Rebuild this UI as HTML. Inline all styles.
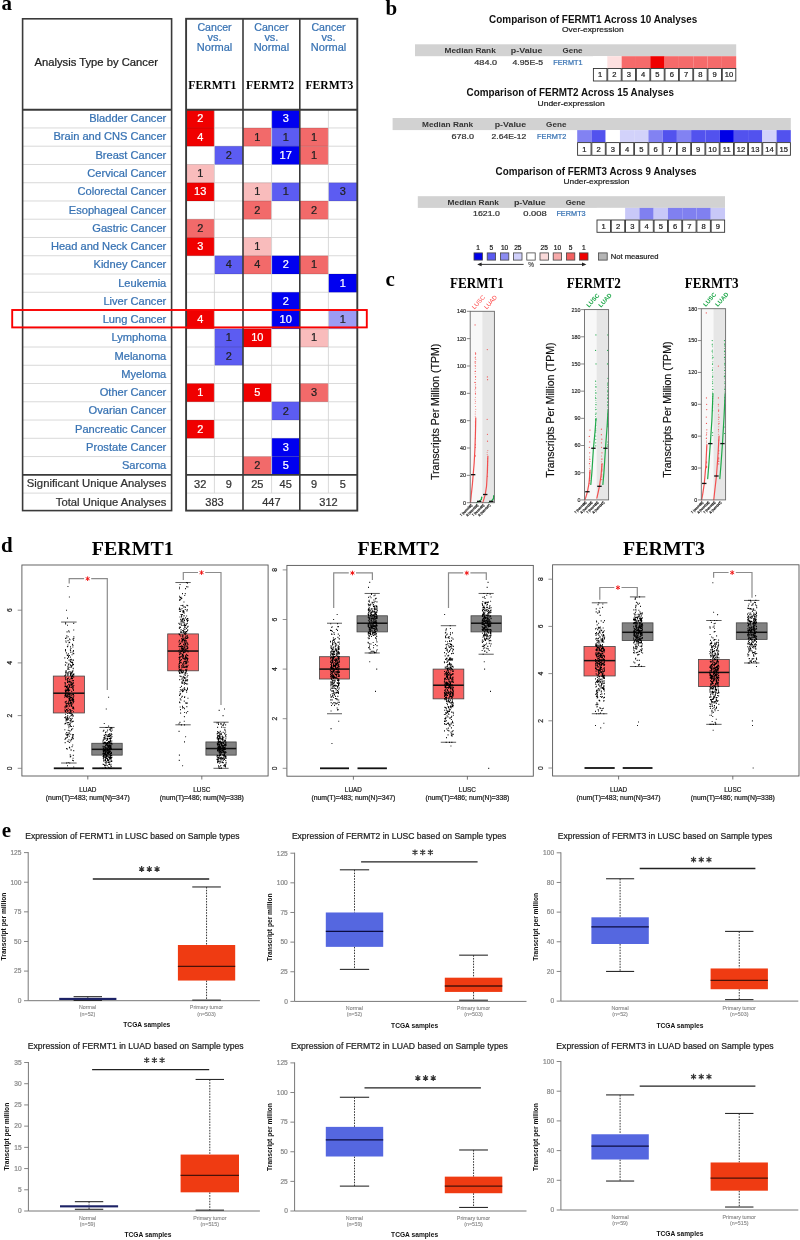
<!DOCTYPE html>
<html><head><meta charset="utf-8"><title>Figure</title>
<style>html,body{margin:0;padding:0;background:#fff;width:800px;height:1240px;overflow:hidden}svg{display:block}</style>
</head><body>
<svg width="800" height="1240" viewBox="0 0 800 1240">
<rect width="800" height="1240" fill="#fff"/>
<text x="1.50" y="9.60" font-size="21" fill="#000" font-family='"Liberation Serif", serif' font-weight="bold">a</text>
<text x="385.50" y="14.50" font-size="21" fill="#000" font-family='"Liberation Serif", serif' font-weight="bold">b</text>
<text x="385.50" y="285.70" font-size="21" fill="#000" font-family='"Liberation Serif", serif' font-weight="bold">c</text>
<text x="1.00" y="551.50" font-size="21" fill="#000" font-family='"Liberation Serif", serif' font-weight="bold">d</text>
<text x="1.80" y="836.80" font-size="21" fill="#000" font-family='"Liberation Serif", serif' font-weight="bold">e</text>
<text x="166.30" y="122.23" font-size="10.1" fill="#3772b3" font-family='"Liberation Sans", sans-serif' text-anchor="end" textLength="77.1" lengthAdjust="spacingAndGlyphs" stroke="#3772b3" stroke-width="0.22">Bladder Cancer</text>
<line x1="22.60" y1="127.96" x2="171.60" y2="127.96" stroke="#cfcfcf" stroke-width="0.8"/>
<text x="166.30" y="140.48" font-size="10.1" fill="#3772b3" font-family='"Liberation Sans", sans-serif' text-anchor="end" textLength="112.9" lengthAdjust="spacingAndGlyphs" stroke="#3772b3" stroke-width="0.22">Brain and CNS Cancer</text>
<line x1="22.60" y1="146.21" x2="171.60" y2="146.21" stroke="#cfcfcf" stroke-width="0.8"/>
<text x="166.30" y="158.74" font-size="10.1" fill="#3772b3" font-family='"Liberation Sans", sans-serif' text-anchor="end" textLength="70.9" lengthAdjust="spacingAndGlyphs" stroke="#3772b3" stroke-width="0.22">Breast Cancer</text>
<line x1="22.60" y1="164.47" x2="171.60" y2="164.47" stroke="#cfcfcf" stroke-width="0.8"/>
<text x="166.30" y="176.99" font-size="10.1" fill="#3772b3" font-family='"Liberation Sans", sans-serif' text-anchor="end" textLength="79.0" lengthAdjust="spacingAndGlyphs" stroke="#3772b3" stroke-width="0.22">Cervical Cancer</text>
<line x1="22.60" y1="182.72" x2="171.60" y2="182.72" stroke="#cfcfcf" stroke-width="0.8"/>
<text x="166.30" y="195.25" font-size="10.1" fill="#3772b3" font-family='"Liberation Sans", sans-serif' text-anchor="end" textLength="88.8" lengthAdjust="spacingAndGlyphs" stroke="#3772b3" stroke-width="0.22">Colorectal Cancer</text>
<line x1="22.60" y1="200.98" x2="171.60" y2="200.98" stroke="#cfcfcf" stroke-width="0.8"/>
<text x="166.30" y="213.50" font-size="10.1" fill="#3772b3" font-family='"Liberation Sans", sans-serif' text-anchor="end" textLength="97.5" lengthAdjust="spacingAndGlyphs" stroke="#3772b3" stroke-width="0.22">Esophageal Cancer</text>
<line x1="22.60" y1="219.23" x2="171.60" y2="219.23" stroke="#cfcfcf" stroke-width="0.8"/>
<text x="166.30" y="231.76" font-size="10.1" fill="#3772b3" font-family='"Liberation Sans", sans-serif' text-anchor="end" textLength="74.0" lengthAdjust="spacingAndGlyphs" stroke="#3772b3" stroke-width="0.22">Gastric Cancer</text>
<line x1="22.60" y1="237.49" x2="171.60" y2="237.49" stroke="#cfcfcf" stroke-width="0.8"/>
<text x="166.30" y="250.01" font-size="10.1" fill="#3772b3" font-family='"Liberation Sans", sans-serif' text-anchor="end" textLength="115.4" lengthAdjust="spacingAndGlyphs" stroke="#3772b3" stroke-width="0.22">Head and Neck Cancer</text>
<line x1="22.60" y1="255.74" x2="171.60" y2="255.74" stroke="#cfcfcf" stroke-width="0.8"/>
<text x="166.30" y="268.27" font-size="10.1" fill="#3772b3" font-family='"Liberation Sans", sans-serif' text-anchor="end" textLength="72.8" lengthAdjust="spacingAndGlyphs" stroke="#3772b3" stroke-width="0.22">Kidney Cancer</text>
<line x1="22.60" y1="274.00" x2="171.60" y2="274.00" stroke="#cfcfcf" stroke-width="0.8"/>
<text x="166.30" y="286.52" font-size="10.1" fill="#3772b3" font-family='"Liberation Sans", sans-serif' text-anchor="end" textLength="48.1" lengthAdjust="spacingAndGlyphs" stroke="#3772b3" stroke-width="0.22">Leukemia</text>
<line x1="22.60" y1="292.25" x2="171.60" y2="292.25" stroke="#cfcfcf" stroke-width="0.8"/>
<text x="166.30" y="304.78" font-size="10.1" fill="#3772b3" font-family='"Liberation Sans", sans-serif' text-anchor="end" textLength="62.9" lengthAdjust="spacingAndGlyphs" stroke="#3772b3" stroke-width="0.22">Liver Cancer</text>
<line x1="22.60" y1="310.51" x2="171.60" y2="310.51" stroke="#cfcfcf" stroke-width="0.8"/>
<text x="166.30" y="323.03" font-size="10.1" fill="#3772b3" font-family='"Liberation Sans", sans-serif' text-anchor="end" textLength="63.6" lengthAdjust="spacingAndGlyphs" stroke="#3772b3" stroke-width="0.22">Lung Cancer</text>
<line x1="22.60" y1="328.76" x2="171.60" y2="328.76" stroke="#cfcfcf" stroke-width="0.8"/>
<text x="166.30" y="341.29" font-size="10.1" fill="#3772b3" font-family='"Liberation Sans", sans-serif' text-anchor="end" textLength="54.9" lengthAdjust="spacingAndGlyphs" stroke="#3772b3" stroke-width="0.22">Lymphoma</text>
<line x1="22.60" y1="347.02" x2="171.60" y2="347.02" stroke="#cfcfcf" stroke-width="0.8"/>
<text x="166.30" y="359.54" font-size="10.1" fill="#3772b3" font-family='"Liberation Sans", sans-serif' text-anchor="end" textLength="51.8" lengthAdjust="spacingAndGlyphs" stroke="#3772b3" stroke-width="0.22">Melanoma</text>
<line x1="22.60" y1="365.27" x2="171.60" y2="365.27" stroke="#cfcfcf" stroke-width="0.8"/>
<text x="166.30" y="377.80" font-size="10.1" fill="#3772b3" font-family='"Liberation Sans", sans-serif' text-anchor="end" textLength="45.0" lengthAdjust="spacingAndGlyphs" stroke="#3772b3" stroke-width="0.22">Myeloma</text>
<line x1="22.60" y1="383.53" x2="171.60" y2="383.53" stroke="#cfcfcf" stroke-width="0.8"/>
<text x="166.30" y="396.05" font-size="10.1" fill="#3772b3" font-family='"Liberation Sans", sans-serif' text-anchor="end" textLength="66.6" lengthAdjust="spacingAndGlyphs" stroke="#3772b3" stroke-width="0.22">Other Cancer</text>
<line x1="22.60" y1="401.78" x2="171.60" y2="401.78" stroke="#cfcfcf" stroke-width="0.8"/>
<text x="166.30" y="414.31" font-size="10.1" fill="#3772b3" font-family='"Liberation Sans", sans-serif' text-anchor="end" textLength="77.7" lengthAdjust="spacingAndGlyphs" stroke="#3772b3" stroke-width="0.22">Ovarian Cancer</text>
<line x1="22.60" y1="420.04" x2="171.60" y2="420.04" stroke="#cfcfcf" stroke-width="0.8"/>
<text x="166.30" y="432.56" font-size="10.1" fill="#3772b3" font-family='"Liberation Sans", sans-serif' text-anchor="end" textLength="91.3" lengthAdjust="spacingAndGlyphs" stroke="#3772b3" stroke-width="0.22">Pancreatic Cancer</text>
<line x1="22.60" y1="438.29" x2="171.60" y2="438.29" stroke="#cfcfcf" stroke-width="0.8"/>
<text x="166.30" y="450.82" font-size="10.1" fill="#3772b3" font-family='"Liberation Sans", sans-serif' text-anchor="end" textLength="80.2" lengthAdjust="spacingAndGlyphs" stroke="#3772b3" stroke-width="0.22">Prostate Cancer</text>
<line x1="22.60" y1="456.55" x2="171.60" y2="456.55" stroke="#cfcfcf" stroke-width="0.8"/>
<text x="166.30" y="469.07" font-size="10.1" fill="#3772b3" font-family='"Liberation Sans", sans-serif' text-anchor="end" textLength="44.4" lengthAdjust="spacingAndGlyphs" stroke="#3772b3" stroke-width="0.22">Sarcoma</text>
<line x1="22.60" y1="493.10" x2="171.60" y2="493.10" stroke="#cfcfcf" stroke-width="0.8"/>
<text x="166.30" y="487.33" font-size="10.1" fill="#333" font-family='"Liberation Sans", sans-serif' text-anchor="end" textLength="139.5" lengthAdjust="spacingAndGlyphs" stroke="#333" stroke-width="0.22">Significant Unique Analyses</text>
<text x="166.30" y="505.63" font-size="10.1" fill="#333" font-family='"Liberation Sans", sans-serif' text-anchor="end" textLength="110.5" lengthAdjust="spacingAndGlyphs" stroke="#333" stroke-width="0.22">Total Unique Analyses</text>
<text x="96.20" y="66.00" font-size="10.1" fill="#222" font-family='"Liberation Sans", sans-serif' text-anchor="middle" textLength="123.5" lengthAdjust="spacingAndGlyphs" stroke="#222" stroke-width="0.22">Analysis Type by Cancer</text>
<rect x="186.10" y="109.70" width="28.30" height="18.26" fill="#f00000"/>
<text x="200.25" y="122.43" font-size="10.2" fill="#fff" font-family='"Liberation Sans", sans-serif' text-anchor="middle" textLength="6.1" lengthAdjust="spacingAndGlyphs" stroke="#fff" stroke-width="0.22">2</text>
<rect x="271.60" y="109.70" width="28.20" height="18.26" fill="#0000f0"/>
<text x="285.70" y="122.43" font-size="10.2" fill="#fff" font-family='"Liberation Sans", sans-serif' text-anchor="middle" textLength="6.1" lengthAdjust="spacingAndGlyphs" stroke="#fff" stroke-width="0.22">3</text>
<rect x="186.10" y="127.96" width="28.30" height="18.26" fill="#f00000"/>
<text x="200.25" y="140.68" font-size="10.2" fill="#fff" font-family='"Liberation Sans", sans-serif' text-anchor="middle" textLength="6.1" lengthAdjust="spacingAndGlyphs" stroke="#fff" stroke-width="0.22">4</text>
<rect x="243.00" y="127.96" width="28.60" height="18.26" fill="#f26a6a"/>
<text x="257.30" y="140.68" font-size="10.2" fill="#222" font-family='"Liberation Sans", sans-serif' text-anchor="middle" textLength="6.1" lengthAdjust="spacingAndGlyphs" stroke="#222" stroke-width="0.22">1</text>
<rect x="271.60" y="127.96" width="28.20" height="18.26" fill="#5c5cf2"/>
<text x="285.70" y="140.68" font-size="10.2" fill="#222" font-family='"Liberation Sans", sans-serif' text-anchor="middle" textLength="6.1" lengthAdjust="spacingAndGlyphs" stroke="#222" stroke-width="0.22">1</text>
<rect x="299.80" y="127.96" width="28.60" height="18.26" fill="#f26a6a"/>
<text x="314.10" y="140.68" font-size="10.2" fill="#222" font-family='"Liberation Sans", sans-serif' text-anchor="middle" textLength="6.1" lengthAdjust="spacingAndGlyphs" stroke="#222" stroke-width="0.22">1</text>
<rect x="214.40" y="146.21" width="28.60" height="18.26" fill="#5c5cf2"/>
<text x="228.70" y="158.94" font-size="10.2" fill="#222" font-family='"Liberation Sans", sans-serif' text-anchor="middle" textLength="6.1" lengthAdjust="spacingAndGlyphs" stroke="#222" stroke-width="0.22">2</text>
<rect x="271.60" y="146.21" width="28.20" height="18.26" fill="#0000f0"/>
<text x="285.70" y="158.94" font-size="10.2" fill="#fff" font-family='"Liberation Sans", sans-serif' text-anchor="middle" textLength="12.3" lengthAdjust="spacingAndGlyphs" stroke="#fff" stroke-width="0.22">17</text>
<rect x="299.80" y="146.21" width="28.60" height="18.26" fill="#f26a6a"/>
<text x="314.10" y="158.94" font-size="10.2" fill="#222" font-family='"Liberation Sans", sans-serif' text-anchor="middle" textLength="6.1" lengthAdjust="spacingAndGlyphs" stroke="#222" stroke-width="0.22">1</text>
<rect x="186.10" y="164.47" width="28.30" height="18.26" fill="#f9bcbc"/>
<text x="200.25" y="177.19" font-size="10.2" fill="#222" font-family='"Liberation Sans", sans-serif' text-anchor="middle" textLength="6.1" lengthAdjust="spacingAndGlyphs" stroke="#222" stroke-width="0.22">1</text>
<rect x="186.10" y="182.72" width="28.30" height="18.26" fill="#f00000"/>
<text x="200.25" y="195.45" font-size="10.2" fill="#fff" font-family='"Liberation Sans", sans-serif' text-anchor="middle" textLength="12.3" lengthAdjust="spacingAndGlyphs" stroke="#fff" stroke-width="0.22">13</text>
<rect x="243.00" y="182.72" width="28.60" height="18.26" fill="#f9bcbc"/>
<text x="257.30" y="195.45" font-size="10.2" fill="#222" font-family='"Liberation Sans", sans-serif' text-anchor="middle" textLength="6.1" lengthAdjust="spacingAndGlyphs" stroke="#222" stroke-width="0.22">1</text>
<rect x="271.60" y="182.72" width="28.20" height="18.26" fill="#5c5cf2"/>
<text x="285.70" y="195.45" font-size="10.2" fill="#222" font-family='"Liberation Sans", sans-serif' text-anchor="middle" textLength="6.1" lengthAdjust="spacingAndGlyphs" stroke="#222" stroke-width="0.22">1</text>
<rect x="328.40" y="182.72" width="28.90" height="18.26" fill="#5c5cf2"/>
<text x="342.85" y="195.45" font-size="10.2" fill="#222" font-family='"Liberation Sans", sans-serif' text-anchor="middle" textLength="6.1" lengthAdjust="spacingAndGlyphs" stroke="#222" stroke-width="0.22">3</text>
<rect x="243.00" y="200.98" width="28.60" height="18.26" fill="#f26a6a"/>
<text x="257.30" y="213.70" font-size="10.2" fill="#222" font-family='"Liberation Sans", sans-serif' text-anchor="middle" textLength="6.1" lengthAdjust="spacingAndGlyphs" stroke="#222" stroke-width="0.22">2</text>
<rect x="299.80" y="200.98" width="28.60" height="18.26" fill="#f26a6a"/>
<text x="314.10" y="213.70" font-size="10.2" fill="#222" font-family='"Liberation Sans", sans-serif' text-anchor="middle" textLength="6.1" lengthAdjust="spacingAndGlyphs" stroke="#222" stroke-width="0.22">2</text>
<rect x="186.10" y="219.23" width="28.30" height="18.26" fill="#f26a6a"/>
<text x="200.25" y="231.96" font-size="10.2" fill="#222" font-family='"Liberation Sans", sans-serif' text-anchor="middle" textLength="6.1" lengthAdjust="spacingAndGlyphs" stroke="#222" stroke-width="0.22">2</text>
<rect x="186.10" y="237.49" width="28.30" height="18.26" fill="#f00000"/>
<text x="200.25" y="250.21" font-size="10.2" fill="#fff" font-family='"Liberation Sans", sans-serif' text-anchor="middle" textLength="6.1" lengthAdjust="spacingAndGlyphs" stroke="#fff" stroke-width="0.22">3</text>
<rect x="243.00" y="237.49" width="28.60" height="18.26" fill="#f9bcbc"/>
<text x="257.30" y="250.21" font-size="10.2" fill="#222" font-family='"Liberation Sans", sans-serif' text-anchor="middle" textLength="6.1" lengthAdjust="spacingAndGlyphs" stroke="#222" stroke-width="0.22">1</text>
<rect x="214.40" y="255.74" width="28.60" height="18.26" fill="#5c5cf2"/>
<text x="228.70" y="268.47" font-size="10.2" fill="#222" font-family='"Liberation Sans", sans-serif' text-anchor="middle" textLength="6.1" lengthAdjust="spacingAndGlyphs" stroke="#222" stroke-width="0.22">4</text>
<rect x="243.00" y="255.74" width="28.60" height="18.26" fill="#f26a6a"/>
<text x="257.30" y="268.47" font-size="10.2" fill="#222" font-family='"Liberation Sans", sans-serif' text-anchor="middle" textLength="6.1" lengthAdjust="spacingAndGlyphs" stroke="#222" stroke-width="0.22">4</text>
<rect x="271.60" y="255.74" width="28.20" height="18.26" fill="#0000f0"/>
<text x="285.70" y="268.47" font-size="10.2" fill="#fff" font-family='"Liberation Sans", sans-serif' text-anchor="middle" textLength="6.1" lengthAdjust="spacingAndGlyphs" stroke="#fff" stroke-width="0.22">2</text>
<rect x="299.80" y="255.74" width="28.60" height="18.26" fill="#f26a6a"/>
<text x="314.10" y="268.47" font-size="10.2" fill="#222" font-family='"Liberation Sans", sans-serif' text-anchor="middle" textLength="6.1" lengthAdjust="spacingAndGlyphs" stroke="#222" stroke-width="0.22">1</text>
<rect x="328.40" y="274.00" width="28.90" height="18.26" fill="#0000f0"/>
<text x="342.85" y="286.72" font-size="10.2" fill="#fff" font-family='"Liberation Sans", sans-serif' text-anchor="middle" textLength="6.1" lengthAdjust="spacingAndGlyphs" stroke="#fff" stroke-width="0.22">1</text>
<rect x="271.60" y="292.25" width="28.20" height="18.26" fill="#0000f0"/>
<text x="285.70" y="304.98" font-size="10.2" fill="#fff" font-family='"Liberation Sans", sans-serif' text-anchor="middle" textLength="6.1" lengthAdjust="spacingAndGlyphs" stroke="#fff" stroke-width="0.22">2</text>
<rect x="186.10" y="310.51" width="28.30" height="18.26" fill="#f00000"/>
<text x="200.25" y="323.23" font-size="10.2" fill="#fff" font-family='"Liberation Sans", sans-serif' text-anchor="middle" textLength="6.1" lengthAdjust="spacingAndGlyphs" stroke="#fff" stroke-width="0.22">4</text>
<rect x="271.60" y="310.51" width="28.20" height="18.26" fill="#0000f0"/>
<text x="285.70" y="323.23" font-size="10.2" fill="#fff" font-family='"Liberation Sans", sans-serif' text-anchor="middle" textLength="12.3" lengthAdjust="spacingAndGlyphs" stroke="#fff" stroke-width="0.22">10</text>
<rect x="328.40" y="310.51" width="28.90" height="18.26" fill="#9c9cf4"/>
<text x="342.85" y="323.23" font-size="10.2" fill="#222" font-family='"Liberation Sans", sans-serif' text-anchor="middle" textLength="6.1" lengthAdjust="spacingAndGlyphs" stroke="#222" stroke-width="0.22">1</text>
<rect x="214.40" y="328.76" width="28.60" height="18.26" fill="#5c5cf2"/>
<text x="228.70" y="341.49" font-size="10.2" fill="#222" font-family='"Liberation Sans", sans-serif' text-anchor="middle" textLength="6.1" lengthAdjust="spacingAndGlyphs" stroke="#222" stroke-width="0.22">1</text>
<rect x="243.00" y="328.76" width="28.60" height="18.26" fill="#f00000"/>
<text x="257.30" y="341.49" font-size="10.2" fill="#fff" font-family='"Liberation Sans", sans-serif' text-anchor="middle" textLength="12.3" lengthAdjust="spacingAndGlyphs" stroke="#fff" stroke-width="0.22">10</text>
<rect x="299.80" y="328.76" width="28.60" height="18.26" fill="#f9bcbc"/>
<text x="314.10" y="341.49" font-size="10.2" fill="#222" font-family='"Liberation Sans", sans-serif' text-anchor="middle" textLength="6.1" lengthAdjust="spacingAndGlyphs" stroke="#222" stroke-width="0.22">1</text>
<rect x="214.40" y="347.02" width="28.60" height="18.26" fill="#5c5cf2"/>
<text x="228.70" y="359.74" font-size="10.2" fill="#222" font-family='"Liberation Sans", sans-serif' text-anchor="middle" textLength="6.1" lengthAdjust="spacingAndGlyphs" stroke="#222" stroke-width="0.22">2</text>
<rect x="186.10" y="383.53" width="28.30" height="18.26" fill="#f00000"/>
<text x="200.25" y="396.25" font-size="10.2" fill="#fff" font-family='"Liberation Sans", sans-serif' text-anchor="middle" textLength="6.1" lengthAdjust="spacingAndGlyphs" stroke="#fff" stroke-width="0.22">1</text>
<rect x="243.00" y="383.53" width="28.60" height="18.26" fill="#f00000"/>
<text x="257.30" y="396.25" font-size="10.2" fill="#fff" font-family='"Liberation Sans", sans-serif' text-anchor="middle" textLength="6.1" lengthAdjust="spacingAndGlyphs" stroke="#fff" stroke-width="0.22">5</text>
<rect x="299.80" y="383.53" width="28.60" height="18.26" fill="#f26a6a"/>
<text x="314.10" y="396.25" font-size="10.2" fill="#222" font-family='"Liberation Sans", sans-serif' text-anchor="middle" textLength="6.1" lengthAdjust="spacingAndGlyphs" stroke="#222" stroke-width="0.22">3</text>
<rect x="271.60" y="401.78" width="28.20" height="18.26" fill="#5c5cf2"/>
<text x="285.70" y="414.51" font-size="10.2" fill="#222" font-family='"Liberation Sans", sans-serif' text-anchor="middle" textLength="6.1" lengthAdjust="spacingAndGlyphs" stroke="#222" stroke-width="0.22">2</text>
<rect x="186.10" y="420.04" width="28.30" height="18.26" fill="#f00000"/>
<text x="200.25" y="432.76" font-size="10.2" fill="#fff" font-family='"Liberation Sans", sans-serif' text-anchor="middle" textLength="6.1" lengthAdjust="spacingAndGlyphs" stroke="#fff" stroke-width="0.22">2</text>
<rect x="271.60" y="438.29" width="28.20" height="18.26" fill="#0000f0"/>
<text x="285.70" y="451.02" font-size="10.2" fill="#fff" font-family='"Liberation Sans", sans-serif' text-anchor="middle" textLength="6.1" lengthAdjust="spacingAndGlyphs" stroke="#fff" stroke-width="0.22">3</text>
<rect x="243.00" y="456.55" width="28.60" height="18.26" fill="#f26a6a"/>
<text x="257.30" y="469.27" font-size="10.2" fill="#222" font-family='"Liberation Sans", sans-serif' text-anchor="middle" textLength="6.1" lengthAdjust="spacingAndGlyphs" stroke="#222" stroke-width="0.22">2</text>
<rect x="271.60" y="456.55" width="28.20" height="18.26" fill="#0000f0"/>
<text x="285.70" y="469.27" font-size="10.2" fill="#fff" font-family='"Liberation Sans", sans-serif' text-anchor="middle" textLength="6.1" lengthAdjust="spacingAndGlyphs" stroke="#fff" stroke-width="0.22">5</text>
<line x1="186.1" y1="127.96" x2="357.3" y2="127.96" stroke="#cfcfcf" stroke-width="0.8" style="mix-blend-mode:multiply"/>
<line x1="186.1" y1="146.21" x2="357.3" y2="146.21" stroke="#cfcfcf" stroke-width="0.8" style="mix-blend-mode:multiply"/>
<line x1="186.1" y1="164.47" x2="357.3" y2="164.47" stroke="#cfcfcf" stroke-width="0.8" style="mix-blend-mode:multiply"/>
<line x1="186.1" y1="182.72" x2="357.3" y2="182.72" stroke="#cfcfcf" stroke-width="0.8" style="mix-blend-mode:multiply"/>
<line x1="186.1" y1="200.98" x2="357.3" y2="200.98" stroke="#cfcfcf" stroke-width="0.8" style="mix-blend-mode:multiply"/>
<line x1="186.1" y1="219.23" x2="357.3" y2="219.23" stroke="#cfcfcf" stroke-width="0.8" style="mix-blend-mode:multiply"/>
<line x1="186.1" y1="237.49" x2="357.3" y2="237.49" stroke="#cfcfcf" stroke-width="0.8" style="mix-blend-mode:multiply"/>
<line x1="186.1" y1="255.74" x2="357.3" y2="255.74" stroke="#cfcfcf" stroke-width="0.8" style="mix-blend-mode:multiply"/>
<line x1="186.1" y1="274.00" x2="357.3" y2="274.00" stroke="#cfcfcf" stroke-width="0.8" style="mix-blend-mode:multiply"/>
<line x1="186.1" y1="292.25" x2="357.3" y2="292.25" stroke="#cfcfcf" stroke-width="0.8" style="mix-blend-mode:multiply"/>
<line x1="186.1" y1="310.51" x2="357.3" y2="310.51" stroke="#cfcfcf" stroke-width="0.8" style="mix-blend-mode:multiply"/>
<line x1="186.1" y1="328.76" x2="357.3" y2="328.76" stroke="#cfcfcf" stroke-width="0.8" style="mix-blend-mode:multiply"/>
<line x1="186.1" y1="347.02" x2="357.3" y2="347.02" stroke="#cfcfcf" stroke-width="0.8" style="mix-blend-mode:multiply"/>
<line x1="186.1" y1="365.27" x2="357.3" y2="365.27" stroke="#cfcfcf" stroke-width="0.8" style="mix-blend-mode:multiply"/>
<line x1="186.1" y1="383.53" x2="357.3" y2="383.53" stroke="#cfcfcf" stroke-width="0.8" style="mix-blend-mode:multiply"/>
<line x1="186.1" y1="401.78" x2="357.3" y2="401.78" stroke="#cfcfcf" stroke-width="0.8" style="mix-blend-mode:multiply"/>
<line x1="186.1" y1="420.04" x2="357.3" y2="420.04" stroke="#cfcfcf" stroke-width="0.8" style="mix-blend-mode:multiply"/>
<line x1="186.1" y1="438.29" x2="357.3" y2="438.29" stroke="#cfcfcf" stroke-width="0.8" style="mix-blend-mode:multiply"/>
<line x1="186.1" y1="456.55" x2="357.3" y2="456.55" stroke="#cfcfcf" stroke-width="0.8" style="mix-blend-mode:multiply"/>
<line x1="186.10" y1="493.10" x2="357.30" y2="493.10" stroke="#cfcfcf" stroke-width="0.8"/>
<line x1="214.40" y1="109.70" x2="214.40" y2="493.10" stroke="#cfcfcf" stroke-width="0.8"/>
<line x1="271.60" y1="109.70" x2="271.60" y2="493.10" stroke="#cfcfcf" stroke-width="0.8"/>
<line x1="328.40" y1="109.70" x2="328.40" y2="493.10" stroke="#cfcfcf" stroke-width="0.8"/>
<text x="200.25" y="487.53" font-size="10.2" fill="#333" font-family='"Liberation Sans", sans-serif' text-anchor="middle" textLength="12.3" lengthAdjust="spacingAndGlyphs" stroke="#333" stroke-width="0.22">32</text>
<text x="228.70" y="487.53" font-size="10.2" fill="#333" font-family='"Liberation Sans", sans-serif' text-anchor="middle" textLength="6.1" lengthAdjust="spacingAndGlyphs" stroke="#333" stroke-width="0.22">9</text>
<text x="257.30" y="487.53" font-size="10.2" fill="#333" font-family='"Liberation Sans", sans-serif' text-anchor="middle" textLength="12.3" lengthAdjust="spacingAndGlyphs" stroke="#333" stroke-width="0.22">25</text>
<text x="285.70" y="487.53" font-size="10.2" fill="#333" font-family='"Liberation Sans", sans-serif' text-anchor="middle" textLength="12.3" lengthAdjust="spacingAndGlyphs" stroke="#333" stroke-width="0.22">45</text>
<text x="314.10" y="487.53" font-size="10.2" fill="#333" font-family='"Liberation Sans", sans-serif' text-anchor="middle" textLength="6.1" lengthAdjust="spacingAndGlyphs" stroke="#333" stroke-width="0.22">9</text>
<text x="342.85" y="487.53" font-size="10.2" fill="#333" font-family='"Liberation Sans", sans-serif' text-anchor="middle" textLength="6.1" lengthAdjust="spacingAndGlyphs" stroke="#333" stroke-width="0.22">5</text>
<text x="214.55" y="505.83" font-size="10.2" fill="#333" font-family='"Liberation Sans", sans-serif' text-anchor="middle" textLength="18.4" lengthAdjust="spacingAndGlyphs" stroke="#333" stroke-width="0.22">383</text>
<text x="271.40" y="505.83" font-size="10.2" fill="#333" font-family='"Liberation Sans", sans-serif' text-anchor="middle" textLength="18.4" lengthAdjust="spacingAndGlyphs" stroke="#333" stroke-width="0.22">447</text>
<text x="328.55" y="505.83" font-size="10.2" fill="#333" font-family='"Liberation Sans", sans-serif' text-anchor="middle" textLength="18.4" lengthAdjust="spacingAndGlyphs" stroke="#333" stroke-width="0.22">312</text>
<text x="214.55" y="31.20" font-size="10.6" fill="#3772b3" font-family='"Liberation Sans", sans-serif' text-anchor="middle" textLength="34.2" lengthAdjust="spacingAndGlyphs" stroke="#3772b3" stroke-width="0.22">Cancer</text>
<text x="214.55" y="41.20" font-size="10.6" fill="#3772b3" font-family='"Liberation Sans", sans-serif' text-anchor="middle" textLength="14.0" lengthAdjust="spacingAndGlyphs" stroke="#3772b3" stroke-width="0.22">vs.</text>
<text x="214.55" y="51.30" font-size="10.6" fill="#3772b3" font-family='"Liberation Sans", sans-serif' text-anchor="middle" textLength="35.5" lengthAdjust="spacingAndGlyphs" stroke="#3772b3" stroke-width="0.22">Normal</text>
<text x="212.30" y="89.20" font-size="12.6" fill="#000" font-family='"Liberation Serif", serif' font-weight="bold" text-anchor="middle" textLength="48.0" lengthAdjust="spacingAndGlyphs">FERMT1</text>
<text x="271.40" y="31.20" font-size="10.6" fill="#3772b3" font-family='"Liberation Sans", sans-serif' text-anchor="middle" textLength="34.2" lengthAdjust="spacingAndGlyphs" stroke="#3772b3" stroke-width="0.22">Cancer</text>
<text x="271.40" y="41.20" font-size="10.6" fill="#3772b3" font-family='"Liberation Sans", sans-serif' text-anchor="middle" textLength="14.0" lengthAdjust="spacingAndGlyphs" stroke="#3772b3" stroke-width="0.22">vs.</text>
<text x="271.40" y="51.30" font-size="10.6" fill="#3772b3" font-family='"Liberation Sans", sans-serif' text-anchor="middle" textLength="35.5" lengthAdjust="spacingAndGlyphs" stroke="#3772b3" stroke-width="0.22">Normal</text>
<text x="270.10" y="89.20" font-size="12.6" fill="#000" font-family='"Liberation Serif", serif' font-weight="bold" text-anchor="middle" textLength="48.0" lengthAdjust="spacingAndGlyphs">FERMT2</text>
<text x="328.55" y="31.20" font-size="10.6" fill="#3772b3" font-family='"Liberation Sans", sans-serif' text-anchor="middle" textLength="34.2" lengthAdjust="spacingAndGlyphs" stroke="#3772b3" stroke-width="0.22">Cancer</text>
<text x="328.55" y="41.20" font-size="10.6" fill="#3772b3" font-family='"Liberation Sans", sans-serif' text-anchor="middle" textLength="14.0" lengthAdjust="spacingAndGlyphs" stroke="#3772b3" stroke-width="0.22">vs.</text>
<text x="328.55" y="51.30" font-size="10.6" fill="#3772b3" font-family='"Liberation Sans", sans-serif' text-anchor="middle" textLength="35.5" lengthAdjust="spacingAndGlyphs" stroke="#3772b3" stroke-width="0.22">Normal</text>
<text x="329.40" y="89.20" font-size="12.6" fill="#000" font-family='"Liberation Serif", serif' font-weight="bold" text-anchor="middle" textLength="48.0" lengthAdjust="spacingAndGlyphs">FERMT3</text>
<rect x="22.60" y="18.80" width="149.00" height="491.80" fill="none" stroke="#3a3a3a" stroke-width="1.6"/>
<rect x="186.10" y="18.80" width="171.20" height="491.80" fill="none" stroke="#3a3a3a" stroke-width="1.9"/>
<line x1="22.60" y1="109.70" x2="171.60" y2="109.70" stroke="#3a3a3a" stroke-width="2.0"/>
<line x1="186.10" y1="109.70" x2="357.30" y2="109.70" stroke="#3a3a3a" stroke-width="2.0"/>
<line x1="22.60" y1="474.80" x2="171.60" y2="474.80" stroke="#3a3a3a" stroke-width="1.8"/>
<line x1="186.10" y1="474.80" x2="357.30" y2="474.80" stroke="#3a3a3a" stroke-width="1.8"/>
<line x1="243.00" y1="18.80" x2="243.00" y2="510.60" stroke="#3a3a3a" stroke-width="1.6"/>
<line x1="299.80" y1="18.80" x2="299.80" y2="510.60" stroke="#3a3a3a" stroke-width="1.6"/>
<rect x="12.20" y="310.00" width="354.60" height="17.40" fill="none" stroke="#fa0000" stroke-width="1.9"/>
<text x="593.20" y="22.60" font-size="10.0" fill="#111" font-family='"Liberation Sans", sans-serif' font-weight="bold" text-anchor="middle" textLength="208.2" lengthAdjust="spacingAndGlyphs">Comparison of FERMT1 Across 10 Analyses</text>
<text x="592.80" y="32.30" font-size="7.8" fill="#222" font-family='"Liberation Sans", sans-serif' text-anchor="middle" textLength="61.6" lengthAdjust="spacingAndGlyphs" stroke="#222" stroke-width="0.22">Over-expression</text>
<rect x="415.00" y="44.30" width="321.20" height="11.90" fill="#d2d2d2"/>
<text x="470.15" y="52.85" font-size="7.4" fill="#333" font-family='"Liberation Sans", sans-serif' font-weight="bold" text-anchor="middle" textLength="51.3" lengthAdjust="spacingAndGlyphs">Median Rank</text>
<text x="526.65" y="52.85" font-size="7.4" fill="#333" font-family='"Liberation Sans", sans-serif' font-weight="bold" text-anchor="middle" textLength="31.7" lengthAdjust="spacingAndGlyphs">p-Value</text>
<text x="572.50" y="52.85" font-size="7.4" fill="#333" font-family='"Liberation Sans", sans-serif' font-weight="bold" text-anchor="middle" textLength="20.0" lengthAdjust="spacingAndGlyphs">Gene</text>
<text x="485.65" y="64.75" font-size="7.4" fill="#333" font-family='"Liberation Sans", sans-serif' text-anchor="middle" textLength="22.7" lengthAdjust="spacingAndGlyphs" stroke="#333" stroke-width="0.22">484.0</text>
<text x="527.75" y="64.75" font-size="7.4" fill="#333" font-family='"Liberation Sans", sans-serif' text-anchor="middle" textLength="30.5" lengthAdjust="spacingAndGlyphs" stroke="#333" stroke-width="0.22">4.95E-5</text>
<text x="567.90" y="64.75" font-size="7.4" fill="#3772b3" font-family='"Liberation Sans", sans-serif' text-anchor="middle" textLength="29.2" lengthAdjust="spacingAndGlyphs" stroke="#3772b3" stroke-width="0.22">FERMT1</text>
<rect x="593.00" y="56.20" width="14.32" height="11.90" fill="#ffffff"/>
<rect x="593.40" y="68.50" width="13.52" height="12.50" fill="#fff" stroke="#333" stroke-width="0.9"/>
<text x="600.16" y="77.35" font-size="7.6" fill="#222" font-family='"Liberation Sans", sans-serif' text-anchor="middle" stroke="#222" stroke-width="0.22">1</text>
<rect x="607.32" y="56.20" width="14.32" height="11.90" fill="#fde0e0"/>
<rect x="607.72" y="68.50" width="13.52" height="12.50" fill="#fff" stroke="#333" stroke-width="0.9"/>
<text x="614.48" y="77.35" font-size="7.6" fill="#222" font-family='"Liberation Sans", sans-serif' text-anchor="middle" stroke="#222" stroke-width="0.22">2</text>
<rect x="621.64" y="56.20" width="14.32" height="11.90" fill="#f56a6a"/>
<rect x="622.04" y="68.50" width="13.52" height="12.50" fill="#fff" stroke="#333" stroke-width="0.9"/>
<text x="628.80" y="77.35" font-size="7.6" fill="#222" font-family='"Liberation Sans", sans-serif' text-anchor="middle" stroke="#222" stroke-width="0.22">3</text>
<rect x="635.96" y="56.20" width="14.32" height="11.90" fill="#f56a6a"/>
<rect x="636.36" y="68.50" width="13.52" height="12.50" fill="#fff" stroke="#333" stroke-width="0.9"/>
<text x="643.12" y="77.35" font-size="7.6" fill="#222" font-family='"Liberation Sans", sans-serif' text-anchor="middle" stroke="#222" stroke-width="0.22">4</text>
<rect x="650.28" y="56.20" width="14.32" height="11.90" fill="#f00000"/>
<rect x="650.68" y="68.50" width="13.52" height="12.50" fill="#fff" stroke="#333" stroke-width="0.9"/>
<text x="657.44" y="77.35" font-size="7.6" fill="#222" font-family='"Liberation Sans", sans-serif' text-anchor="middle" stroke="#222" stroke-width="0.22">5</text>
<rect x="664.60" y="56.20" width="14.32" height="11.90" fill="#f56a6a"/>
<rect x="665.00" y="68.50" width="13.52" height="12.50" fill="#fff" stroke="#333" stroke-width="0.9"/>
<text x="671.76" y="77.35" font-size="7.6" fill="#222" font-family='"Liberation Sans", sans-serif' text-anchor="middle" stroke="#222" stroke-width="0.22">6</text>
<rect x="678.92" y="56.20" width="14.32" height="11.90" fill="#f56a6a"/>
<rect x="679.32" y="68.50" width="13.52" height="12.50" fill="#fff" stroke="#333" stroke-width="0.9"/>
<text x="686.08" y="77.35" font-size="7.6" fill="#222" font-family='"Liberation Sans", sans-serif' text-anchor="middle" stroke="#222" stroke-width="0.22">7</text>
<rect x="693.24" y="56.20" width="14.32" height="11.90" fill="#f56a6a"/>
<rect x="693.64" y="68.50" width="13.52" height="12.50" fill="#fff" stroke="#333" stroke-width="0.9"/>
<text x="700.40" y="77.35" font-size="7.6" fill="#222" font-family='"Liberation Sans", sans-serif' text-anchor="middle" stroke="#222" stroke-width="0.22">8</text>
<rect x="707.56" y="56.20" width="14.32" height="11.90" fill="#f56a6a"/>
<rect x="707.96" y="68.50" width="13.52" height="12.50" fill="#fff" stroke="#333" stroke-width="0.9"/>
<text x="714.72" y="77.35" font-size="7.6" fill="#222" font-family='"Liberation Sans", sans-serif' text-anchor="middle" stroke="#222" stroke-width="0.22">9</text>
<rect x="721.88" y="56.20" width="14.32" height="11.90" fill="#f56a6a"/>
<rect x="722.28" y="68.50" width="13.52" height="12.50" fill="#fff" stroke="#333" stroke-width="0.9"/>
<text x="729.04" y="77.35" font-size="7.6" fill="#222" font-family='"Liberation Sans", sans-serif' text-anchor="middle" stroke="#222" stroke-width="0.22">10</text>
<text x="570.30" y="96.20" font-size="10.0" fill="#111" font-family='"Liberation Sans", sans-serif' font-weight="bold" text-anchor="middle" textLength="207.4" lengthAdjust="spacingAndGlyphs">Comparison of FERMT2 Across 15 Analyses</text>
<text x="571.10" y="106.40" font-size="7.8" fill="#222" font-family='"Liberation Sans", sans-serif' text-anchor="middle" textLength="67.2" lengthAdjust="spacingAndGlyphs" stroke="#222" stroke-width="0.22">Under-expression</text>
<rect x="392.60" y="118.00" width="398.20" height="12.10" fill="#d2d2d2"/>
<text x="447.60" y="126.65" font-size="7.4" fill="#333" font-family='"Liberation Sans", sans-serif' font-weight="bold" text-anchor="middle" textLength="51.2" lengthAdjust="spacingAndGlyphs">Median Rank</text>
<text x="510.45" y="126.65" font-size="7.4" fill="#333" font-family='"Liberation Sans", sans-serif' font-weight="bold" text-anchor="middle" textLength="31.5" lengthAdjust="spacingAndGlyphs">p-Value</text>
<text x="556.25" y="126.65" font-size="7.4" fill="#333" font-family='"Liberation Sans", sans-serif' font-weight="bold" text-anchor="middle" textLength="20.3" lengthAdjust="spacingAndGlyphs">Gene</text>
<text x="462.70" y="138.75" font-size="7.4" fill="#333" font-family='"Liberation Sans", sans-serif' text-anchor="middle" textLength="22.6" lengthAdjust="spacingAndGlyphs" stroke="#333" stroke-width="0.22">678.0</text>
<text x="508.85" y="138.75" font-size="7.4" fill="#333" font-family='"Liberation Sans", sans-serif' text-anchor="middle" textLength="34.7" lengthAdjust="spacingAndGlyphs" stroke="#333" stroke-width="0.22">2.64E-12</text>
<text x="551.70" y="138.75" font-size="7.4" fill="#3772b3" font-family='"Liberation Sans", sans-serif' text-anchor="middle" textLength="29.4" lengthAdjust="spacingAndGlyphs" stroke="#3772b3" stroke-width="0.22">FERMT2</text>
<rect x="577.20" y="130.10" width="14.24" height="12.10" fill="#8282f2"/>
<rect x="577.60" y="142.60" width="13.44" height="12.70" fill="#fff" stroke="#333" stroke-width="0.9"/>
<text x="584.32" y="151.55" font-size="7.6" fill="#222" font-family='"Liberation Sans", sans-serif' text-anchor="middle" stroke="#222" stroke-width="0.22">1</text>
<rect x="591.44" y="130.10" width="14.24" height="12.10" fill="#5252ee"/>
<rect x="591.84" y="142.60" width="13.44" height="12.70" fill="#fff" stroke="#333" stroke-width="0.9"/>
<text x="598.56" y="151.55" font-size="7.6" fill="#222" font-family='"Liberation Sans", sans-serif' text-anchor="middle" stroke="#222" stroke-width="0.22">2</text>
<rect x="605.68" y="130.10" width="14.24" height="12.10" fill="#ffffff"/>
<rect x="606.08" y="142.60" width="13.44" height="12.70" fill="#fff" stroke="#333" stroke-width="0.9"/>
<text x="612.80" y="151.55" font-size="7.6" fill="#222" font-family='"Liberation Sans", sans-serif' text-anchor="middle" stroke="#222" stroke-width="0.22">3</text>
<rect x="619.92" y="130.10" width="14.24" height="12.10" fill="#d2d2fa"/>
<rect x="620.32" y="142.60" width="13.44" height="12.70" fill="#fff" stroke="#333" stroke-width="0.9"/>
<text x="627.04" y="151.55" font-size="7.6" fill="#222" font-family='"Liberation Sans", sans-serif' text-anchor="middle" stroke="#222" stroke-width="0.22">4</text>
<rect x="634.16" y="130.10" width="14.24" height="12.10" fill="#d2d2fa"/>
<rect x="634.56" y="142.60" width="13.44" height="12.70" fill="#fff" stroke="#333" stroke-width="0.9"/>
<text x="641.28" y="151.55" font-size="7.6" fill="#222" font-family='"Liberation Sans", sans-serif' text-anchor="middle" stroke="#222" stroke-width="0.22">5</text>
<rect x="648.40" y="130.10" width="14.24" height="12.10" fill="#8282f2"/>
<rect x="648.80" y="142.60" width="13.44" height="12.70" fill="#fff" stroke="#333" stroke-width="0.9"/>
<text x="655.52" y="151.55" font-size="7.6" fill="#222" font-family='"Liberation Sans", sans-serif' text-anchor="middle" stroke="#222" stroke-width="0.22">6</text>
<rect x="662.64" y="130.10" width="14.24" height="12.10" fill="#5252ee"/>
<rect x="663.04" y="142.60" width="13.44" height="12.70" fill="#fff" stroke="#333" stroke-width="0.9"/>
<text x="669.76" y="151.55" font-size="7.6" fill="#222" font-family='"Liberation Sans", sans-serif' text-anchor="middle" stroke="#222" stroke-width="0.22">7</text>
<rect x="676.88" y="130.10" width="14.24" height="12.10" fill="#8282f2"/>
<rect x="677.28" y="142.60" width="13.44" height="12.70" fill="#fff" stroke="#333" stroke-width="0.9"/>
<text x="684.00" y="151.55" font-size="7.6" fill="#222" font-family='"Liberation Sans", sans-serif' text-anchor="middle" stroke="#222" stroke-width="0.22">8</text>
<rect x="691.12" y="130.10" width="14.24" height="12.10" fill="#5252ee"/>
<rect x="691.52" y="142.60" width="13.44" height="12.70" fill="#fff" stroke="#333" stroke-width="0.9"/>
<text x="698.24" y="151.55" font-size="7.6" fill="#222" font-family='"Liberation Sans", sans-serif' text-anchor="middle" stroke="#222" stroke-width="0.22">9</text>
<rect x="705.36" y="130.10" width="14.24" height="12.10" fill="#5252ee"/>
<rect x="705.76" y="142.60" width="13.44" height="12.70" fill="#fff" stroke="#333" stroke-width="0.9"/>
<text x="712.48" y="151.55" font-size="7.6" fill="#222" font-family='"Liberation Sans", sans-serif' text-anchor="middle" stroke="#222" stroke-width="0.22">10</text>
<rect x="719.60" y="130.10" width="14.24" height="12.10" fill="#0000e6"/>
<rect x="720.00" y="142.60" width="13.44" height="12.70" fill="#fff" stroke="#333" stroke-width="0.9"/>
<text x="726.72" y="151.55" font-size="7.6" fill="#222" font-family='"Liberation Sans", sans-serif' text-anchor="middle" stroke="#222" stroke-width="0.22">11</text>
<rect x="733.84" y="130.10" width="14.24" height="12.10" fill="#5252ee"/>
<rect x="734.24" y="142.60" width="13.44" height="12.70" fill="#fff" stroke="#333" stroke-width="0.9"/>
<text x="740.96" y="151.55" font-size="7.6" fill="#222" font-family='"Liberation Sans", sans-serif' text-anchor="middle" stroke="#222" stroke-width="0.22">12</text>
<rect x="748.08" y="130.10" width="14.24" height="12.10" fill="#5252ee"/>
<rect x="748.48" y="142.60" width="13.44" height="12.70" fill="#fff" stroke="#333" stroke-width="0.9"/>
<text x="755.20" y="151.55" font-size="7.6" fill="#222" font-family='"Liberation Sans", sans-serif' text-anchor="middle" stroke="#222" stroke-width="0.22">13</text>
<rect x="762.32" y="130.10" width="14.24" height="12.10" fill="#d2d2fa"/>
<rect x="762.72" y="142.60" width="13.44" height="12.70" fill="#fff" stroke="#333" stroke-width="0.9"/>
<text x="769.44" y="151.55" font-size="7.6" fill="#222" font-family='"Liberation Sans", sans-serif' text-anchor="middle" stroke="#222" stroke-width="0.22">14</text>
<rect x="776.56" y="130.10" width="14.24" height="12.10" fill="#5252ee"/>
<rect x="776.96" y="142.60" width="13.44" height="12.70" fill="#fff" stroke="#333" stroke-width="0.9"/>
<text x="783.68" y="151.55" font-size="7.6" fill="#222" font-family='"Liberation Sans", sans-serif' text-anchor="middle" stroke="#222" stroke-width="0.22">15</text>
<text x="596.10" y="174.50" font-size="10.0" fill="#111" font-family='"Liberation Sans", sans-serif' font-weight="bold" text-anchor="middle" textLength="201.0" lengthAdjust="spacingAndGlyphs">Comparison of FERMT3 Across 9 Analyses</text>
<text x="596.50" y="184.20" font-size="7.8" fill="#222" font-family='"Liberation Sans", sans-serif' text-anchor="middle" textLength="65.9" lengthAdjust="spacingAndGlyphs" stroke="#222" stroke-width="0.22">Under-expression</text>
<rect x="417.80" y="196.20" width="307.20" height="11.70" fill="#d2d2d2"/>
<text x="473.30" y="204.65" font-size="7.4" fill="#333" font-family='"Liberation Sans", sans-serif' font-weight="bold" text-anchor="middle" textLength="51.4" lengthAdjust="spacingAndGlyphs">Median Rank</text>
<text x="529.85" y="204.65" font-size="7.4" fill="#333" font-family='"Liberation Sans", sans-serif' font-weight="bold" text-anchor="middle" textLength="31.9" lengthAdjust="spacingAndGlyphs">p-Value</text>
<text x="575.50" y="204.65" font-size="7.4" fill="#333" font-family='"Liberation Sans", sans-serif' font-weight="bold" text-anchor="middle" textLength="19.6" lengthAdjust="spacingAndGlyphs">Gene</text>
<text x="486.50" y="216.35" font-size="7.4" fill="#333" font-family='"Liberation Sans", sans-serif' text-anchor="middle" textLength="26.8" lengthAdjust="spacingAndGlyphs" stroke="#333" stroke-width="0.22">1621.0</text>
<text x="534.90" y="216.35" font-size="7.4" fill="#333" font-family='"Liberation Sans", sans-serif' text-anchor="middle" textLength="23.4" lengthAdjust="spacingAndGlyphs" stroke="#333" stroke-width="0.22">0.008</text>
<text x="571.05" y="216.35" font-size="7.4" fill="#3772b3" font-family='"Liberation Sans", sans-serif' text-anchor="middle" textLength="29.3" lengthAdjust="spacingAndGlyphs" stroke="#3772b3" stroke-width="0.22">FERMT3</text>
<rect x="596.60" y="207.90" width="14.27" height="11.70" fill="#ffffff"/>
<rect x="597.00" y="220.00" width="13.47" height="12.30" fill="#fff" stroke="#333" stroke-width="0.9"/>
<text x="603.74" y="228.75" font-size="7.6" fill="#222" font-family='"Liberation Sans", sans-serif' text-anchor="middle" stroke="#222" stroke-width="0.22">1</text>
<rect x="610.87" y="207.90" width="14.27" height="11.70" fill="#ffffff"/>
<rect x="611.27" y="220.00" width="13.47" height="12.30" fill="#fff" stroke="#333" stroke-width="0.9"/>
<text x="618.00" y="228.75" font-size="7.6" fill="#222" font-family='"Liberation Sans", sans-serif' text-anchor="middle" stroke="#222" stroke-width="0.22">2</text>
<rect x="625.14" y="207.90" width="14.27" height="11.70" fill="#c8c8f8"/>
<rect x="625.54" y="220.00" width="13.47" height="12.30" fill="#fff" stroke="#333" stroke-width="0.9"/>
<text x="632.27" y="228.75" font-size="7.6" fill="#222" font-family='"Liberation Sans", sans-serif' text-anchor="middle" stroke="#222" stroke-width="0.22">3</text>
<rect x="639.41" y="207.90" width="14.27" height="11.70" fill="#8080f0"/>
<rect x="639.81" y="220.00" width="13.47" height="12.30" fill="#fff" stroke="#333" stroke-width="0.9"/>
<text x="646.55" y="228.75" font-size="7.6" fill="#222" font-family='"Liberation Sans", sans-serif' text-anchor="middle" stroke="#222" stroke-width="0.22">4</text>
<rect x="653.68" y="207.90" width="14.27" height="11.70" fill="#c8c8f8"/>
<rect x="654.08" y="220.00" width="13.47" height="12.30" fill="#fff" stroke="#333" stroke-width="0.9"/>
<text x="660.82" y="228.75" font-size="7.6" fill="#222" font-family='"Liberation Sans", sans-serif' text-anchor="middle" stroke="#222" stroke-width="0.22">5</text>
<rect x="667.95" y="207.90" width="14.27" height="11.70" fill="#8080f0"/>
<rect x="668.35" y="220.00" width="13.47" height="12.30" fill="#fff" stroke="#333" stroke-width="0.9"/>
<text x="675.09" y="228.75" font-size="7.6" fill="#222" font-family='"Liberation Sans", sans-serif' text-anchor="middle" stroke="#222" stroke-width="0.22">6</text>
<rect x="682.22" y="207.90" width="14.27" height="11.70" fill="#8080f0"/>
<rect x="682.62" y="220.00" width="13.47" height="12.30" fill="#fff" stroke="#333" stroke-width="0.9"/>
<text x="689.36" y="228.75" font-size="7.6" fill="#222" font-family='"Liberation Sans", sans-serif' text-anchor="middle" stroke="#222" stroke-width="0.22">7</text>
<rect x="696.49" y="207.90" width="14.27" height="11.70" fill="#8080f0"/>
<rect x="696.89" y="220.00" width="13.47" height="12.30" fill="#fff" stroke="#333" stroke-width="0.9"/>
<text x="703.62" y="228.75" font-size="7.6" fill="#222" font-family='"Liberation Sans", sans-serif' text-anchor="middle" stroke="#222" stroke-width="0.22">8</text>
<rect x="710.76" y="207.90" width="14.27" height="11.70" fill="#c8c8f8"/>
<rect x="711.16" y="220.00" width="13.47" height="12.30" fill="#fff" stroke="#333" stroke-width="0.9"/>
<text x="717.89" y="228.75" font-size="7.6" fill="#222" font-family='"Liberation Sans", sans-serif' text-anchor="middle" stroke="#222" stroke-width="0.22">9</text>
<rect x="474.00" y="252.90" width="8.40" height="7.20" fill="#0000e8" stroke="#444" stroke-width="0.8"/>
<text x="478.20" y="249.50" font-size="6.6" fill="#222" font-family='"Liberation Sans", sans-serif' text-anchor="middle" stroke="#222" stroke-width="0.22">1</text>
<rect x="487.20" y="252.90" width="8.40" height="7.20" fill="#5a5af0" stroke="#444" stroke-width="0.8"/>
<text x="491.40" y="249.50" font-size="6.6" fill="#222" font-family='"Liberation Sans", sans-serif' text-anchor="middle" stroke="#222" stroke-width="0.22">5</text>
<rect x="500.40" y="252.90" width="8.40" height="7.20" fill="#8c8cf0" stroke="#444" stroke-width="0.8"/>
<text x="504.60" y="249.50" font-size="6.6" fill="#222" font-family='"Liberation Sans", sans-serif' text-anchor="middle" stroke="#222" stroke-width="0.22">10</text>
<rect x="513.60" y="252.90" width="8.40" height="7.20" fill="#d0d0fa" stroke="#444" stroke-width="0.8"/>
<text x="517.80" y="249.50" font-size="6.6" fill="#222" font-family='"Liberation Sans", sans-serif' text-anchor="middle" stroke="#222" stroke-width="0.22">25</text>
<rect x="526.80" y="252.90" width="8.40" height="7.20" fill="#ffffff" stroke="#444" stroke-width="0.8"/>
<rect x="540.00" y="252.90" width="8.40" height="7.20" fill="#fadada" stroke="#444" stroke-width="0.8"/>
<text x="544.20" y="249.50" font-size="6.6" fill="#222" font-family='"Liberation Sans", sans-serif' text-anchor="middle" stroke="#222" stroke-width="0.22">25</text>
<rect x="553.20" y="252.90" width="8.40" height="7.20" fill="#f7aaaa" stroke="#444" stroke-width="0.8"/>
<text x="557.40" y="249.50" font-size="6.6" fill="#222" font-family='"Liberation Sans", sans-serif' text-anchor="middle" stroke="#222" stroke-width="0.22">10</text>
<rect x="566.40" y="252.90" width="8.40" height="7.20" fill="#f26060" stroke="#444" stroke-width="0.8"/>
<text x="570.60" y="249.50" font-size="6.6" fill="#222" font-family='"Liberation Sans", sans-serif' text-anchor="middle" stroke="#222" stroke-width="0.22">5</text>
<rect x="579.60" y="252.90" width="8.40" height="7.20" fill="#f00000" stroke="#444" stroke-width="0.8"/>
<text x="583.80" y="249.50" font-size="6.6" fill="#222" font-family='"Liberation Sans", sans-serif' text-anchor="middle" stroke="#222" stroke-width="0.22">1</text>
<rect x="598.60" y="252.90" width="8.60" height="7.20" fill="#b4b4b4" stroke="#444" stroke-width="0.8"/>
<text x="610.70" y="259.20" font-size="7.2" fill="#222" font-family='"Liberation Sans", sans-serif' textLength="47.9" lengthAdjust="spacingAndGlyphs" stroke="#222" stroke-width="0.22">Not measured</text>
<line x1="478.50" y1="264.40" x2="523.60" y2="264.40" stroke="#222" stroke-width="0.9"/>
<path d="M477.2 264.4 L481.6 262.6 L481.6 266.2 Z" fill="#222"/>
<line x1="539.90" y1="264.40" x2="585.00" y2="264.40" stroke="#222" stroke-width="0.9"/>
<path d="M586.4 264.4 L582 262.6 L582 266.2 Z" fill="#222"/>
<text x="531.20" y="267.20" font-size="6.4" fill="#555" font-family='"Liberation Sans", sans-serif' text-anchor="middle" stroke="#555" stroke-width="0.22">%</text>
<text x="476.90" y="287.60" font-size="13.6" fill="#000" font-family='"Liberation Serif", serif' font-weight="bold" text-anchor="middle" textLength="54.0" lengthAdjust="spacingAndGlyphs">FERMT1</text>
<text transform="translate(439.40,411.90) rotate(-90)" x="0" y="0" font-size="11.6" font-family='"Liberation Sans", sans-serif' text-anchor="middle" fill="#111" stroke="#111" stroke-width="0.2" textLength="136.3" lengthAdjust="spacingAndGlyphs">Transcripts Per Million (TPM)</text>
<rect x="470.20" y="311.30" width="12.10" height="191.40" fill="#f8f8f8"/>
<rect x="482.30" y="311.30" width="12.10" height="191.40" fill="#e6e6e6"/>
<line x1="466.80" y1="502.70" x2="470.20" y2="502.70" stroke="#555" stroke-width="0.7"/>
<text x="466.10" y="504.60" font-size="5.4" fill="#222" font-family='"Liberation Sans", sans-serif' text-anchor="end" stroke="#222" stroke-width="0.15">0</text>
<line x1="466.80" y1="475.36" x2="470.20" y2="475.36" stroke="#555" stroke-width="0.7"/>
<text x="466.10" y="477.26" font-size="5.4" fill="#222" font-family='"Liberation Sans", sans-serif' text-anchor="end" stroke="#222" stroke-width="0.15">20</text>
<line x1="466.80" y1="448.01" x2="470.20" y2="448.01" stroke="#555" stroke-width="0.7"/>
<text x="466.10" y="449.91" font-size="5.4" fill="#222" font-family='"Liberation Sans", sans-serif' text-anchor="end" stroke="#222" stroke-width="0.15">40</text>
<line x1="466.80" y1="420.67" x2="470.20" y2="420.67" stroke="#555" stroke-width="0.7"/>
<text x="466.10" y="422.57" font-size="5.4" fill="#222" font-family='"Liberation Sans", sans-serif' text-anchor="end" stroke="#222" stroke-width="0.15">60</text>
<line x1="466.80" y1="393.33" x2="470.20" y2="393.33" stroke="#555" stroke-width="0.7"/>
<text x="466.10" y="395.23" font-size="5.4" fill="#222" font-family='"Liberation Sans", sans-serif' text-anchor="end" stroke="#222" stroke-width="0.15">80</text>
<line x1="466.80" y1="365.99" x2="470.20" y2="365.99" stroke="#555" stroke-width="0.7"/>
<text x="466.10" y="367.89" font-size="5.4" fill="#222" font-family='"Liberation Sans", sans-serif' text-anchor="end" stroke="#222" stroke-width="0.15">100</text>
<line x1="466.80" y1="338.64" x2="470.20" y2="338.64" stroke="#555" stroke-width="0.7"/>
<text x="466.10" y="340.54" font-size="5.4" fill="#222" font-family='"Liberation Sans", sans-serif' text-anchor="end" stroke="#222" stroke-width="0.15">120</text>
<line x1="466.80" y1="311.30" x2="470.20" y2="311.30" stroke="#555" stroke-width="0.7"/>
<text x="466.10" y="313.20" font-size="5.4" fill="#222" font-family='"Liberation Sans", sans-serif' text-anchor="end" stroke="#222" stroke-width="0.15">140</text>
<polyline points="470.50,502.70 470.63,501.30 470.77,499.90 470.90,498.49 471.04,497.09 471.17,495.69 471.31,494.31 471.44,493.09 471.58,491.86 471.71,490.63 471.85,489.41 471.98,488.18 472.12,486.95 472.25,485.72 472.38,484.35 472.52,482.72 472.65,481.08 472.79,479.45 472.92,477.81 473.06,476.18 473.19,474.57 473.33,472.99 473.46,471.41 473.60,469.84 473.73,468.26 473.87,466.68 474.00,465.10 474.13,463.53 474.27,461.25 474.40,458.68 474.54,456.11 474.67,453.54 474.81,450.97 474.94,448.40 475.08,444.44 475.21,440.23 475.35,436.03 475.48,431.82 475.62,424.95 475.75,417.94" fill="none" stroke="#f24f4f" stroke-width="1.2" stroke-linecap="round"/>
<circle cx="475.45" cy="455.88" r="0.55" fill="#f24f4f"/>
<circle cx="475.45" cy="447.49" r="0.55" fill="#f24f4f"/>
<circle cx="475.45" cy="444.63" r="0.55" fill="#f24f4f"/>
<circle cx="475.45" cy="438.23" r="0.55" fill="#f24f4f"/>
<circle cx="475.45" cy="432.24" r="0.55" fill="#f24f4f"/>
<circle cx="475.45" cy="426.49" r="0.55" fill="#f24f4f"/>
<circle cx="475.45" cy="425.68" r="0.55" fill="#f24f4f"/>
<circle cx="475.45" cy="424.76" r="0.55" fill="#f24f4f"/>
<circle cx="475.45" cy="422.76" r="0.55" fill="#f24f4f"/>
<circle cx="475.45" cy="421.86" r="0.55" fill="#f24f4f"/>
<circle cx="475.26" cy="416.14" r="0.5" fill="#f24f4f" fill-opacity="0.8"/>
<circle cx="475.23" cy="414.09" r="0.5" fill="#f24f4f" fill-opacity="0.8"/>
<circle cx="475.40" cy="411.78" r="0.5" fill="#f24f4f" fill-opacity="0.8"/>
<circle cx="475.75" cy="409.29" r="0.5" fill="#f24f4f" fill-opacity="0.8"/>
<circle cx="475.49" cy="406.43" r="0.5" fill="#f24f4f" fill-opacity="0.8"/>
<circle cx="475.20" cy="403.24" r="0.5" fill="#f24f4f" fill-opacity="0.8"/>
<circle cx="475.48" cy="401.39" r="0.5" fill="#f24f4f" fill-opacity="0.8"/>
<circle cx="475.07" cy="399.72" r="0.5" fill="#f24f4f" fill-opacity="0.8"/>
<circle cx="475.38" cy="397.29" r="0.5" fill="#f24f4f" fill-opacity="0.8"/>
<circle cx="475.49" cy="394.23" r="0.5" fill="#f24f4f" fill-opacity="0.8"/>
<circle cx="475.40" cy="391.80" r="0.5" fill="#f24f4f" fill-opacity="0.8"/>
<circle cx="475.06" cy="389.81" r="0.5" fill="#f24f4f" fill-opacity="0.8"/>
<circle cx="475.53" cy="387.90" r="0.5" fill="#f24f4f" fill-opacity="0.8"/>
<circle cx="475.31" cy="385.98" r="0.5" fill="#f24f4f" fill-opacity="0.8"/>
<circle cx="475.63" cy="384.37" r="0.5" fill="#f24f4f" fill-opacity="0.8"/>
<circle cx="475.24" cy="382.52" r="0.5" fill="#f24f4f" fill-opacity="0.8"/>
<circle cx="475.41" cy="379.52" r="0.5" fill="#f24f4f" fill-opacity="0.8"/>
<circle cx="475.50" cy="376.56" r="0.5" fill="#f24f4f" fill-opacity="0.8"/>
<circle cx="475.11" cy="373.77" r="0.5" fill="#f24f4f" fill-opacity="0.8"/>
<circle cx="475.41" cy="371.31" r="0.5" fill="#f24f4f" fill-opacity="0.8"/>
<circle cx="475.30" cy="368.31" r="0.5" fill="#f24f4f" fill-opacity="0.8"/>
<circle cx="475.09" cy="365.76" r="0.5" fill="#f24f4f" fill-opacity="0.8"/>
<circle cx="475.28" cy="363.54" r="0.5" fill="#f24f4f" fill-opacity="0.8"/>
<circle cx="475.62" cy="361.70" r="0.5" fill="#f24f4f" fill-opacity="0.8"/>
<circle cx="475.74" cy="359.49" r="0.5" fill="#f24f4f" fill-opacity="0.8"/>
<circle cx="475.47" cy="356.95" r="0.5" fill="#f24f4f" fill-opacity="0.8"/>
<circle cx="475.52" cy="354.32" r="0.5" fill="#f24f4f" fill-opacity="0.8"/>
<circle cx="475.36" cy="352.48" r="0.5" fill="#f24f4f" fill-opacity="0.8"/>
<circle cx="475.43" cy="393.33" r="0.6" fill="#f24f4f"/>
<circle cx="475.67" cy="387.86" r="0.6" fill="#f24f4f"/>
<circle cx="474.98" cy="382.39" r="0.6" fill="#f24f4f"/>
<circle cx="475.58" cy="376.92" r="0.6" fill="#f24f4f"/>
<circle cx="475.21" cy="371.45" r="0.6" fill="#f24f4f"/>
<circle cx="475.51" cy="365.99" r="0.6" fill="#f24f4f"/>
<circle cx="475.05" cy="361.88" r="0.6" fill="#f24f4f"/>
<circle cx="475.22" cy="357.78" r="0.6" fill="#f24f4f"/>
<circle cx="475.64" cy="353.68" r="0.6" fill="#f24f4f"/>
<circle cx="475.07" cy="324.97" r="0.6" fill="#f24f4f"/>
<line x1="470.93" y1="474.67" x2="475.32" y2="474.67" stroke="#111" stroke-width="1.3"/>
<polyline points="476.55,502.70 476.68,502.63 476.82,502.56 476.95,502.49 477.09,502.42 477.22,502.35 477.36,502.28 477.49,502.21 477.63,502.14 477.76,502.07 477.90,502.00 478.03,501.93 478.17,501.86 478.30,501.79 478.43,501.72 478.57,501.65 478.70,501.58 478.84,501.51 478.97,501.44 479.11,501.37 479.24,501.27 479.38,501.14 479.51,501.00 479.65,500.87 479.78,500.74 479.92,500.61 480.05,500.48 480.18,500.35 480.32,500.22 480.45,500.08 480.59,499.95 480.72,499.82 480.86,499.69 480.99,499.56 481.13,499.43 481.26,499.30 481.40,498.81 481.53,498.28 481.67,497.76 481.80,497.23" fill="none" stroke="#1fa84a" stroke-width="1.2" stroke-linecap="round"/>
<circle cx="481.50" cy="499.33" r="0.55" fill="#1fa84a"/>
<circle cx="481.50" cy="499.25" r="0.55" fill="#1fa84a"/>
<circle cx="481.50" cy="499.22" r="0.55" fill="#1fa84a"/>
<circle cx="481.50" cy="498.33" r="0.55" fill="#1fa84a"/>
<circle cx="481.50" cy="498.29" r="0.55" fill="#1fa84a"/>
<circle cx="481.50" cy="498.11" r="0.55" fill="#1fa84a"/>
<circle cx="481.50" cy="497.52" r="0.55" fill="#1fa84a"/>
<circle cx="481.50" cy="497.47" r="0.55" fill="#1fa84a"/>
<circle cx="481.50" cy="497.41" r="0.55" fill="#1fa84a"/>
<circle cx="481.50" cy="497.37" r="0.55" fill="#1fa84a"/>
<line x1="476.98" y1="501.33" x2="481.38" y2="501.33" stroke="#111" stroke-width="1.3"/>
<polyline points="482.60,502.70 482.73,502.35 482.87,502.00 483.00,501.65 483.14,501.30 483.27,500.95 483.41,500.60 483.54,500.25 483.68,499.87 483.81,499.40 483.95,498.94 484.08,498.47 484.22,498.00 484.35,497.54 484.48,497.07 484.62,496.60 484.75,496.13 484.89,495.67 485.02,495.20 485.16,494.73 485.29,494.08 485.43,493.24 485.56,492.39 485.70,491.55 485.83,490.71 485.97,489.87 486.10,489.03 486.23,488.19 486.37,487.35 486.50,486.50 486.64,484.54 486.77,482.20 486.91,479.87 487.04,477.53 487.18,475.19 487.31,472.86 487.45,468.84 487.58,464.63 487.72,460.42 487.85,456.22" fill="none" stroke="#f24f4f" stroke-width="1.2" stroke-linecap="round"/>
<circle cx="487.55" cy="476.34" r="0.55" fill="#f24f4f"/>
<circle cx="487.55" cy="472.12" r="0.55" fill="#f24f4f"/>
<circle cx="487.55" cy="470.40" r="0.55" fill="#f24f4f"/>
<circle cx="487.55" cy="469.26" r="0.55" fill="#f24f4f"/>
<circle cx="487.55" cy="468.54" r="0.55" fill="#f24f4f"/>
<circle cx="487.55" cy="467.35" r="0.55" fill="#f24f4f"/>
<circle cx="487.55" cy="465.68" r="0.55" fill="#f24f4f"/>
<circle cx="487.55" cy="465.22" r="0.55" fill="#f24f4f"/>
<circle cx="487.55" cy="461.42" r="0.55" fill="#f24f4f"/>
<circle cx="487.55" cy="458.81" r="0.55" fill="#f24f4f"/>
<circle cx="487.17" cy="454.42" r="0.5" fill="#f24f4f" fill-opacity="0.8"/>
<circle cx="487.17" cy="452.22" r="0.5" fill="#f24f4f" fill-opacity="0.8"/>
<circle cx="487.83" cy="450.43" r="0.5" fill="#f24f4f" fill-opacity="0.8"/>
<circle cx="487.51" cy="441.18" r="0.6" fill="#f24f4f"/>
<circle cx="487.43" cy="434.34" r="0.6" fill="#f24f4f"/>
<circle cx="487.15" cy="419.30" r="0.6" fill="#f24f4f"/>
<circle cx="487.57" cy="379.66" r="0.6" fill="#f24f4f"/>
<circle cx="487.38" cy="376.92" r="0.6" fill="#f24f4f"/>
<circle cx="487.30" cy="349.58" r="0.6" fill="#f24f4f"/>
<line x1="483.02" y1="494.50" x2="487.42" y2="494.50" stroke="#111" stroke-width="1.3"/>
<polyline points="488.65,502.70 488.78,502.63 488.92,502.56 489.05,502.49 489.19,502.42 489.32,502.35 489.46,502.28 489.59,502.21 489.73,502.14 489.86,502.07 490.00,502.00 490.13,501.93 490.27,501.86 490.40,501.79 490.53,501.72 490.67,501.65 490.80,501.58 490.94,501.51 491.07,501.44 491.21,501.37 491.34,501.25 491.48,501.07 491.61,500.89 491.75,500.72 491.88,500.54 492.02,500.37 492.15,500.19 492.28,500.02 492.42,499.84 492.55,499.67 492.69,499.49 492.82,499.32 492.96,499.14 493.09,498.97 493.23,498.79 493.36,498.62 493.50,497.97 493.63,497.27 493.77,496.57 493.90,495.86" fill="none" stroke="#1fa84a" stroke-width="1.2" stroke-linecap="round"/>
<circle cx="493.60" cy="498.92" r="0.55" fill="#1fa84a"/>
<circle cx="493.60" cy="498.52" r="0.55" fill="#1fa84a"/>
<circle cx="493.60" cy="498.48" r="0.55" fill="#1fa84a"/>
<circle cx="493.60" cy="497.85" r="0.55" fill="#1fa84a"/>
<circle cx="493.60" cy="497.34" r="0.55" fill="#1fa84a"/>
<circle cx="493.60" cy="496.62" r="0.55" fill="#1fa84a"/>
<circle cx="493.60" cy="496.59" r="0.55" fill="#1fa84a"/>
<circle cx="493.60" cy="496.45" r="0.55" fill="#1fa84a"/>
<circle cx="493.60" cy="496.14" r="0.55" fill="#1fa84a"/>
<circle cx="493.60" cy="496.07" r="0.55" fill="#1fa84a"/>
<line x1="489.07" y1="501.33" x2="493.47" y2="501.33" stroke="#111" stroke-width="1.3"/>
<rect x="470.20" y="311.30" width="24.20" height="191.40" fill="none" stroke="#6a6a6a" stroke-width="0.9"/>
<text transform="translate(474.60,309.50) rotate(-48)" font-size="6.0" font-family='"Liberation Sans", sans-serif' fill="#ff3b3b">LUSC</text>
<text transform="translate(486.70,309.50) rotate(-48)" font-size="6.0" font-family='"Liberation Sans", sans-serif' fill="#ff3b3b">LUAD</text>
<text transform="translate(472.62,505.70) rotate(-44)" font-size="3.6" font-weight="bold" font-family='"Liberation Sans", sans-serif' fill="#111" stroke="#111" stroke-width="0.15" text-anchor="end" textLength="15.5" lengthAdjust="spacingAndGlyphs">T (num=486)</text>
<text transform="translate(478.67,505.70) rotate(-44)" font-size="3.6" font-weight="bold" font-family='"Liberation Sans", sans-serif' fill="#111" stroke="#111" stroke-width="0.15" text-anchor="end" textLength="15.5" lengthAdjust="spacingAndGlyphs">N (num=338)</text>
<text transform="translate(484.72,505.70) rotate(-44)" font-size="3.6" font-weight="bold" font-family='"Liberation Sans", sans-serif' fill="#111" stroke="#111" stroke-width="0.15" text-anchor="end" textLength="15.5" lengthAdjust="spacingAndGlyphs">T (num=483)</text>
<text transform="translate(490.77,505.70) rotate(-44)" font-size="3.6" font-weight="bold" font-family='"Liberation Sans", sans-serif' fill="#111" stroke="#111" stroke-width="0.15" text-anchor="end" textLength="15.5" lengthAdjust="spacingAndGlyphs">N (num=347)</text>
<text x="593.80" y="287.60" font-size="13.6" fill="#000" font-family='"Liberation Serif", serif' font-weight="bold" text-anchor="middle" textLength="54.0" lengthAdjust="spacingAndGlyphs">FERMT2</text>
<text transform="translate(553.80,410.20) rotate(-90)" x="0" y="0" font-size="11.6" font-family='"Liberation Sans", sans-serif' text-anchor="middle" fill="#111" stroke="#111" stroke-width="0.2" textLength="135.2" lengthAdjust="spacingAndGlyphs">Transcripts Per Million (TPM)</text>
<rect x="584.50" y="309.60" width="12.05" height="190.30" fill="#f8f8f8"/>
<rect x="596.55" y="309.60" width="12.05" height="190.30" fill="#e6e6e6"/>
<line x1="581.10" y1="499.90" x2="584.50" y2="499.90" stroke="#555" stroke-width="0.7"/>
<text x="580.40" y="501.80" font-size="5.4" fill="#222" font-family='"Liberation Sans", sans-serif' text-anchor="end" stroke="#222" stroke-width="0.15">0</text>
<line x1="581.10" y1="472.71" x2="584.50" y2="472.71" stroke="#555" stroke-width="0.7"/>
<text x="580.40" y="474.61" font-size="5.4" fill="#222" font-family='"Liberation Sans", sans-serif' text-anchor="end" stroke="#222" stroke-width="0.15">30</text>
<line x1="581.10" y1="445.53" x2="584.50" y2="445.53" stroke="#555" stroke-width="0.7"/>
<text x="580.40" y="447.43" font-size="5.4" fill="#222" font-family='"Liberation Sans", sans-serif' text-anchor="end" stroke="#222" stroke-width="0.15">60</text>
<line x1="581.10" y1="418.34" x2="584.50" y2="418.34" stroke="#555" stroke-width="0.7"/>
<text x="580.40" y="420.24" font-size="5.4" fill="#222" font-family='"Liberation Sans", sans-serif' text-anchor="end" stroke="#222" stroke-width="0.15">90</text>
<line x1="581.10" y1="391.16" x2="584.50" y2="391.16" stroke="#555" stroke-width="0.7"/>
<text x="580.40" y="393.06" font-size="5.4" fill="#222" font-family='"Liberation Sans", sans-serif' text-anchor="end" stroke="#222" stroke-width="0.15">120</text>
<line x1="581.10" y1="363.97" x2="584.50" y2="363.97" stroke="#555" stroke-width="0.7"/>
<text x="580.40" y="365.87" font-size="5.4" fill="#222" font-family='"Liberation Sans", sans-serif' text-anchor="end" stroke="#222" stroke-width="0.15">150</text>
<line x1="581.10" y1="336.79" x2="584.50" y2="336.79" stroke="#555" stroke-width="0.7"/>
<text x="580.40" y="338.69" font-size="5.4" fill="#222" font-family='"Liberation Sans", sans-serif' text-anchor="end" stroke="#222" stroke-width="0.15">180</text>
<line x1="581.10" y1="309.60" x2="584.50" y2="309.60" stroke="#555" stroke-width="0.7"/>
<text x="580.40" y="311.50" font-size="5.4" fill="#222" font-family='"Liberation Sans", sans-serif' text-anchor="end" stroke="#222" stroke-width="0.15">210</text>
<polyline points="584.80,499.90 584.93,499.55 585.07,499.20 585.20,498.85 585.34,498.51 585.47,498.16 585.60,497.81 585.74,497.46 585.87,497.09 586.01,496.62 586.14,496.16 586.27,495.69 586.41,495.23 586.54,494.76 586.68,494.30 586.81,493.84 586.94,493.37 587.08,492.91 587.21,492.44 587.35,491.98 587.48,491.40 587.61,490.70 587.75,490.00 587.88,489.30 588.02,488.61 588.15,487.91 588.28,487.21 588.42,486.52 588.55,485.82 588.69,485.12 588.82,484.43 588.95,483.73 589.09,482.35 589.22,480.80 589.36,479.25 589.49,477.70 589.62,476.15 589.76,474.60 589.89,472.32 590.02,470.00" fill="none" stroke="#f24f4f" stroke-width="1.2" stroke-linecap="round"/>
<circle cx="589.73" cy="483.26" r="0.55" fill="#f24f4f"/>
<circle cx="589.73" cy="480.78" r="0.55" fill="#f24f4f"/>
<circle cx="589.73" cy="480.41" r="0.55" fill="#f24f4f"/>
<circle cx="589.73" cy="478.57" r="0.55" fill="#f24f4f"/>
<circle cx="589.73" cy="477.82" r="0.55" fill="#f24f4f"/>
<circle cx="589.73" cy="476.55" r="0.55" fill="#f24f4f"/>
<circle cx="589.73" cy="475.00" r="0.55" fill="#f24f4f"/>
<circle cx="589.73" cy="473.68" r="0.55" fill="#f24f4f"/>
<circle cx="589.73" cy="472.78" r="0.55" fill="#f24f4f"/>
<circle cx="589.73" cy="472.48" r="0.55" fill="#f24f4f"/>
<circle cx="589.45" cy="468.20" r="0.5" fill="#f24f4f" fill-opacity="0.8"/>
<circle cx="589.99" cy="466.04" r="0.5" fill="#f24f4f" fill-opacity="0.8"/>
<circle cx="589.56" cy="463.52" r="0.5" fill="#f24f4f" fill-opacity="0.8"/>
<circle cx="589.99" cy="461.49" r="0.5" fill="#f24f4f" fill-opacity="0.8"/>
<circle cx="590.01" cy="459.18" r="0.5" fill="#f24f4f" fill-opacity="0.8"/>
<circle cx="589.69" cy="456.75" r="0.5" fill="#f24f4f" fill-opacity="0.8"/>
<circle cx="589.43" cy="463.65" r="0.6" fill="#f24f4f"/>
<circle cx="589.56" cy="459.12" r="0.6" fill="#f24f4f"/>
<circle cx="589.68" cy="452.78" r="0.6" fill="#f24f4f"/>
<circle cx="589.32" cy="447.34" r="0.6" fill="#f24f4f"/>
<circle cx="589.70" cy="441.90" r="0.6" fill="#f24f4f"/>
<circle cx="589.29" cy="436.47" r="0.6" fill="#f24f4f"/>
<circle cx="589.97" cy="430.12" r="0.6" fill="#f24f4f"/>
<line x1="585.21" y1="491.74" x2="589.61" y2="491.74" stroke="#111" stroke-width="1.3"/>
<polyline points="590.82,484.49 590.96,482.98 591.09,481.47 591.23,479.96 591.36,478.45 591.49,476.94 591.63,475.43 591.76,473.92 591.90,472.30 592.03,470.20 592.16,468.11 592.30,466.02 592.43,463.93 592.57,461.84 592.70,459.75 592.83,457.66 592.97,455.57 593.10,453.48 593.24,451.38 593.37,449.29 593.50,447.55 593.64,446.16 593.77,444.76 593.91,443.37 594.04,441.97 594.17,440.58 594.31,439.19 594.44,437.79 594.58,436.40 594.71,435.00 594.84,433.61 594.98,432.21 595.11,430.54 595.25,428.80 595.38,427.06 595.51,425.31 595.65,423.57 595.78,421.83 595.92,420.09 596.05,418.34" fill="none" stroke="#1fa84a" stroke-width="1.2" stroke-linecap="round"/>
<circle cx="595.75" cy="445.83" r="0.55" fill="#1fa84a"/>
<circle cx="595.75" cy="442.83" r="0.55" fill="#1fa84a"/>
<circle cx="595.75" cy="439.26" r="0.55" fill="#1fa84a"/>
<circle cx="595.75" cy="435.98" r="0.55" fill="#1fa84a"/>
<circle cx="595.75" cy="431.94" r="0.55" fill="#1fa84a"/>
<circle cx="595.75" cy="430.22" r="0.55" fill="#1fa84a"/>
<circle cx="595.75" cy="428.73" r="0.55" fill="#1fa84a"/>
<circle cx="595.75" cy="425.46" r="0.55" fill="#1fa84a"/>
<circle cx="595.75" cy="420.14" r="0.55" fill="#1fa84a"/>
<circle cx="595.75" cy="419.39" r="0.55" fill="#1fa84a"/>
<circle cx="595.63" cy="416.54" r="0.5" fill="#1fa84a" fill-opacity="0.8"/>
<circle cx="595.39" cy="414.62" r="0.5" fill="#1fa84a" fill-opacity="0.8"/>
<circle cx="595.99" cy="412.68" r="0.5" fill="#1fa84a" fill-opacity="0.8"/>
<circle cx="595.43" cy="409.73" r="0.5" fill="#1fa84a" fill-opacity="0.8"/>
<circle cx="595.69" cy="407.17" r="0.5" fill="#1fa84a" fill-opacity="0.8"/>
<circle cx="595.81" cy="404.62" r="0.5" fill="#1fa84a" fill-opacity="0.8"/>
<circle cx="596.02" cy="402.53" r="0.5" fill="#1fa84a" fill-opacity="0.8"/>
<circle cx="595.79" cy="400.18" r="0.5" fill="#1fa84a" fill-opacity="0.8"/>
<circle cx="595.48" cy="397.56" r="0.5" fill="#1fa84a" fill-opacity="0.8"/>
<circle cx="595.64" cy="395.86" r="0.5" fill="#1fa84a" fill-opacity="0.8"/>
<circle cx="595.92" cy="393.04" r="0.5" fill="#1fa84a" fill-opacity="0.8"/>
<circle cx="595.43" cy="390.27" r="0.5" fill="#1fa84a" fill-opacity="0.8"/>
<circle cx="595.91" cy="387.21" r="0.5" fill="#1fa84a" fill-opacity="0.8"/>
<circle cx="595.72" cy="384.21" r="0.5" fill="#1fa84a" fill-opacity="0.8"/>
<circle cx="596.01" cy="413.81" r="0.6" fill="#1fa84a"/>
<circle cx="596.03" cy="409.28" r="0.6" fill="#1fa84a"/>
<circle cx="596.03" cy="404.75" r="0.6" fill="#1fa84a"/>
<circle cx="595.85" cy="398.41" r="0.6" fill="#1fa84a"/>
<circle cx="595.85" cy="392.97" r="0.6" fill="#1fa84a"/>
<circle cx="595.90" cy="386.63" r="0.6" fill="#1fa84a"/>
<circle cx="595.60" cy="381.19" r="0.6" fill="#1fa84a"/>
<circle cx="596.02" cy="363.97" r="0.6" fill="#1fa84a"/>
<circle cx="595.58" cy="350.38" r="0.6" fill="#1fa84a"/>
<circle cx="595.92" cy="334.97" r="0.6" fill="#1fa84a"/>
<line x1="591.24" y1="448.25" x2="595.64" y2="448.25" stroke="#111" stroke-width="1.3"/>
<polyline points="596.85,498.09 596.98,497.51 597.12,496.93 597.25,496.34 597.39,495.76 597.52,495.18 597.65,494.60 597.79,494.02 597.92,493.43 598.06,492.81 598.19,492.19 598.32,491.57 598.46,490.95 598.59,490.33 598.73,489.72 598.86,489.10 598.99,488.48 599.13,487.86 599.26,487.24 599.40,486.62 599.53,485.84 599.66,484.91 599.80,483.98 599.93,483.05 600.07,482.12 600.20,481.20 600.33,480.27 600.47,479.34 600.60,478.41 600.74,477.48 600.87,476.55 601.00,475.62 601.14,474.22 601.27,472.71 601.41,471.20 601.54,469.69 601.67,468.18 601.81,466.67 601.94,465.16 602.07,463.65" fill="none" stroke="#f24f4f" stroke-width="1.2" stroke-linecap="round"/>
<circle cx="601.77" cy="479.62" r="0.55" fill="#f24f4f"/>
<circle cx="601.77" cy="476.84" r="0.55" fill="#f24f4f"/>
<circle cx="601.77" cy="474.90" r="0.55" fill="#f24f4f"/>
<circle cx="601.77" cy="471.18" r="0.55" fill="#f24f4f"/>
<circle cx="601.77" cy="470.59" r="0.55" fill="#f24f4f"/>
<circle cx="601.77" cy="470.00" r="0.55" fill="#f24f4f"/>
<circle cx="601.77" cy="469.23" r="0.55" fill="#f24f4f"/>
<circle cx="601.77" cy="468.91" r="0.55" fill="#f24f4f"/>
<circle cx="601.77" cy="466.73" r="0.55" fill="#f24f4f"/>
<circle cx="601.77" cy="464.66" r="0.55" fill="#f24f4f"/>
<circle cx="601.40" cy="461.85" r="0.5" fill="#f24f4f" fill-opacity="0.8"/>
<circle cx="602.05" cy="458.97" r="0.5" fill="#f24f4f" fill-opacity="0.8"/>
<circle cx="601.41" cy="456.00" r="0.5" fill="#f24f4f" fill-opacity="0.8"/>
<circle cx="601.82" cy="459.12" r="0.6" fill="#f24f4f"/>
<circle cx="601.98" cy="452.78" r="0.6" fill="#f24f4f"/>
<circle cx="601.57" cy="447.34" r="0.6" fill="#f24f4f"/>
<circle cx="601.44" cy="442.81" r="0.6" fill="#f24f4f"/>
<circle cx="601.82" cy="439.19" r="0.6" fill="#f24f4f"/>
<circle cx="601.38" cy="434.65" r="0.6" fill="#f24f4f"/>
<circle cx="601.44" cy="429.22" r="0.6" fill="#f24f4f"/>
<line x1="597.26" y1="486.31" x2="601.66" y2="486.31" stroke="#111" stroke-width="1.3"/>
<polyline points="602.88,484.49 603.01,482.98 603.14,481.47 603.28,479.96 603.41,478.45 603.54,476.94 603.68,475.43 603.81,473.92 603.95,472.30 604.08,470.20 604.21,468.11 604.35,466.02 604.48,463.93 604.62,461.84 604.75,459.75 604.88,457.66 605.02,455.57 605.15,453.48 605.29,451.38 605.42,449.29 605.55,447.36 605.69,445.58 605.82,443.79 605.96,442.01 606.09,440.23 606.22,438.45 606.36,436.67 606.49,434.89 606.63,433.11 606.76,431.32 606.89,429.54 607.03,427.76 607.16,425.55 607.30,423.22 607.43,420.90 607.56,418.58 607.70,416.25 607.83,413.93 607.97,411.60 608.10,409.28" fill="none" stroke="#1fa84a" stroke-width="1.2" stroke-linecap="round"/>
<circle cx="607.80" cy="446.13" r="0.55" fill="#1fa84a"/>
<circle cx="607.80" cy="444.79" r="0.55" fill="#1fa84a"/>
<circle cx="607.80" cy="442.01" r="0.55" fill="#1fa84a"/>
<circle cx="607.80" cy="426.67" r="0.55" fill="#1fa84a"/>
<circle cx="607.80" cy="425.21" r="0.55" fill="#1fa84a"/>
<circle cx="607.80" cy="424.29" r="0.55" fill="#1fa84a"/>
<circle cx="607.80" cy="424.01" r="0.55" fill="#1fa84a"/>
<circle cx="607.80" cy="423.10" r="0.55" fill="#1fa84a"/>
<circle cx="607.80" cy="418.79" r="0.55" fill="#1fa84a"/>
<circle cx="607.80" cy="414.07" r="0.55" fill="#1fa84a"/>
<circle cx="607.98" cy="407.48" r="0.5" fill="#1fa84a" fill-opacity="0.8"/>
<circle cx="607.63" cy="404.60" r="0.5" fill="#1fa84a" fill-opacity="0.8"/>
<circle cx="608.01" cy="401.84" r="0.5" fill="#1fa84a" fill-opacity="0.8"/>
<circle cx="607.51" cy="398.81" r="0.5" fill="#1fa84a" fill-opacity="0.8"/>
<circle cx="607.86" cy="397.17" r="0.5" fill="#1fa84a" fill-opacity="0.8"/>
<circle cx="607.79" cy="395.23" r="0.5" fill="#1fa84a" fill-opacity="0.8"/>
<circle cx="607.67" cy="392.11" r="0.5" fill="#1fa84a" fill-opacity="0.8"/>
<circle cx="607.72" cy="390.11" r="0.5" fill="#1fa84a" fill-opacity="0.8"/>
<circle cx="607.47" cy="387.46" r="0.5" fill="#1fa84a" fill-opacity="0.8"/>
<circle cx="607.49" cy="385.25" r="0.5" fill="#1fa84a" fill-opacity="0.8"/>
<circle cx="607.98" cy="382.59" r="0.5" fill="#1fa84a" fill-opacity="0.8"/>
<circle cx="607.80" cy="405.66" r="0.6" fill="#1fa84a"/>
<circle cx="607.67" cy="402.03" r="0.6" fill="#1fa84a"/>
<circle cx="607.93" cy="398.41" r="0.6" fill="#1fa84a"/>
<circle cx="607.90" cy="394.78" r="0.6" fill="#1fa84a"/>
<circle cx="607.84" cy="391.16" r="0.6" fill="#1fa84a"/>
<circle cx="607.73" cy="383.91" r="0.6" fill="#1fa84a"/>
<circle cx="608.03" cy="378.47" r="0.6" fill="#1fa84a"/>
<circle cx="607.50" cy="363.97" r="0.6" fill="#1fa84a"/>
<circle cx="607.64" cy="350.38" r="0.6" fill="#1fa84a"/>
<circle cx="607.86" cy="334.97" r="0.6" fill="#1fa84a"/>
<line x1="603.29" y1="448.25" x2="607.69" y2="448.25" stroke="#111" stroke-width="1.3"/>
<rect x="584.50" y="309.60" width="24.10" height="190.30" fill="none" stroke="#6a6a6a" stroke-width="0.9"/>
<text transform="translate(588.90,307.80) rotate(-48)" font-size="6.0" font-family='"Liberation Sans", sans-serif' fill="#1fa84a" font-weight="bold">LUSC</text>
<text transform="translate(600.95,307.80) rotate(-48)" font-size="6.0" font-family='"Liberation Sans", sans-serif' fill="#1fa84a" font-weight="bold">LUAD</text>
<text transform="translate(586.91,502.90) rotate(-44)" font-size="3.6" font-weight="bold" font-family='"Liberation Sans", sans-serif' fill="#111" stroke="#111" stroke-width="0.15" text-anchor="end" textLength="15.5" lengthAdjust="spacingAndGlyphs">T (num=486)</text>
<text transform="translate(592.94,502.90) rotate(-44)" font-size="3.6" font-weight="bold" font-family='"Liberation Sans", sans-serif' fill="#111" stroke="#111" stroke-width="0.15" text-anchor="end" textLength="15.5" lengthAdjust="spacingAndGlyphs">N (num=338)</text>
<text transform="translate(598.96,502.90) rotate(-44)" font-size="3.6" font-weight="bold" font-family='"Liberation Sans", sans-serif' fill="#111" stroke="#111" stroke-width="0.15" text-anchor="end" textLength="15.5" lengthAdjust="spacingAndGlyphs">T (num=483)</text>
<text transform="translate(604.99,502.90) rotate(-44)" font-size="3.6" font-weight="bold" font-family='"Liberation Sans", sans-serif' fill="#111" stroke="#111" stroke-width="0.15" text-anchor="end" textLength="15.5" lengthAdjust="spacingAndGlyphs">N (num=347)</text>
<text x="711.70" y="287.60" font-size="13.6" fill="#000" font-family='"Liberation Serif", serif' font-weight="bold" text-anchor="middle" textLength="54.0" lengthAdjust="spacingAndGlyphs">FERMT3</text>
<text transform="translate(671.20,409.70) rotate(-90)" x="0" y="0" font-size="11.6" font-family='"Liberation Sans", sans-serif' text-anchor="middle" fill="#111" stroke="#111" stroke-width="0.2" textLength="136.3" lengthAdjust="spacingAndGlyphs">Transcripts Per Million (TPM)</text>
<rect x="701.30" y="308.70" width="12.15" height="191.20" fill="#f8f8f8"/>
<rect x="713.45" y="308.70" width="12.15" height="191.20" fill="#e6e6e6"/>
<line x1="697.90" y1="499.90" x2="701.30" y2="499.90" stroke="#555" stroke-width="0.7"/>
<text x="697.20" y="501.80" font-size="5.4" fill="#222" font-family='"Liberation Sans", sans-serif' text-anchor="end" stroke="#222" stroke-width="0.15">0</text>
<line x1="697.90" y1="468.03" x2="701.30" y2="468.03" stroke="#555" stroke-width="0.7"/>
<text x="697.20" y="469.93" font-size="5.4" fill="#222" font-family='"Liberation Sans", sans-serif' text-anchor="end" stroke="#222" stroke-width="0.15">30</text>
<line x1="697.90" y1="436.17" x2="701.30" y2="436.17" stroke="#555" stroke-width="0.7"/>
<text x="697.20" y="438.07" font-size="5.4" fill="#222" font-family='"Liberation Sans", sans-serif' text-anchor="end" stroke="#222" stroke-width="0.15">60</text>
<line x1="697.90" y1="404.30" x2="701.30" y2="404.30" stroke="#555" stroke-width="0.7"/>
<text x="697.20" y="406.20" font-size="5.4" fill="#222" font-family='"Liberation Sans", sans-serif' text-anchor="end" stroke="#222" stroke-width="0.15">90</text>
<line x1="697.90" y1="372.43" x2="701.30" y2="372.43" stroke="#555" stroke-width="0.7"/>
<text x="697.20" y="374.33" font-size="5.4" fill="#222" font-family='"Liberation Sans", sans-serif' text-anchor="end" stroke="#222" stroke-width="0.15">120</text>
<line x1="697.90" y1="340.57" x2="701.30" y2="340.57" stroke="#555" stroke-width="0.7"/>
<text x="697.20" y="342.47" font-size="5.4" fill="#222" font-family='"Liberation Sans", sans-serif' text-anchor="end" stroke="#222" stroke-width="0.15">150</text>
<line x1="697.90" y1="308.70" x2="701.30" y2="308.70" stroke="#555" stroke-width="0.7"/>
<text x="697.20" y="310.60" font-size="5.4" fill="#222" font-family='"Liberation Sans", sans-serif' text-anchor="end" stroke="#222" stroke-width="0.15">180</text>
<polyline points="701.60,499.90 701.74,499.22 701.87,498.54 702.01,497.86 702.14,497.18 702.28,496.50 702.41,495.81 702.55,495.13 702.68,494.41 702.82,493.50 702.95,492.59 703.09,491.68 703.22,490.78 703.36,489.87 703.49,488.96 703.63,488.05 703.76,487.14 703.90,486.24 704.03,485.33 704.17,484.42 704.31,483.19 704.44,481.65 704.58,480.11 704.71,478.56 704.85,477.02 704.98,475.48 705.12,473.93 705.25,472.39 705.39,470.85 705.52,469.30 705.66,467.76 705.79,466.22 705.93,463.73 706.06,461.01 706.20,458.28 706.33,455.56 706.47,452.84 706.60,450.11 706.74,447.39 706.88,444.66" fill="none" stroke="#f24f4f" stroke-width="1.2" stroke-linecap="round"/>
<circle cx="706.58" cy="467.59" r="0.55" fill="#f24f4f"/>
<circle cx="706.58" cy="467.50" r="0.55" fill="#f24f4f"/>
<circle cx="706.58" cy="466.27" r="0.55" fill="#f24f4f"/>
<circle cx="706.58" cy="466.26" r="0.55" fill="#f24f4f"/>
<circle cx="706.58" cy="466.21" r="0.55" fill="#f24f4f"/>
<circle cx="706.58" cy="462.83" r="0.55" fill="#f24f4f"/>
<circle cx="706.58" cy="461.90" r="0.55" fill="#f24f4f"/>
<circle cx="706.58" cy="450.55" r="0.55" fill="#f24f4f"/>
<circle cx="706.58" cy="448.82" r="0.55" fill="#f24f4f"/>
<circle cx="706.58" cy="446.99" r="0.55" fill="#f24f4f"/>
<circle cx="706.61" cy="442.86" r="0.5" fill="#f24f4f" fill-opacity="0.8"/>
<circle cx="706.48" cy="440.97" r="0.5" fill="#f24f4f" fill-opacity="0.8"/>
<circle cx="706.44" cy="437.95" r="0.5" fill="#f24f4f" fill-opacity="0.8"/>
<circle cx="706.24" cy="435.21" r="0.5" fill="#f24f4f" fill-opacity="0.8"/>
<circle cx="706.72" cy="432.45" r="0.5" fill="#f24f4f" fill-opacity="0.8"/>
<circle cx="706.34" cy="438.29" r="0.6" fill="#f24f4f"/>
<circle cx="706.58" cy="434.04" r="0.6" fill="#f24f4f"/>
<circle cx="706.82" cy="429.79" r="0.6" fill="#f24f4f"/>
<circle cx="706.46" cy="423.42" r="0.6" fill="#f24f4f"/>
<circle cx="706.27" cy="417.05" r="0.6" fill="#f24f4f"/>
<circle cx="706.72" cy="409.61" r="0.6" fill="#f24f4f"/>
<circle cx="706.66" cy="404.30" r="0.6" fill="#f24f4f"/>
<circle cx="706.45" cy="397.93" r="0.6" fill="#f24f4f"/>
<circle cx="706.28" cy="312.95" r="0.6" fill="#f24f4f"/>
<line x1="702.04" y1="483.44" x2="706.44" y2="483.44" stroke="#111" stroke-width="1.3"/>
<polyline points="707.67,478.66 707.81,477.02 707.95,475.39 708.08,473.75 708.22,472.12 708.35,470.48 708.49,468.85 708.62,467.22 708.76,465.53 708.89,463.62 709.03,461.71 709.16,459.81 709.30,457.90 709.43,455.99 709.57,454.09 709.70,452.18 709.84,450.28 709.97,448.37 710.11,446.46 710.24,444.56 710.38,442.60 710.52,440.61 710.65,438.61 710.79,436.61 710.92,434.61 711.06,432.62 711.19,430.62 711.33,428.62 711.46,426.62 711.60,424.63 711.73,422.63 711.87,420.63 712.00,417.51 712.14,414.11 712.27,410.70 712.41,407.30 712.54,403.89 712.68,400.49 712.81,397.08 712.95,393.68" fill="none" stroke="#1fa84a" stroke-width="1.2" stroke-linecap="round"/>
<circle cx="712.65" cy="435.47" r="0.55" fill="#1fa84a"/>
<circle cx="712.65" cy="432.67" r="0.55" fill="#1fa84a"/>
<circle cx="712.65" cy="410.67" r="0.55" fill="#1fa84a"/>
<circle cx="712.65" cy="407.02" r="0.55" fill="#1fa84a"/>
<circle cx="712.65" cy="404.33" r="0.55" fill="#1fa84a"/>
<circle cx="712.65" cy="403.26" r="0.55" fill="#1fa84a"/>
<circle cx="712.65" cy="401.18" r="0.55" fill="#1fa84a"/>
<circle cx="712.65" cy="398.62" r="0.55" fill="#1fa84a"/>
<circle cx="712.65" cy="396.58" r="0.55" fill="#1fa84a"/>
<circle cx="712.65" cy="393.83" r="0.55" fill="#1fa84a"/>
<circle cx="712.53" cy="391.88" r="0.5" fill="#1fa84a" fill-opacity="0.8"/>
<circle cx="712.38" cy="389.25" r="0.5" fill="#1fa84a" fill-opacity="0.8"/>
<circle cx="712.78" cy="386.44" r="0.5" fill="#1fa84a" fill-opacity="0.8"/>
<circle cx="712.56" cy="383.68" r="0.5" fill="#1fa84a" fill-opacity="0.8"/>
<circle cx="712.54" cy="381.48" r="0.5" fill="#1fa84a" fill-opacity="0.8"/>
<circle cx="712.84" cy="379.82" r="0.5" fill="#1fa84a" fill-opacity="0.8"/>
<circle cx="712.52" cy="377.36" r="0.5" fill="#1fa84a" fill-opacity="0.8"/>
<circle cx="712.76" cy="374.88" r="0.5" fill="#1fa84a" fill-opacity="0.8"/>
<circle cx="712.83" cy="372.67" r="0.5" fill="#1fa84a" fill-opacity="0.8"/>
<circle cx="712.52" cy="369.60" r="0.5" fill="#1fa84a" fill-opacity="0.8"/>
<circle cx="712.78" cy="367.78" r="0.5" fill="#1fa84a" fill-opacity="0.8"/>
<circle cx="712.35" cy="364.59" r="0.5" fill="#1fa84a" fill-opacity="0.8"/>
<circle cx="712.83" cy="361.85" r="0.5" fill="#1fa84a" fill-opacity="0.8"/>
<circle cx="712.34" cy="358.78" r="0.5" fill="#1fa84a" fill-opacity="0.8"/>
<circle cx="712.94" cy="357.03" r="0.5" fill="#1fa84a" fill-opacity="0.8"/>
<circle cx="712.37" cy="355.24" r="0.5" fill="#1fa84a" fill-opacity="0.8"/>
<circle cx="712.56" cy="352.72" r="0.5" fill="#1fa84a" fill-opacity="0.8"/>
<circle cx="712.38" cy="349.92" r="0.5" fill="#1fa84a" fill-opacity="0.8"/>
<circle cx="712.40" cy="346.86" r="0.5" fill="#1fa84a" fill-opacity="0.8"/>
<circle cx="712.30" cy="344.03" r="0.5" fill="#1fa84a" fill-opacity="0.8"/>
<circle cx="712.92" cy="389.43" r="0.6" fill="#1fa84a"/>
<circle cx="712.70" cy="383.06" r="0.6" fill="#1fa84a"/>
<circle cx="712.70" cy="376.68" r="0.6" fill="#1fa84a"/>
<circle cx="712.37" cy="370.31" r="0.6" fill="#1fa84a"/>
<circle cx="712.59" cy="363.94" r="0.6" fill="#1fa84a"/>
<circle cx="712.90" cy="357.56" r="0.6" fill="#1fa84a"/>
<circle cx="712.15" cy="351.19" r="0.6" fill="#1fa84a"/>
<circle cx="712.24" cy="344.82" r="0.6" fill="#1fa84a"/>
<circle cx="712.22" cy="340.57" r="0.6" fill="#1fa84a"/>
<line x1="708.11" y1="443.60" x2="712.51" y2="443.60" stroke="#111" stroke-width="1.3"/>
<polyline points="713.75,499.90 713.89,498.67 714.02,497.45 714.16,496.22 714.29,495.00 714.43,493.77 714.56,492.55 714.70,491.32 714.83,490.10 714.97,488.92 715.10,487.74 715.24,486.56 715.37,485.38 715.51,484.20 715.64,483.02 715.78,481.84 715.91,480.66 716.05,479.48 716.18,478.30 716.32,477.12 716.46,475.62 716.59,473.81 716.73,471.99 716.86,470.18 717.00,468.36 717.13,466.54 717.27,464.73 717.40,462.91 717.54,461.10 717.67,459.28 717.81,457.47 717.94,455.65 718.08,453.33 718.21,450.87 718.35,448.42 718.48,445.97 718.62,443.52 718.75,441.07 718.89,438.62 719.03,436.17" fill="none" stroke="#f24f4f" stroke-width="1.2" stroke-linecap="round"/>
<circle cx="718.73" cy="463.90" r="0.55" fill="#f24f4f"/>
<circle cx="718.73" cy="461.32" r="0.55" fill="#f24f4f"/>
<circle cx="718.73" cy="461.26" r="0.55" fill="#f24f4f"/>
<circle cx="718.73" cy="459.79" r="0.55" fill="#f24f4f"/>
<circle cx="718.73" cy="458.33" r="0.55" fill="#f24f4f"/>
<circle cx="718.73" cy="457.77" r="0.55" fill="#f24f4f"/>
<circle cx="718.73" cy="453.54" r="0.55" fill="#f24f4f"/>
<circle cx="718.73" cy="450.96" r="0.55" fill="#f24f4f"/>
<circle cx="718.73" cy="450.41" r="0.55" fill="#f24f4f"/>
<circle cx="718.73" cy="440.17" r="0.55" fill="#f24f4f"/>
<circle cx="718.45" cy="434.37" r="0.5" fill="#f24f4f" fill-opacity="0.8"/>
<circle cx="718.51" cy="431.69" r="0.5" fill="#f24f4f" fill-opacity="0.8"/>
<circle cx="718.52" cy="429.25" r="0.5" fill="#f24f4f" fill-opacity="0.8"/>
<circle cx="718.76" cy="426.83" r="0.5" fill="#f24f4f" fill-opacity="0.8"/>
<circle cx="718.60" cy="424.37" r="0.5" fill="#f24f4f" fill-opacity="0.8"/>
<circle cx="718.94" cy="421.50" r="0.5" fill="#f24f4f" fill-opacity="0.8"/>
<circle cx="718.42" cy="419.62" r="0.5" fill="#f24f4f" fill-opacity="0.8"/>
<circle cx="719.01" cy="417.83" r="0.5" fill="#f24f4f" fill-opacity="0.8"/>
<circle cx="718.49" cy="414.73" r="0.5" fill="#f24f4f" fill-opacity="0.8"/>
<circle cx="718.47" cy="411.58" r="0.5" fill="#f24f4f" fill-opacity="0.8"/>
<circle cx="718.67" cy="409.17" r="0.5" fill="#f24f4f" fill-opacity="0.8"/>
<circle cx="718.35" cy="406.10" r="0.5" fill="#f24f4f" fill-opacity="0.8"/>
<circle cx="718.55" cy="429.79" r="0.6" fill="#f24f4f"/>
<circle cx="718.97" cy="423.42" r="0.6" fill="#f24f4f"/>
<circle cx="718.84" cy="417.05" r="0.6" fill="#f24f4f"/>
<circle cx="718.65" cy="410.67" r="0.6" fill="#f24f4f"/>
<circle cx="718.32" cy="404.30" r="0.6" fill="#f24f4f"/>
<circle cx="718.42" cy="397.93" r="0.6" fill="#f24f4f"/>
<circle cx="718.36" cy="366.06" r="0.6" fill="#f24f4f"/>
<line x1="714.19" y1="476.00" x2="718.59" y2="476.00" stroke="#111" stroke-width="1.3"/>
<polyline points="719.82,478.66 719.96,477.02 720.10,475.39 720.23,473.75 720.37,472.12 720.50,470.48 720.64,468.85 720.77,467.22 720.91,465.53 721.04,463.62 721.18,461.71 721.31,459.81 721.45,457.90 721.58,455.99 721.72,454.09 721.85,452.18 721.99,450.28 722.12,448.37 722.26,446.46 722.39,444.56 722.53,442.47 722.67,440.20 722.80,437.93 722.94,435.66 723.07,433.39 723.21,431.12 723.34,428.85 723.48,426.58 723.61,424.31 723.75,422.04 723.88,419.77 724.02,417.50 724.15,414.65 724.29,411.65 724.42,408.66 724.56,405.66 724.69,402.67 724.83,399.67 724.96,396.67 725.10,393.68" fill="none" stroke="#1fa84a" stroke-width="1.2" stroke-linecap="round"/>
<circle cx="724.80" cy="433.55" r="0.55" fill="#1fa84a"/>
<circle cx="724.80" cy="433.46" r="0.55" fill="#1fa84a"/>
<circle cx="724.80" cy="427.06" r="0.55" fill="#1fa84a"/>
<circle cx="724.80" cy="408.90" r="0.55" fill="#1fa84a"/>
<circle cx="724.80" cy="407.65" r="0.55" fill="#1fa84a"/>
<circle cx="724.80" cy="406.31" r="0.55" fill="#1fa84a"/>
<circle cx="724.80" cy="405.32" r="0.55" fill="#1fa84a"/>
<circle cx="724.80" cy="405.10" r="0.55" fill="#1fa84a"/>
<circle cx="724.80" cy="400.86" r="0.55" fill="#1fa84a"/>
<circle cx="724.80" cy="397.53" r="0.55" fill="#1fa84a"/>
<circle cx="724.82" cy="391.88" r="0.5" fill="#1fa84a" fill-opacity="0.8"/>
<circle cx="725.06" cy="389.75" r="0.5" fill="#1fa84a" fill-opacity="0.8"/>
<circle cx="724.76" cy="387.90" r="0.5" fill="#1fa84a" fill-opacity="0.8"/>
<circle cx="725.08" cy="386.16" r="0.5" fill="#1fa84a" fill-opacity="0.8"/>
<circle cx="724.96" cy="383.64" r="0.5" fill="#1fa84a" fill-opacity="0.8"/>
<circle cx="724.96" cy="381.58" r="0.5" fill="#1fa84a" fill-opacity="0.8"/>
<circle cx="724.85" cy="378.86" r="0.5" fill="#1fa84a" fill-opacity="0.8"/>
<circle cx="724.70" cy="375.74" r="0.5" fill="#1fa84a" fill-opacity="0.8"/>
<circle cx="724.88" cy="373.47" r="0.5" fill="#1fa84a" fill-opacity="0.8"/>
<circle cx="724.63" cy="370.54" r="0.5" fill="#1fa84a" fill-opacity="0.8"/>
<circle cx="724.55" cy="367.87" r="0.5" fill="#1fa84a" fill-opacity="0.8"/>
<circle cx="724.94" cy="365.38" r="0.5" fill="#1fa84a" fill-opacity="0.8"/>
<circle cx="724.91" cy="363.68" r="0.5" fill="#1fa84a" fill-opacity="0.8"/>
<circle cx="725.07" cy="362.06" r="0.5" fill="#1fa84a" fill-opacity="0.8"/>
<circle cx="724.69" cy="359.71" r="0.5" fill="#1fa84a" fill-opacity="0.8"/>
<circle cx="724.77" cy="356.95" r="0.5" fill="#1fa84a" fill-opacity="0.8"/>
<circle cx="724.46" cy="354.18" r="0.5" fill="#1fa84a" fill-opacity="0.8"/>
<circle cx="724.79" cy="351.68" r="0.5" fill="#1fa84a" fill-opacity="0.8"/>
<circle cx="724.43" cy="348.59" r="0.5" fill="#1fa84a" fill-opacity="0.8"/>
<circle cx="724.84" cy="346.27" r="0.5" fill="#1fa84a" fill-opacity="0.8"/>
<circle cx="724.45" cy="343.79" r="0.5" fill="#1fa84a" fill-opacity="0.8"/>
<circle cx="724.92" cy="389.43" r="0.6" fill="#1fa84a"/>
<circle cx="724.94" cy="383.06" r="0.6" fill="#1fa84a"/>
<circle cx="724.40" cy="376.68" r="0.6" fill="#1fa84a"/>
<circle cx="724.94" cy="370.31" r="0.6" fill="#1fa84a"/>
<circle cx="724.74" cy="363.94" r="0.6" fill="#1fa84a"/>
<circle cx="724.50" cy="357.56" r="0.6" fill="#1fa84a"/>
<circle cx="724.53" cy="351.19" r="0.6" fill="#1fa84a"/>
<circle cx="724.66" cy="344.82" r="0.6" fill="#1fa84a"/>
<circle cx="724.45" cy="340.57" r="0.6" fill="#1fa84a"/>
<line x1="720.26" y1="443.60" x2="724.66" y2="443.60" stroke="#111" stroke-width="1.3"/>
<rect x="701.30" y="308.70" width="24.30" height="191.20" fill="none" stroke="#6a6a6a" stroke-width="0.9"/>
<text transform="translate(705.70,306.90) rotate(-48)" font-size="6.0" font-family='"Liberation Sans", sans-serif' fill="#1fa84a" font-weight="bold">LUSC</text>
<text transform="translate(717.85,306.90) rotate(-48)" font-size="6.0" font-family='"Liberation Sans", sans-serif' fill="#1fa84a" font-weight="bold">LUAD</text>
<text transform="translate(703.74,502.90) rotate(-44)" font-size="3.6" font-weight="bold" font-family='"Liberation Sans", sans-serif' fill="#111" stroke="#111" stroke-width="0.15" text-anchor="end" textLength="15.5" lengthAdjust="spacingAndGlyphs">T (num=486)</text>
<text transform="translate(709.81,502.90) rotate(-44)" font-size="3.6" font-weight="bold" font-family='"Liberation Sans", sans-serif' fill="#111" stroke="#111" stroke-width="0.15" text-anchor="end" textLength="15.5" lengthAdjust="spacingAndGlyphs">N (num=338)</text>
<text transform="translate(715.89,502.90) rotate(-44)" font-size="3.6" font-weight="bold" font-family='"Liberation Sans", sans-serif' fill="#111" stroke="#111" stroke-width="0.15" text-anchor="end" textLength="15.5" lengthAdjust="spacingAndGlyphs">T (num=483)</text>
<text transform="translate(721.96,502.90) rotate(-44)" font-size="3.6" font-weight="bold" font-family='"Liberation Sans", sans-serif' fill="#111" stroke="#111" stroke-width="0.15" text-anchor="end" textLength="15.5" lengthAdjust="spacingAndGlyphs">N (num=347)</text>
<text x="132.80" y="554.60" font-size="19.8" fill="#000" font-family='"Liberation Serif", serif' font-weight="bold" text-anchor="middle" textLength="82.0" lengthAdjust="spacingAndGlyphs">FERMT1</text>
<rect x="21.90" y="565.00" width="246.20" height="211.00" fill="none" stroke="#555" stroke-width="0.9"/>
<line x1="17.70" y1="768.30" x2="21.90" y2="768.30" stroke="#777" stroke-width="0.8"/>
<text transform="translate(11.90,768.30) rotate(-90)" font-size="6.8" font-family='"Liberation Sans", sans-serif' fill="#222" stroke="#222" stroke-width="0.2" text-anchor="middle">0</text>
<line x1="17.70" y1="715.60" x2="21.90" y2="715.60" stroke="#777" stroke-width="0.8"/>
<text transform="translate(11.90,715.60) rotate(-90)" font-size="6.8" font-family='"Liberation Sans", sans-serif' fill="#222" stroke="#222" stroke-width="0.2" text-anchor="middle">2</text>
<line x1="17.70" y1="662.90" x2="21.90" y2="662.90" stroke="#777" stroke-width="0.8"/>
<text transform="translate(11.90,662.90) rotate(-90)" font-size="6.8" font-family='"Liberation Sans", sans-serif' fill="#222" stroke="#222" stroke-width="0.2" text-anchor="middle">4</text>
<line x1="17.70" y1="610.20" x2="21.90" y2="610.20" stroke="#777" stroke-width="0.8"/>
<text transform="translate(11.90,610.20) rotate(-90)" font-size="6.8" font-family='"Liberation Sans", sans-serif' fill="#222" stroke="#222" stroke-width="0.2" text-anchor="middle">6</text>
<rect x="53.30" y="676.07" width="31.10" height="36.89" fill="#f86161" stroke="#444" stroke-width="0.8"/>
<line x1="53.30" y1="693.20" x2="84.40" y2="693.20" stroke="#111" stroke-width="1.5"/>
<line x1="61.07" y1="622.06" x2="76.62" y2="622.06" stroke="#333" stroke-width="0.8"/>
<line x1="61.07" y1="763.03" x2="76.62" y2="763.03" stroke="#333" stroke-width="0.8"/>
<line x1="53.80" y1="768.30" x2="83.90" y2="768.30" stroke="#111" stroke-width="1.8"/>
<path d="M68.9 747.2h.9M67.0 749.0h.9M70.3 716.0h.9M65.8 737.8h.9M72.6 758.2h.9M73.1 760.7h.9M68.8 713.4h.9M68.5 734.0h.9M72.2 760.3h.9M66.9 737.4h.9M71.6 737.8h.9M66.9 741.2h.9M70.9 715.4h.9M67.3 715.5h.9M69.8 756.8h.9M72.8 755.4h.9M64.7 742.6h.9M71.7 721.3h.9M69.2 642.4h.9M67.7 636.7h.9M67.5 645.0h.9M64.9 664.7h.9M66.6 631.9h.9M70.0 675.3h.9M65.1 638.3h.9M70.4 665.6h.9M73.1 650.6h.9M73.3 623.4h.9M72.4 647.0h.9M71.7 673.0h.9M65.9 652.9h.9M73.2 640.4h.9M66.1 673.0h.9M72.2 662.4h.9M72.3 675.1h.9M70.0 646.9h.9M69.0 655.5h.9M66.1 686.5h.9M69.0 694.1h.9M66.9 688.8h.9M65.4 691.8h.9M65.4 641.0h.9M71.6 721.6h.9M72.7 735.8h.9M65.6 720.9h.9M64.4 729.7h.9M66.7 672.8h.9M65.5 670.8h.9M66.0 719.5h.9M69.6 731.2h.9M68.1 702.9h.9M68.2 655.2h.9M66.1 763.0h.9M70.4 678.8h.9M66.9 722.6h.9M67.9 664.8h.9M68.5 722.7h.9M72.6 701.0h.9M66.5 734.4h.9M70.9 719.9h.9M67.1 655.3h.9M72.5 670.8h.9M67.9 704.2h.9M68.9 717.0h.9M72.3 745.0h.9M70.4 704.0h.9M65.1 694.0h.9M65.5 695.5h.9M73.4 695.8h.9M64.5 723.9h.9M67.0 695.0h.9M73.1 694.3h.9M64.4 657.9h.9M65.7 642.2h.9M66.2 696.9h.9M65.0 714.2h.9M68.6 695.0h.9M69.7 709.8h.9M67.2 713.5h.9M65.2 694.8h.9M71.7 721.7h.9M71.7 676.6h.9M69.4 696.0h.9M65.5 686.4h.9M69.2 698.2h.9M70.0 713.1h.9M68.2 719.1h.9M72.2 699.7h.9M67.8 708.2h.9M69.0 686.8h.9M65.3 693.3h.9M69.4 730.5h.9M71.3 691.4h.9M71.0 729.9h.9M66.6 710.1h.9M73.4 701.3h.9M70.9 750.0h.9M68.1 690.7h.9M68.1 689.1h.9M71.4 697.5h.9M65.9 704.8h.9M70.1 703.4h.9M70.9 719.9h.9M69.0 700.6h.9M72.3 708.3h.9M68.6 690.7h.9M68.5 726.1h.9M66.9 686.8h.9M72.7 689.3h.9M67.2 697.1h.9M70.6 705.2h.9M68.0 678.1h.9M72.9 738.7h.9M73.0 680.6h.9M64.5 686.6h.9M73.4 685.5h.9M69.8 682.7h.9M64.9 711.1h.9M68.8 700.3h.9M64.7 675.8h.9M69.3 681.4h.9M66.0 687.5h.9M67.6 734.6h.9M67.1 678.5h.9M69.8 661.2h.9M71.8 665.6h.9M72.9 686.8h.9M67.3 735.8h.9M69.5 667.4h.9M64.3 697.2h.9M67.7 762.5h.9M73.1 682.9h.9M65.3 734.0h.9M72.3 728.7h.9M70.3 710.6h.9M67.0 658.4h.9M71.4 703.3h.9M66.9 685.8h.9M72.5 645.4h.9M65.0 649.6h.9M65.3 696.0h.9M71.2 699.8h.9M68.4 727.7h.9M65.6 712.2h.9M69.0 681.6h.9M67.0 682.4h.9M69.3 690.2h.9M71.1 666.0h.9M72.1 714.3h.9M64.8 694.7h.9M69.7 673.2h.9M73.3 677.2h.9M68.5 663.9h.9M71.3 682.3h.9M65.1 701.7h.9M72.3 683.3h.9M69.6 720.6h.9M72.4 738.0h.9M71.5 677.3h.9M72.2 694.7h.9M64.8 684.8h.9M70.8 739.6h.9M66.1 703.2h.9M66.7 709.6h.9M67.2 716.8h.9M69.7 754.9h.9M70.0 702.4h.9M72.8 668.7h.9M64.4 682.8h.9M66.0 709.6h.9M67.6 693.6h.9M71.8 672.5h.9M69.3 763.0h.9M69.0 696.6h.9M71.2 678.3h.9M70.3 674.5h.9M66.9 646.7h.9M65.1 662.2h.9M68.5 684.7h.9M72.3 684.9h.9M69.8 671.7h.9M64.7 708.0h.9M68.3 694.3h.9M67.8 668.4h.9M69.6 639.7h.9M69.7 697.6h.9M73.0 694.5h.9M67.4 687.8h.9M68.0 656.5h.9M69.9 694.0h.9M72.4 653.0h.9M70.7 719.6h.9M68.6 698.3h.9M71.7 698.6h.9M68.7 671.7h.9M73.1 664.6h.9M66.8 734.5h.9M65.4 718.2h.9M71.9 684.0h.9M67.0 711.2h.9M72.0 734.8h.9M69.9 664.8h.9M68.9 679.7h.9M65.1 679.7h.9M71.5 706.2h.9M64.9 665.1h.9M73.1 699.8h.9M72.3 663.2h.9M67.0 718.1h.9M65.4 716.6h.9M72.4 687.6h.9M68.7 712.4h.9M65.4 674.7h.9M68.8 686.1h.9M66.5 718.4h.9M68.0 691.2h.9M70.1 702.8h.9M72.7 668.2h.9M71.6 710.5h.9M65.7 705.2h.9M68.6 660.1h.9M68.8 632.0h.9M73.4 638.5h.9M65.0 691.5h.9M68.9 687.2h.9M72.7 651.3h.9M67.9 696.6h.9M66.7 719.9h.9M69.4 690.0h.9M67.2 680.9h.9M72.8 715.9h.9M65.0 738.2h.9M66.2 732.5h.9M65.0 675.0h.9M70.8 713.9h.9M66.9 697.1h.9M72.5 687.4h.9M72.5 676.3h.9M72.9 702.4h.9M66.6 679.6h.9M64.3 717.5h.9M67.8 703.1h.9M73.1 721.2h.9M71.3 662.3h.9M64.8 693.9h.9M70.7 713.4h.9M72.7 702.8h.9M73.2 699.3h.9M70.8 674.0h.9M72.2 736.8h.9M72.0 721.6h.9M67.5 703.5h.9M65.2 624.0h.9M70.9 667.1h.9M65.5 696.3h.9M67.8 673.7h.9M73.4 636.9h.9M69.4 699.6h.9M69.1 703.2h.9M73.0 660.1h.9M66.9 679.7h.9M73.4 674.8h.9M72.6 707.1h.9M67.6 640.6h.9M67.3 646.5h.9M65.4 677.7h.9M72.7 674.5h.9M66.0 748.6h.9M64.3 675.8h.9M72.4 698.5h.9M69.8 681.3h.9M70.4 674.5h.9M71.0 702.5h.9M64.6 739.4h.9M65.1 683.1h.9M68.8 713.5h.9M64.7 702.2h.9M68.9 709.7h.9M71.0 702.5h.9M70.3 756.4h.9M69.9 659.9h.9M64.7 686.3h.9M66.4 662.8h.9M72.5 639.1h.9M65.4 692.6h.9M69.2 742.5h.9M64.7 717.6h.9M72.9 726.2h.9M65.8 706.9h.9M68.0 691.0h.9M69.3 748.0h.9M70.9 683.8h.9M72.9 734.5h.9M71.0 685.1h.9M67.4 696.2h.9M64.9 701.8h.9M70.8 695.2h.9M73.2 708.0h.9M64.4 710.0h.9M71.4 739.2h.9M65.9 694.0h.9M68.5 642.7h.9M69.1 639.0h.9M69.9 657.1h.9M73.4 673.9h.9M70.6 711.7h.9M67.9 653.7h.9M70.8 694.7h.9M68.5 695.1h.9M68.1 701.2h.9M67.6 690.7h.9M68.8 705.1h.9M66.8 695.5h.9M66.5 722.9h.9M65.6 703.4h.9M68.3 630.8h.9M66.9 695.1h.9M71.9 699.7h.9M72.1 678.6h.9M67.4 673.8h.9M69.9 723.7h.9M72.6 698.9h.9M67.6 668.1h.9M69.4 685.8h.9M68.3 689.9h.9M70.2 650.7h.9M73.1 711.7h.9M65.5 690.9h.9M73.1 707.4h.9M70.4 652.4h.9M71.6 746.6h.9M70.1 711.5h.9M72.3 707.7h.9M67.3 675.1h.9M70.8 676.6h.9M66.7 655.0h.9M68.9 736.2h.9M70.5 672.7h.9M66.1 701.2h.9M64.8 711.4h.9M71.5 678.4h.9M71.7 718.4h.9M70.4 750.0h.9M67.2 703.3h.9M70.3 734.2h.9M65.0 710.9h.9M70.3 683.0h.9M69.6 684.7h.9M69.9 649.8h.9M68.4 698.7h.9M66.3 735.1h.9M70.9 713.9h.9M68.5 718.3h.9M71.1 726.5h.9M67.6 681.3h.9M65.1 710.8h.9M69.2 747.3h.9M70.0 674.1h.9M72.7 696.2h.9M72.4 683.4h.9M64.8 690.3h.9M71.4 675.9h.9M66.7 692.2h.9M70.7 659.4h.9M67.7 681.6h.9M67.2 682.5h.9M68.7 682.0h.9M69.1 733.0h.9M70.6 697.7h.9M70.1 700.3h.9M70.5 687.5h.9M67.8 730.4h.9M70.5 648.5h.9M67.4 690.3h.9M69.8 726.3h.9M68.5 739.9h.9M69.4 700.9h.9M64.4 695.7h.9M68.8 712.8h.9M66.3 690.7h.9M67.8 710.7h.9M64.9 678.1h.9M70.3 713.0h.9M72.5 694.3h.9M67.5 666.4h.9M65.2 622.9h.9M70.0 720.8h.9M65.4 705.9h.9M72.5 716.2h.9M65.4 671.8h.9M67.6 724.6h.9M68.8 706.4h.9M65.3 694.0h.9M67.2 720.0h.9M66.8 719.4h.9M70.8 706.2h.9M73.3 750.6h.9M67.6 732.7h.9M71.5 704.5h.9M65.5 689.1h.9M69.6 698.3h.9M68.2 741.7h.9M66.9 705.9h.9M71.8 671.4h.9M71.1 678.0h.9M65.5 695.4h.9M66.9 717.5h.9M71.8 675.9h.9M73.4 709.0h.9M69.9 725.2h.9M72.3 715.1h.9M73.3 653.6h.9M71.1 687.2h.9M70.2 661.5h.9M66.3 706.3h.9M67.7 667.5h.9M70.0 709.7h.9M72.8 697.5h.9M67.0 625.2h.9M67.9 672.2h.9M64.5 706.9h.9M70.7 695.5h.9M68.3 684.3h.9M71.6 660.1h.9M66.4 706.6h.9M70.3 740.8h.9M70.4 700.8h.9M68.5 692.8h.9M66.0 690.2h.9M68.0 657.2h.9M71.1 684.5h.9M66.0 671.0h.9M65.1 723.3h.9M68.5 669.5h.9M66.4 635.9h.9M71.6 672.1h.9M71.8 686.3h.9M72.9 689.0h.9M72.0 644.3h.9M70.2 718.6h.9M66.0 696.2h.9M71.8 680.6h.9M70.9 672.9h.9M71.1 705.2h.9M70.7 684.8h.9M71.9 700.8h.9M67.0 689.9h.9M70.4 696.8h.9M69.0 724.4h.9M67.4 693.8h.9M67.3 669.2h.9M65.7 719.6h.9M68.8 699.8h.9M67.6 675.0h.9M68.1 722.5h.9M72.1 688.2h.9M70.5 722.2h.9M70.5 662.2h.9M73.3 630.0h.9M66.3 637.9h.9M68.9 699.2h.9M65.1 673.0h.9M67.9 689.9h.9M73.0 690.4h.9M65.0 650.9h.9M71.2 729.3h.9M72.2 664.3h.9M68.9 694.5h.9M71.6 654.7h.9M68.3 688.1h.9M67.5 586.5h.9M68.9 597.0h.9M66.0 610.2h.9M67.1 618.1h.9M67.1 765.7h.9M73.3 767.0h.9" stroke="#000" stroke-width="1.15" fill="none"/>
<rect x="91.80" y="743.27" width="30.40" height="11.86" fill="#828282" stroke="#444" stroke-width="0.8"/>
<line x1="91.80" y1="749.33" x2="122.20" y2="749.33" stroke="#111" stroke-width="1.5"/>
<line x1="99.40" y1="727.46" x2="114.60" y2="727.46" stroke="#333" stroke-width="0.8"/>
<line x1="99.40" y1="768.30" x2="114.60" y2="768.30" stroke="#333" stroke-width="0.8"/>
<line x1="92.30" y1="768.30" x2="121.70" y2="768.30" stroke="#111" stroke-width="1.8"/>
<path d="M104.6 756.9h.9M105.1 759.5h.9M104.0 765.2h.9M110.7 760.8h.9M110.6 764.2h.9M105.7 756.2h.9M108.8 763.8h.9M106.9 765.7h.9M105.0 767.7h.9M105.6 763.8h.9M111.3 755.3h.9M105.5 765.4h.9M107.7 762.3h.9M111.1 727.9h.9M105.1 743.2h.9M109.8 738.6h.9M103.4 730.3h.9M109.1 741.8h.9M109.8 728.6h.9M110.1 730.1h.9M111.4 741.0h.9M108.9 733.9h.9M111.4 734.5h.9M105.0 732.3h.9M107.2 738.4h.9M104.4 737.2h.9M103.2 757.7h.9M106.4 748.4h.9M109.0 745.3h.9M109.6 761.8h.9M102.6 756.5h.9M111.1 757.6h.9M104.7 742.8h.9M105.1 734.3h.9M110.1 741.8h.9M110.6 752.4h.9M109.2 736.5h.9M105.5 762.6h.9M106.7 736.1h.9M110.1 755.1h.9M105.7 768.3h.9M109.8 727.5h.9M109.6 735.5h.9M106.7 758.4h.9M110.6 747.8h.9M105.9 751.2h.9M109.3 748.4h.9M108.3 762.4h.9M105.4 755.3h.9M107.3 745.2h.9M108.0 747.4h.9M107.3 738.8h.9M103.4 748.6h.9M111.5 728.7h.9M111.3 755.6h.9M102.7 747.0h.9M111.1 766.2h.9M107.3 760.3h.9M103.6 737.7h.9M109.9 757.6h.9M106.4 744.7h.9M109.0 749.9h.9M110.0 758.5h.9M107.3 752.4h.9M102.9 753.8h.9M110.0 753.6h.9M108.8 742.7h.9M110.8 743.6h.9M104.9 754.4h.9M109.6 757.3h.9M110.4 746.8h.9M105.7 750.2h.9M106.2 740.3h.9M105.5 727.5h.9M102.5 741.9h.9M104.5 749.6h.9M105.5 750.8h.9M103.4 756.9h.9M109.4 757.3h.9M106.3 758.1h.9M107.6 752.8h.9M105.0 753.1h.9M105.7 742.8h.9M109.3 752.8h.9M106.7 751.1h.9M107.9 760.0h.9M106.3 734.9h.9M107.5 744.9h.9M110.7 733.6h.9M104.9 742.3h.9M107.2 736.2h.9M108.7 751.5h.9M103.2 743.0h.9M111.3 727.5h.9M107.0 760.1h.9M104.7 739.0h.9M109.4 734.4h.9M109.9 745.6h.9M108.2 742.6h.9M110.8 738.1h.9M103.2 755.2h.9M107.3 745.7h.9M109.2 757.1h.9M110.8 755.4h.9M108.3 754.9h.9M107.9 750.6h.9M106.0 748.0h.9M107.7 745.3h.9M107.5 762.1h.9M110.7 731.5h.9M110.0 738.9h.9M109.2 742.8h.9M110.9 752.5h.9M103.0 750.1h.9M109.5 744.4h.9M106.7 745.6h.9M109.3 764.5h.9M105.1 742.7h.9M106.7 727.5h.9M110.0 766.0h.9M102.7 740.4h.9M105.1 746.0h.9M106.9 750.3h.9M110.2 737.0h.9M104.9 760.0h.9M110.0 747.9h.9M104.6 736.1h.9M105.2 751.1h.9M107.5 753.1h.9M108.4 748.3h.9M110.5 753.3h.9M110.5 735.4h.9M104.7 757.5h.9M109.3 741.4h.9M108.2 760.6h.9M106.0 743.3h.9M109.5 750.3h.9M110.7 768.3h.9M106.8 749.4h.9M110.8 759.0h.9M103.6 753.3h.9M103.9 735.4h.9M109.4 759.4h.9M105.2 758.9h.9M107.8 736.3h.9M107.0 748.3h.9M103.7 735.4h.9M109.3 746.4h.9M109.2 757.3h.9M103.7 749.9h.9M104.8 738.2h.9M109.8 740.8h.9M110.8 749.3h.9M110.4 748.9h.9M107.0 750.3h.9M105.8 754.6h.9M106.5 731.9h.9M104.0 749.3h.9M107.0 759.5h.9M104.5 753.6h.9M103.9 742.8h.9M105.9 743.5h.9M103.0 750.6h.9M106.7 755.4h.9M108.8 749.1h.9M108.4 764.5h.9M111.4 761.1h.9M110.5 742.1h.9M108.2 753.7h.9M110.7 745.9h.9M106.5 738.3h.9M109.7 743.5h.9M105.0 749.1h.9M107.2 730.1h.9M111.4 743.3h.9M107.9 752.5h.9M107.1 742.7h.9M109.6 745.6h.9M105.3 757.1h.9M110.0 748.7h.9M102.6 750.8h.9M104.6 767.1h.9M104.0 750.9h.9M104.8 751.9h.9M111.1 753.3h.9M102.6 764.2h.9M105.1 752.5h.9M107.7 749.7h.9M108.9 748.4h.9M109.5 759.6h.9M105.9 743.6h.9M104.4 760.3h.9M110.2 751.4h.9M103.5 737.5h.9M103.0 755.6h.9M104.5 753.9h.9M106.9 739.6h.9M111.1 752.8h.9M109.1 752.0h.9M107.6 747.3h.9M107.2 739.8h.9M108.8 768.3h.9M108.2 756.8h.9M105.5 758.4h.9M103.3 759.1h.9M104.2 757.0h.9M109.6 756.9h.9M108.2 746.6h.9M109.7 757.3h.9M102.8 748.2h.9M110.7 745.7h.9M105.9 755.9h.9M110.9 748.2h.9M107.9 734.6h.9M107.4 746.4h.9M109.9 755.1h.9M108.2 749.9h.9M108.6 757.6h.9M103.8 746.9h.9M108.0 741.6h.9M105.7 756.7h.9M103.1 751.2h.9M103.6 739.3h.9M106.8 753.8h.9M104.8 747.6h.9M109.4 758.5h.9M103.5 756.7h.9M102.5 753.9h.9M111.6 730.2h.9M105.3 752.9h.9M107.1 754.0h.9M104.3 754.3h.9M104.3 750.8h.9M106.1 743.6h.9M109.7 747.7h.9M102.8 731.2h.9M110.1 747.4h.9M111.5 736.6h.9M107.5 746.9h.9M105.7 744.0h.9M104.6 762.0h.9M104.1 750.4h.9M105.4 749.9h.9M110.2 751.5h.9M102.4 768.3h.9M109.6 741.6h.9M108.5 752.7h.9M102.6 753.2h.9M103.0 751.6h.9M109.2 751.3h.9M108.6 745.7h.9M105.3 760.5h.9M110.3 757.5h.9M104.3 746.8h.9M106.3 748.0h.9M103.5 752.6h.9M108.3 754.4h.9M103.2 756.7h.9M104.1 749.8h.9M109.5 738.9h.9M107.0 758.6h.9M108.5 735.9h.9M109.2 741.9h.9M108.0 753.3h.9M104.2 742.4h.9M108.8 762.2h.9M103.5 764.5h.9M104.9 760.7h.9M106.5 752.9h.9M103.5 752.2h.9M103.4 753.9h.9M108.4 748.5h.9M109.2 768.1h.9M105.8 745.0h.9M106.0 761.8h.9M104.3 755.1h.9M107.2 753.0h.9M107.7 759.5h.9M111.0 761.4h.9M102.8 758.2h.9M110.8 749.4h.9M111.5 744.1h.9M105.6 744.4h.9M109.1 758.1h.9M110.0 756.3h.9M108.4 757.4h.9M105.1 745.4h.9M108.1 767.2h.9M110.5 738.4h.9M103.4 753.6h.9M106.8 756.2h.9M102.6 746.3h.9M110.2 740.3h.9M109.6 746.3h.9M102.8 740.1h.9M109.3 748.1h.9M108.8 738.5h.9M103.6 738.4h.9M107.2 750.2h.9M108.7 736.7h.9M105.5 747.9h.9M107.0 748.6h.9M111.4 757.4h.9M108.2 751.9h.9M107.0 742.5h.9M103.0 760.9h.9M103.5 743.6h.9M110.2 746.3h.9M109.2 746.9h.9M110.1 768.3h.9M107.7 750.2h.9M107.7 743.6h.9M107.3 756.0h.9M109.2 748.5h.9M105.4 768.3h.9M107.0 743.4h.9M106.7 755.2h.9M108.5 741.7h.9M104.4 765.5h.9M102.6 743.2h.9M103.2 751.4h.9M104.0 742.2h.9M110.3 757.5h.9M109.0 754.8h.9M109.3 729.6h.9M106.5 756.6h.9M103.3 755.5h.9M106.7 751.8h.9M110.3 758.3h.9M107.1 738.9h.9M108.2 697.2h.9M105.8 709.0h.9M103.8 723.5h.9M108.2 726.1h.9" stroke="#000" stroke-width="1.15" fill="none"/>
<rect x="167.70" y="633.91" width="30.70" height="36.89" fill="#f86161" stroke="#444" stroke-width="0.8"/>
<line x1="167.70" y1="651.04" x2="198.40" y2="651.04" stroke="#111" stroke-width="1.5"/>
<line x1="175.38" y1="582.53" x2="190.73" y2="582.53" stroke="#333" stroke-width="0.8"/>
<line x1="175.38" y1="724.82" x2="190.73" y2="724.82" stroke="#333" stroke-width="0.8"/>
<path d="M179.5 722.4h.9M183.9 716.6h.9M186.2 692.1h.9M184.0 682.6h.9M179.8 698.9h.9M182.2 691.7h.9M180.9 690.1h.9M178.6 723.8h.9M187.3 711.5h.9M182.7 670.9h.9M179.7 707.0h.9M186.6 673.7h.9M187.5 698.2h.9M186.0 712.8h.9M180.8 724.7h.9M180.2 713.1h.9M183.3 707.5h.9M183.8 701.1h.9M186.5 610.9h.9M187.3 605.7h.9M186.8 609.6h.9M181.6 632.2h.9M183.8 620.2h.9M179.6 584.5h.9M183.2 632.5h.9M179.1 596.2h.9M179.5 609.4h.9M179.6 597.6h.9M181.2 616.8h.9M181.3 614.9h.9M184.9 607.4h.9M179.1 587.2h.9M179.5 617.0h.9M184.5 629.5h.9M184.6 631.9h.9M185.0 588.6h.9M185.1 617.8h.9M184.5 633.4h.9M183.5 615.8h.9M185.3 678.0h.9M179.2 608.1h.9M180.4 676.5h.9M185.3 643.5h.9M180.2 619.4h.9M183.3 631.5h.9M180.8 676.7h.9M182.4 670.2h.9M186.1 663.7h.9M184.5 652.4h.9M182.5 619.7h.9M181.0 686.4h.9M185.9 638.3h.9M184.5 634.4h.9M182.5 635.8h.9M186.4 638.3h.9M184.8 609.5h.9M187.5 637.7h.9M184.6 627.6h.9M186.7 635.6h.9M183.5 602.0h.9M185.0 703.0h.9M186.2 616.0h.9M179.3 658.2h.9M182.8 658.7h.9M184.0 677.6h.9M179.0 702.1h.9M185.7 661.5h.9M185.0 669.8h.9M187.1 637.5h.9M181.9 691.3h.9M182.8 611.9h.9M186.8 643.6h.9M182.2 657.8h.9M186.1 670.4h.9M182.3 672.6h.9M181.6 681.9h.9M181.0 665.9h.9M180.4 650.9h.9M182.4 655.9h.9M179.9 689.7h.9M186.1 658.3h.9M187.4 675.5h.9M179.3 646.7h.9M179.0 600.1h.9M178.5 634.0h.9M187.0 659.6h.9M179.1 695.5h.9M184.7 689.7h.9M181.2 697.2h.9M180.3 631.2h.9M180.7 672.0h.9M184.8 649.3h.9M178.6 668.1h.9M186.4 648.5h.9M183.7 612.7h.9M180.6 669.8h.9M180.4 660.4h.9M184.5 673.1h.9M184.2 627.1h.9M181.4 679.1h.9M181.5 682.0h.9M182.7 689.0h.9M186.8 689.6h.9M183.4 638.2h.9M186.2 582.5h.9M184.3 678.3h.9M183.6 625.0h.9M183.0 644.2h.9M184.7 681.2h.9M183.0 658.6h.9M185.1 657.4h.9M180.1 669.9h.9M181.4 598.2h.9M186.5 703.2h.9M182.1 640.6h.9M186.2 642.0h.9M187.1 666.9h.9M183.8 647.0h.9M179.4 627.0h.9M185.4 646.9h.9M184.6 639.6h.9M181.1 632.1h.9M186.4 706.6h.9M182.9 610.6h.9M179.0 588.7h.9M179.1 624.2h.9M180.6 623.3h.9M184.1 689.6h.9M185.9 654.3h.9M179.4 673.2h.9M178.7 667.1h.9M184.2 624.6h.9M182.2 673.0h.9M182.5 654.6h.9M186.0 703.2h.9M186.9 655.4h.9M187.3 648.6h.9M185.6 670.3h.9M178.5 670.7h.9M179.8 599.5h.9M183.9 684.1h.9M187.2 679.8h.9M179.2 673.2h.9M183.2 618.3h.9M182.1 593.6h.9M182.2 642.0h.9M180.9 670.7h.9M180.9 662.7h.9M180.6 621.9h.9M179.4 676.0h.9M183.5 611.3h.9M182.6 612.3h.9M185.0 649.1h.9M184.3 633.4h.9M187.2 630.5h.9M181.6 608.5h.9M186.6 679.8h.9M182.0 618.7h.9M184.5 661.3h.9M185.9 672.0h.9M182.1 648.2h.9M182.6 656.9h.9M184.3 678.0h.9M179.5 694.7h.9M183.3 676.8h.9M179.3 611.3h.9M180.5 597.4h.9M184.2 633.3h.9M187.4 618.6h.9M187.6 665.2h.9M180.8 653.2h.9M179.8 643.3h.9M183.2 680.6h.9M182.5 678.1h.9M181.9 648.4h.9M185.5 659.8h.9M185.0 680.1h.9M183.6 640.5h.9M184.2 658.2h.9M183.8 623.1h.9M184.7 651.2h.9M187.0 659.3h.9M187.2 647.6h.9M187.5 655.7h.9M186.4 669.3h.9M179.4 662.0h.9M182.6 630.5h.9M185.6 633.4h.9M181.2 615.9h.9M184.0 697.3h.9M179.0 661.8h.9M180.3 662.4h.9M182.1 646.3h.9M179.1 663.4h.9M182.4 665.1h.9M180.6 629.6h.9M186.4 646.2h.9M181.4 682.9h.9M182.0 614.5h.9M185.8 623.8h.9M183.6 666.7h.9M178.9 628.3h.9M180.5 671.1h.9M184.1 620.3h.9M180.3 657.0h.9M180.7 673.0h.9M184.2 661.2h.9M183.0 672.0h.9M180.9 645.8h.9M183.6 646.3h.9M184.3 650.1h.9M178.8 666.3h.9M181.0 724.8h.9M181.3 648.5h.9M186.5 702.9h.9M178.9 644.4h.9M181.6 620.1h.9M180.2 643.6h.9M184.8 661.7h.9M185.9 656.0h.9M179.0 654.7h.9M186.4 666.1h.9M184.9 667.0h.9M180.4 676.3h.9M186.9 618.6h.9M181.1 651.5h.9M185.7 624.9h.9M179.1 657.9h.9M182.6 649.1h.9M183.1 655.7h.9M186.7 638.4h.9M186.1 628.4h.9M183.5 644.5h.9M178.9 669.5h.9M182.4 672.4h.9M181.9 605.7h.9M187.6 658.7h.9M184.7 659.0h.9M182.2 611.0h.9M181.8 621.3h.9M185.5 636.4h.9M179.3 662.0h.9M186.0 586.7h.9M184.6 640.3h.9M182.5 636.1h.9M185.0 655.7h.9M182.1 689.7h.9M179.8 687.5h.9M182.3 639.9h.9M178.9 640.3h.9M179.3 657.6h.9M182.5 683.1h.9M186.0 690.5h.9M180.3 660.0h.9M183.1 690.9h.9M187.5 626.5h.9M186.1 619.5h.9M186.7 582.5h.9M184.7 627.0h.9M183.9 667.3h.9M183.8 674.9h.9M184.0 724.8h.9M182.7 667.3h.9M181.8 655.9h.9M180.6 624.6h.9M179.1 634.3h.9M181.8 635.0h.9M185.5 645.2h.9M183.5 633.0h.9M180.0 611.5h.9M185.9 680.2h.9M178.8 663.5h.9M187.0 689.0h.9M184.4 606.8h.9M183.6 615.6h.9M182.2 630.5h.9M186.0 683.8h.9M178.5 646.3h.9M178.6 657.5h.9M183.2 648.8h.9M181.2 656.2h.9M182.1 636.8h.9M183.4 661.8h.9M178.9 627.7h.9M187.5 644.4h.9M184.7 659.1h.9M179.4 654.1h.9M185.2 663.1h.9M183.4 628.8h.9M184.8 658.5h.9M185.2 643.0h.9M187.6 661.8h.9M179.5 691.7h.9M187.6 626.3h.9M182.8 680.0h.9M180.3 632.5h.9M181.9 639.6h.9M181.8 696.3h.9M186.7 676.9h.9M183.3 665.1h.9M179.1 673.5h.9M185.0 683.4h.9M183.0 630.8h.9M185.9 657.6h.9M178.9 640.5h.9M186.4 662.8h.9M186.7 642.7h.9M178.5 671.6h.9M182.8 651.8h.9M179.6 635.1h.9M183.3 649.8h.9M179.3 663.5h.9M186.6 680.8h.9M180.1 646.5h.9M184.6 641.6h.9M184.5 658.1h.9M181.4 672.1h.9M180.4 636.2h.9M186.9 583.2h.9M178.8 659.3h.9M180.8 641.8h.9M181.5 640.7h.9M183.8 721.2h.9M181.8 647.7h.9M179.5 670.4h.9M183.7 613.2h.9M185.1 658.0h.9M184.9 672.3h.9M183.0 657.0h.9M181.3 646.5h.9M178.5 666.4h.9M183.4 652.5h.9M184.2 688.1h.9M182.5 657.2h.9M187.3 629.8h.9M180.3 597.2h.9M185.9 631.7h.9M185.1 643.6h.9M186.7 618.7h.9M187.0 623.2h.9M180.6 605.5h.9M186.9 621.4h.9M182.2 654.3h.9M184.7 644.0h.9M187.2 646.1h.9M183.9 642.8h.9M183.8 645.6h.9M179.1 672.4h.9M183.9 708.6h.9M180.7 669.4h.9M182.0 706.4h.9M181.9 649.2h.9M187.4 650.9h.9M184.3 696.9h.9M185.1 632.2h.9M180.0 627.3h.9M181.2 648.4h.9M186.5 605.4h.9M179.6 599.9h.9M187.2 684.0h.9M182.4 622.7h.9M182.0 639.0h.9M183.2 639.6h.9M182.5 625.5h.9M182.8 670.7h.9M182.4 667.2h.9M184.9 673.6h.9M181.0 671.7h.9M180.0 653.7h.9M182.4 690.7h.9M179.3 679.6h.9M182.6 635.2h.9M183.0 653.0h.9M185.7 640.6h.9M179.5 702.7h.9M182.1 672.5h.9M185.6 666.2h.9M181.6 650.2h.9M186.1 667.1h.9M185.1 625.5h.9M178.8 652.6h.9M182.0 650.6h.9M185.5 650.7h.9M183.3 631.7h.9M184.6 663.9h.9M187.6 620.3h.9M184.7 638.5h.9M183.5 646.8h.9M186.2 649.9h.9M182.4 636.8h.9M178.5 623.3h.9M181.0 625.2h.9M183.9 640.8h.9M187.2 627.1h.9M184.0 647.8h.9M181.1 616.8h.9M187.6 651.8h.9M182.1 707.8h.9M180.5 614.5h.9M183.5 648.1h.9M181.6 683.1h.9M179.5 656.5h.9M185.0 675.2h.9M184.8 593.6h.9M187.4 637.4h.9M179.7 693.9h.9M186.8 636.1h.9M185.8 661.9h.9M180.8 598.6h.9M182.9 679.8h.9M184.2 712.5h.9M181.3 649.2h.9M179.4 660.6h.9M186.2 662.4h.9M180.0 709.6h.9M183.0 639.4h.9M182.5 605.3h.9M186.8 703.2h.9M183.6 619.0h.9M182.4 666.6h.9M187.4 586.8h.9M181.7 639.1h.9M185.1 656.2h.9M180.6 620.8h.9M185.4 636.7h.9M185.4 667.2h.9M186.1 631.6h.9M182.9 665.0h.9M180.5 700.0h.9M184.3 595.5h.9M186.8 660.6h.9M181.3 667.7h.9M178.6 641.8h.9M180.2 693.7h.9M187.0 688.1h.9M178.5 664.7h.9M178.9 665.3h.9M179.4 649.1h.9M186.7 620.3h.9M182.0 664.0h.9M184.8 637.6h.9M184.9 634.6h.9M182.4 680.7h.9M185.2 644.8h.9M182.7 676.8h.9M183.4 621.9h.9M181.3 638.6h.9M178.5 650.6h.9M183.9 687.7h.9M180.9 647.9h.9M181.0 672.0h.9M186.5 631.7h.9M181.8 654.3h.9M179.4 673.3h.9M184.2 625.7h.9M183.4 631.3h.9M179.0 667.3h.9M181.7 619.3h.9M184.1 659.2h.9M181.0 659.5h.9M187.5 647.7h.9M185.8 671.6h.9M183.1 663.1h.9M186.9 655.4h.9M178.8 609.2h.9M180.5 610.0h.9M186.9 658.1h.9M183.1 607.0h.9M180.0 652.2h.9M183.7 640.6h.9M185.2 736.7h.9M184.0 741.9h.9M178.9 755.1h.9M178.8 760.4h.9M182.2 765.7h.9M178.6 731.4h.9" stroke="#000" stroke-width="1.15" fill="none"/>
<rect x="205.90" y="741.95" width="30.30" height="13.18" fill="#828282" stroke="#444" stroke-width="0.8"/>
<line x1="205.90" y1="748.54" x2="236.20" y2="748.54" stroke="#111" stroke-width="1.5"/>
<line x1="213.48" y1="722.19" x2="228.62" y2="722.19" stroke="#333" stroke-width="0.8"/>
<line x1="213.48" y1="768.30" x2="228.62" y2="768.30" stroke="#333" stroke-width="0.8"/>
<path d="M217.4 760.4h.9M222.5 758.1h.9M218.6 766.6h.9M218.4 761.2h.9M217.7 761.2h.9M225.1 766.9h.9M217.6 761.3h.9M224.8 764.7h.9M218.0 765.7h.9M219.5 755.3h.9M218.4 767.1h.9M225.5 763.8h.9M217.3 760.1h.9M224.4 733.9h.9M219.2 741.6h.9M225.2 724.8h.9M223.4 737.2h.9M218.9 733.8h.9M221.1 724.0h.9M217.9 722.8h.9M220.2 723.9h.9M216.7 733.8h.9M222.7 727.2h.9M221.9 725.2h.9M219.0 738.1h.9M216.6 722.8h.9M225.1 741.8h.9M217.6 742.7h.9M219.5 738.7h.9M216.7 737.8h.9M220.0 748.8h.9M220.1 761.8h.9M221.4 762.1h.9M219.4 735.4h.9M218.7 741.6h.9M223.7 747.5h.9M219.0 752.8h.9M219.5 748.2h.9M221.0 748.3h.9M219.0 751.8h.9M223.1 755.4h.9M217.2 727.4h.9M219.4 746.3h.9M220.3 754.5h.9M218.8 761.3h.9M224.2 755.6h.9M219.7 741.5h.9M220.3 741.1h.9M220.8 750.7h.9M224.1 748.0h.9M218.5 751.5h.9M224.1 759.4h.9M225.2 735.8h.9M218.9 744.9h.9M218.0 724.4h.9M223.7 755.9h.9M219.3 749.9h.9M218.5 739.9h.9M217.2 750.9h.9M222.1 762.1h.9M225.1 757.8h.9M224.6 747.6h.9M221.9 745.2h.9M220.5 749.5h.9M225.4 738.7h.9M222.5 738.8h.9M225.2 745.4h.9M222.8 748.3h.9M222.9 751.0h.9M222.9 743.2h.9M217.6 739.6h.9M218.8 747.9h.9M217.1 744.1h.9M225.0 751.7h.9M225.6 762.3h.9M222.0 758.3h.9M217.9 741.1h.9M217.6 744.2h.9M220.6 733.0h.9M220.0 748.0h.9M218.3 740.1h.9M217.3 735.6h.9M222.4 738.8h.9M223.7 754.5h.9M217.0 750.3h.9M219.3 747.3h.9M219.2 758.2h.9M221.4 743.9h.9M222.0 738.5h.9M220.2 753.2h.9M224.4 729.3h.9M220.0 751.4h.9M219.2 750.5h.9M223.5 750.9h.9M224.2 755.5h.9M224.5 744.5h.9M218.0 748.3h.9M218.3 732.3h.9M220.7 742.6h.9M225.4 743.3h.9M222.2 750.7h.9M222.2 762.3h.9M219.5 749.4h.9M225.6 756.8h.9M218.1 739.2h.9M221.6 748.8h.9M222.7 732.3h.9M223.9 741.4h.9M223.9 740.4h.9M220.0 746.3h.9M218.9 746.5h.9M225.5 742.2h.9M221.5 739.5h.9M219.0 755.5h.9M217.7 743.7h.9M223.8 722.9h.9M224.3 749.4h.9M221.7 751.0h.9M220.0 755.3h.9M222.5 762.7h.9M225.5 736.9h.9M221.8 747.9h.9M223.7 745.6h.9M224.6 730.5h.9M223.4 724.0h.9M220.9 757.2h.9M218.1 738.2h.9M222.9 742.4h.9M224.1 744.6h.9M225.3 743.8h.9M217.9 748.7h.9M217.5 733.0h.9M222.3 742.5h.9M224.1 745.1h.9M217.2 736.3h.9M222.1 739.8h.9M218.9 744.0h.9M225.6 745.3h.9M219.8 731.4h.9M217.2 743.5h.9M223.7 749.4h.9M219.2 756.9h.9M220.3 751.9h.9M217.7 758.8h.9M219.5 747.5h.9M217.7 746.0h.9M218.8 768.3h.9M221.8 748.3h.9M219.2 742.2h.9M222.6 746.9h.9M224.7 757.8h.9M221.8 736.1h.9M216.7 755.3h.9M225.3 760.5h.9M218.3 759.1h.9M219.6 748.7h.9M221.3 738.9h.9M222.1 737.1h.9M219.6 746.5h.9M220.5 760.2h.9M222.2 754.9h.9M220.7 757.3h.9M219.1 750.3h.9M220.2 765.8h.9M220.0 747.4h.9M219.1 742.2h.9M222.0 750.0h.9M221.2 744.0h.9M220.2 757.7h.9M223.0 762.7h.9M223.9 754.7h.9M222.4 737.2h.9M219.6 738.5h.9M225.1 753.0h.9M217.4 736.8h.9M223.9 751.7h.9M220.3 733.8h.9M220.1 743.8h.9M224.2 752.9h.9M222.5 740.8h.9M225.4 756.1h.9M224.5 757.7h.9M217.5 762.7h.9M221.1 746.0h.9M223.5 749.1h.9M217.2 749.3h.9M221.4 752.5h.9M225.6 734.5h.9M218.6 752.7h.9M217.5 755.6h.9M219.1 736.4h.9M219.6 734.7h.9M219.1 745.2h.9M220.4 765.5h.9M224.1 754.4h.9M221.2 742.6h.9M221.9 748.4h.9M217.5 733.4h.9M217.0 761.9h.9M225.2 741.9h.9M219.6 754.7h.9M225.2 735.6h.9M219.5 749.3h.9M222.3 738.5h.9M222.5 754.9h.9M217.3 762.3h.9M217.1 759.4h.9M220.5 754.5h.9M217.6 758.5h.9M219.2 736.8h.9M218.3 735.5h.9M219.3 745.9h.9M220.6 758.6h.9M219.3 749.7h.9M219.5 755.2h.9M220.9 734.3h.9M222.7 745.5h.9M216.8 743.8h.9M225.6 752.4h.9M220.4 768.2h.9M224.9 756.1h.9M216.5 759.4h.9M217.0 744.9h.9M217.4 747.6h.9M224.8 756.4h.9M220.2 752.3h.9M224.2 733.2h.9M222.8 757.9h.9M217.3 757.5h.9M219.8 750.8h.9M219.5 755.4h.9M220.6 752.7h.9M223.4 743.3h.9M217.2 731.6h.9M225.0 765.9h.9M220.8 748.7h.9M219.8 748.1h.9M222.9 749.4h.9M219.0 750.4h.9M223.0 751.9h.9M220.3 738.7h.9M220.8 753.1h.9M218.2 749.8h.9M218.3 748.5h.9M224.4 747.5h.9M221.8 750.2h.9M220.3 738.8h.9M223.6 748.6h.9M224.8 746.8h.9M217.9 749.0h.9M225.6 758.3h.9M216.6 756.6h.9M222.1 758.8h.9M218.9 746.7h.9M218.8 755.5h.9M221.0 758.9h.9M222.0 746.2h.9M220.5 743.4h.9M223.0 765.7h.9M225.2 732.0h.9M218.0 748.2h.9M218.6 749.6h.9M222.1 738.1h.9M220.2 747.9h.9M219.4 754.4h.9M221.1 727.1h.9M222.9 759.0h.9M224.8 749.5h.9M225.1 740.3h.9M224.0 759.0h.9M219.6 749.5h.9M224.6 744.8h.9M223.0 725.1h.9M218.1 757.3h.9M225.2 749.0h.9M218.7 742.1h.9M222.7 747.7h.9M222.8 760.3h.9M224.8 744.6h.9M222.6 747.5h.9M225.5 744.2h.9M217.0 737.5h.9M216.8 738.6h.9M218.2 744.6h.9M221.7 745.5h.9M220.4 759.3h.9M217.2 749.8h.9M218.3 746.4h.9M221.8 752.5h.9M220.2 747.6h.9M223.5 756.6h.9M220.7 733.6h.9M224.5 727.5h.9M223.4 752.3h.9M221.0 744.6h.9M219.7 750.8h.9M218.4 736.2h.9M219.1 744.3h.9M219.7 747.8h.9M219.8 750.7h.9M218.1 747.3h.9M220.8 758.3h.9M217.5 741.9h.9M224.4 755.5h.9M221.5 743.3h.9M217.3 747.3h.9M219.5 737.8h.9M218.8 748.7h.9M217.9 738.5h.9M220.9 757.5h.9M218.1 742.6h.9M217.8 750.7h.9M222.9 746.6h.9M220.4 747.8h.9M222.6 739.4h.9M220.8 768.3h.9M221.1 745.4h.9M219.3 763.1h.9M220.4 736.8h.9M220.9 767.8h.9M219.6 758.3h.9M224.1 764.9h.9M218.7 732.5h.9M218.5 761.1h.9M219.6 747.4h.9M223.7 753.8h.9M224.2 766.1h.9M221.6 751.8h.9M219.8 742.1h.9M222.4 750.3h.9M224.1 709.0h.9M218.7 710.3h.9M222.6 715.6h.9" stroke="#000" stroke-width="1.15" fill="none"/>
<path d="M69.2 583.5V578.6H84.1M91.2 578.6H107.3V690.0" stroke="#8c8c8c" stroke-width="1.2" fill="none"/>
<path d="M87.65 576.40L87.65 581.00M85.66 577.55L89.64 579.85M89.64 577.55L85.66 579.85" stroke="#f01010" stroke-width="0.95" fill="none"/>
<path d="M183.3 580.0V572.5H198.0M205.2 572.5H221.0V705.0" stroke="#8c8c8c" stroke-width="1.2" fill="none"/>
<path d="M201.55 570.30L201.55 574.90M199.56 571.45L203.54 573.75M203.54 571.45L199.56 573.75" stroke="#f01010" stroke-width="0.95" fill="none"/>
<line x1="87.80" y1="776.00" x2="87.80" y2="779.50" stroke="#555" stroke-width="0.8"/>
<text x="87.80" y="791.50" font-size="6.4" fill="#222" font-family='"Liberation Sans", sans-serif' text-anchor="middle" stroke="#222" stroke-width="0.22">LUAD</text>
<text x="87.80" y="800.30" font-size="6.4" fill="#222" font-family='"Liberation Sans", sans-serif' text-anchor="middle" textLength="84.0" lengthAdjust="spacingAndGlyphs" stroke="#222" stroke-width="0.22">(num(T)=483; num(N)=347)</text>
<line x1="201.80" y1="776.00" x2="201.80" y2="779.50" stroke="#555" stroke-width="0.8"/>
<text x="201.80" y="791.50" font-size="6.4" fill="#222" font-family='"Liberation Sans", sans-serif' text-anchor="middle" stroke="#222" stroke-width="0.22">LUSC</text>
<text x="201.80" y="800.30" font-size="6.4" fill="#222" font-family='"Liberation Sans", sans-serif' text-anchor="middle" textLength="84.0" lengthAdjust="spacingAndGlyphs" stroke="#222" stroke-width="0.22">(num(T)=486; num(N)=338)</text>
<text x="398.60" y="554.60" font-size="19.8" fill="#000" font-family='"Liberation Serif", serif' font-weight="bold" text-anchor="middle" textLength="82.0" lengthAdjust="spacingAndGlyphs">FERMT2</text>
<rect x="286.90" y="565.40" width="246.40" height="210.80" fill="none" stroke="#555" stroke-width="0.9"/>
<line x1="282.70" y1="768.30" x2="286.90" y2="768.30" stroke="#777" stroke-width="0.8"/>
<text transform="translate(276.90,768.30) rotate(-90)" font-size="6.8" font-family='"Liberation Sans", sans-serif' fill="#222" stroke="#222" stroke-width="0.2" text-anchor="middle">0</text>
<line x1="282.70" y1="718.70" x2="286.90" y2="718.70" stroke="#777" stroke-width="0.8"/>
<text transform="translate(276.90,718.70) rotate(-90)" font-size="6.8" font-family='"Liberation Sans", sans-serif' fill="#222" stroke="#222" stroke-width="0.2" text-anchor="middle">2</text>
<line x1="282.70" y1="669.10" x2="286.90" y2="669.10" stroke="#777" stroke-width="0.8"/>
<text transform="translate(276.90,669.10) rotate(-90)" font-size="6.8" font-family='"Liberation Sans", sans-serif' fill="#222" stroke="#222" stroke-width="0.2" text-anchor="middle">4</text>
<line x1="282.70" y1="619.50" x2="286.90" y2="619.50" stroke="#777" stroke-width="0.8"/>
<text transform="translate(276.90,619.50) rotate(-90)" font-size="6.8" font-family='"Liberation Sans", sans-serif' fill="#222" stroke="#222" stroke-width="0.2" text-anchor="middle">6</text>
<line x1="282.70" y1="569.90" x2="286.90" y2="569.90" stroke="#777" stroke-width="0.8"/>
<text transform="translate(276.90,569.90) rotate(-90)" font-size="6.8" font-family='"Liberation Sans", sans-serif' fill="#222" stroke="#222" stroke-width="0.2" text-anchor="middle">8</text>
<rect x="319.50" y="656.70" width="30.00" height="22.32" fill="#f86161" stroke="#444" stroke-width="0.8"/>
<line x1="319.50" y1="669.10" x2="349.50" y2="669.10" stroke="#111" stroke-width="1.5"/>
<line x1="327.00" y1="623.22" x2="342.00" y2="623.22" stroke="#333" stroke-width="0.8"/>
<line x1="327.00" y1="713.74" x2="342.00" y2="713.74" stroke="#333" stroke-width="0.8"/>
<line x1="320.00" y1="768.30" x2="349.00" y2="768.30" stroke="#111" stroke-width="1.8"/>
<path d="M332.8 686.1h.9M331.6 699.8h.9M330.5 684.5h.9M338.3 700.0h.9M338.3 685.4h.9M337.0 709.8h.9M332.2 703.9h.9M337.7 709.5h.9M337.4 688.1h.9M332.9 697.4h.9M331.1 691.0h.9M331.1 705.5h.9M333.7 688.2h.9M337.6 679.3h.9M330.6 711.0h.9M333.9 702.7h.9M333.2 683.6h.9M338.1 684.2h.9M331.3 627.5h.9M335.9 649.1h.9M332.9 637.8h.9M335.8 653.8h.9M337.5 642.3h.9M337.5 637.4h.9M337.7 648.0h.9M332.6 642.6h.9M332.4 644.4h.9M331.0 653.9h.9M332.2 654.4h.9M331.0 630.5h.9M337.1 656.6h.9M330.3 623.7h.9M331.7 626.7h.9M337.2 623.6h.9M337.0 630.4h.9M338.9 656.6h.9M333.4 652.8h.9M330.3 651.8h.9M337.3 678.6h.9M332.5 671.9h.9M337.0 690.5h.9M330.1 641.3h.9M330.2 661.8h.9M335.4 646.0h.9M336.2 674.4h.9M335.1 703.0h.9M334.8 643.8h.9M335.4 667.6h.9M331.1 666.9h.9M330.5 668.2h.9M333.1 658.4h.9M334.9 660.3h.9M332.2 695.4h.9M331.5 651.1h.9M334.0 677.9h.9M333.7 676.8h.9M332.4 640.5h.9M338.4 653.9h.9M338.6 674.7h.9M330.3 699.8h.9M334.3 666.4h.9M332.1 660.2h.9M333.0 670.4h.9M330.2 689.7h.9M330.6 682.2h.9M330.2 689.9h.9M331.1 665.5h.9M335.9 655.5h.9M330.6 652.1h.9M338.1 681.2h.9M337.3 665.2h.9M332.4 659.9h.9M336.3 677.6h.9M338.7 671.6h.9M331.0 634.0h.9M335.1 665.7h.9M334.2 654.5h.9M332.8 676.3h.9M332.5 668.4h.9M330.7 697.5h.9M335.9 669.5h.9M331.7 649.4h.9M333.8 634.4h.9M338.4 649.3h.9M333.1 657.7h.9M332.8 668.2h.9M338.5 679.0h.9M335.3 671.8h.9M335.1 659.0h.9M331.9 682.1h.9M335.8 653.7h.9M333.4 685.4h.9M334.9 698.5h.9M333.6 685.8h.9M330.6 696.7h.9M338.0 691.8h.9M336.3 650.4h.9M338.7 672.4h.9M332.7 665.5h.9M332.5 649.9h.9M331.1 648.3h.9M332.7 677.4h.9M332.9 647.1h.9M331.6 662.7h.9M332.3 669.0h.9M332.6 661.8h.9M337.8 692.7h.9M334.0 682.1h.9M337.4 670.9h.9M330.4 659.0h.9M331.6 675.3h.9M338.7 671.2h.9M330.4 653.1h.9M330.5 645.7h.9M334.7 656.4h.9M332.6 648.1h.9M331.7 675.8h.9M335.5 674.2h.9M335.5 663.8h.9M331.6 674.1h.9M334.9 677.5h.9M334.1 641.8h.9M337.7 672.4h.9M330.5 685.1h.9M332.0 661.0h.9M335.1 638.7h.9M330.2 667.8h.9M337.7 648.7h.9M338.8 676.3h.9M332.9 677.2h.9M337.0 680.5h.9M332.2 671.5h.9M338.6 638.7h.9M331.8 688.2h.9M330.0 642.0h.9M330.5 685.8h.9M334.1 673.0h.9M330.3 655.3h.9M338.9 658.7h.9M335.7 664.4h.9M335.1 696.4h.9M335.7 663.1h.9M333.7 686.0h.9M338.0 626.6h.9M336.5 672.6h.9M333.9 666.0h.9M332.5 688.1h.9M331.2 677.0h.9M332.8 690.5h.9M333.1 652.9h.9M330.6 673.4h.9M338.4 659.8h.9M332.3 680.4h.9M334.9 677.4h.9M330.5 647.8h.9M335.0 685.2h.9M335.8 698.9h.9M330.6 662.4h.9M338.9 688.0h.9M331.4 676.4h.9M332.3 654.0h.9M336.7 682.6h.9M333.0 654.6h.9M338.0 680.4h.9M332.1 644.4h.9M332.8 647.2h.9M336.3 676.9h.9M337.8 672.6h.9M338.0 682.9h.9M332.6 665.8h.9M334.8 650.1h.9M333.7 693.0h.9M336.1 653.9h.9M332.0 691.0h.9M337.6 683.3h.9M336.5 698.7h.9M331.5 634.3h.9M332.8 668.1h.9M333.0 665.1h.9M338.5 680.3h.9M334.1 651.4h.9M335.6 703.9h.9M338.5 668.7h.9M333.5 632.6h.9M338.6 675.4h.9M332.6 668.8h.9M330.0 658.0h.9M330.8 682.5h.9M336.3 668.7h.9M333.4 653.2h.9M337.6 665.9h.9M334.8 663.0h.9M336.2 674.9h.9M333.1 663.9h.9M335.3 668.2h.9M336.3 645.0h.9M333.4 657.1h.9M334.4 673.1h.9M337.7 709.6h.9M338.4 657.3h.9M333.1 656.6h.9M330.5 684.3h.9M337.6 702.2h.9M334.0 688.0h.9M338.8 653.8h.9M336.9 686.7h.9M333.3 676.7h.9M337.7 665.5h.9M334.9 648.8h.9M336.5 669.4h.9M338.0 670.8h.9M335.2 678.2h.9M338.6 642.1h.9M333.6 651.5h.9M333.4 670.7h.9M335.8 692.2h.9M333.6 682.2h.9M336.4 659.5h.9M334.8 681.0h.9M336.7 654.3h.9M337.5 663.1h.9M335.1 664.3h.9M338.3 658.3h.9M337.1 660.9h.9M337.8 683.2h.9M330.1 674.5h.9M330.0 630.4h.9M335.7 689.1h.9M333.0 677.0h.9M337.9 651.5h.9M333.5 671.7h.9M336.7 682.5h.9M332.2 691.0h.9M335.7 660.2h.9M338.2 652.2h.9M337.8 645.9h.9M333.3 668.2h.9M334.3 651.8h.9M334.8 686.2h.9M333.1 666.3h.9M334.4 680.3h.9M338.8 666.2h.9M338.0 656.7h.9M332.8 651.4h.9M336.2 685.5h.9M338.6 648.1h.9M333.2 676.9h.9M337.7 686.1h.9M337.2 671.9h.9M338.1 693.3h.9M330.7 669.0h.9M338.4 664.3h.9M338.9 672.4h.9M332.1 660.2h.9M335.7 674.3h.9M330.7 669.0h.9M335.4 692.9h.9M336.4 668.4h.9M336.8 683.2h.9M337.8 676.5h.9M332.6 670.6h.9M331.0 665.9h.9M337.4 696.3h.9M330.1 695.0h.9M332.0 674.1h.9M332.1 661.3h.9M337.0 663.1h.9M334.0 654.3h.9M337.6 647.6h.9M336.0 660.9h.9M337.7 669.4h.9M337.1 686.2h.9M338.0 684.8h.9M332.4 676.8h.9M333.2 664.7h.9M335.7 665.4h.9M335.3 669.0h.9M337.1 671.6h.9M337.3 658.7h.9M332.7 665.7h.9M331.0 664.2h.9M336.7 664.0h.9M336.2 678.1h.9M332.4 686.2h.9M330.4 661.0h.9M330.1 662.2h.9M332.2 672.7h.9M332.4 676.0h.9M331.8 631.4h.9M330.4 681.7h.9M331.5 672.7h.9M333.1 664.7h.9M330.7 688.2h.9M331.8 667.2h.9M333.9 639.4h.9M337.7 653.6h.9M337.9 658.6h.9M333.6 659.3h.9M331.1 667.2h.9M332.4 653.2h.9M336.1 671.7h.9M333.6 676.1h.9M335.1 667.4h.9M336.7 654.1h.9M336.0 663.6h.9M337.8 657.9h.9M330.7 702.6h.9M332.6 649.4h.9M330.2 630.4h.9M334.7 647.0h.9M335.6 674.4h.9M332.2 683.1h.9M330.4 664.5h.9M334.2 685.4h.9M331.4 657.1h.9M331.7 677.8h.9M333.4 653.2h.9M338.6 646.6h.9M333.2 702.7h.9M336.4 664.3h.9M333.3 680.7h.9M333.6 692.4h.9M331.2 679.3h.9M331.6 672.7h.9M337.0 652.0h.9M333.8 694.3h.9M332.5 651.7h.9M339.0 635.7h.9M338.0 659.2h.9M332.3 660.1h.9M333.9 669.3h.9M335.1 688.5h.9M331.4 660.3h.9M333.8 662.7h.9M332.5 657.0h.9M337.4 626.6h.9M330.8 657.1h.9M339.0 662.1h.9M332.1 643.3h.9M332.9 691.4h.9M330.6 688.0h.9M338.3 675.3h.9M337.5 679.9h.9M330.5 657.6h.9M334.8 674.4h.9M333.5 640.3h.9M335.5 643.9h.9M333.0 656.4h.9M338.7 675.5h.9M331.9 658.9h.9M337.4 655.7h.9M332.4 686.7h.9M335.9 663.3h.9M333.8 657.4h.9M334.7 665.5h.9M334.7 643.1h.9M335.7 649.0h.9M330.5 682.8h.9M330.4 667.0h.9M338.8 682.9h.9M332.2 659.5h.9M333.2 683.4h.9M332.1 653.8h.9M335.8 662.7h.9M339.0 653.0h.9M333.6 671.5h.9M332.9 693.2h.9M333.1 639.9h.9M330.1 672.0h.9M330.7 646.3h.9M330.3 662.0h.9M332.9 657.9h.9M339.0 638.8h.9M331.2 663.5h.9M334.9 645.9h.9M331.8 693.7h.9M330.2 654.7h.9M337.6 673.1h.9M331.1 671.3h.9M331.1 669.0h.9M337.4 663.4h.9M332.1 641.7h.9M331.7 699.8h.9M338.6 668.4h.9M331.7 681.0h.9M337.6 649.8h.9M332.7 676.1h.9M335.1 661.5h.9M332.8 675.7h.9M333.0 658.0h.9M338.5 652.3h.9M338.3 675.7h.9M331.5 668.3h.9M336.6 692.6h.9M331.2 664.0h.9M332.7 654.9h.9M330.6 678.3h.9M335.9 650.6h.9M336.6 703.4h.9M336.8 699.7h.9M337.0 692.1h.9M333.5 677.1h.9M331.5 668.8h.9M329.9 670.4h.9M334.0 670.2h.9M338.5 657.1h.9M334.0 676.9h.9M335.6 690.0h.9M338.3 689.7h.9M337.8 634.1h.9M336.7 708.0h.9M335.3 672.0h.9M332.0 645.0h.9M336.8 661.1h.9M333.7 682.8h.9M336.4 669.1h.9M332.0 654.8h.9M338.6 649.1h.9M331.4 684.0h.9M337.2 656.5h.9M338.1 664.9h.9M331.3 650.8h.9M337.9 646.1h.9M335.8 674.8h.9M335.5 693.1h.9M332.2 662.6h.9M332.9 639.7h.9M332.1 657.8h.9M334.0 665.3h.9M335.9 629.4h.9M336.6 686.3h.9M336.4 654.2h.9M333.1 678.5h.9M333.0 668.3h.9M336.9 667.6h.9M338.9 644.0h.9M331.9 684.6h.9M333.7 678.0h.9M332.4 695.5h.9M338.9 661.0h.9M330.1 676.7h.9M338.1 662.1h.9M337.0 686.9h.9M333.0 675.0h.9M336.2 651.9h.9M333.3 672.0h.9M335.8 658.7h.9M333.8 660.4h.9M338.3 674.9h.9M334.1 694.9h.9M337.4 652.8h.9M335.2 666.3h.9M333.3 652.8h.9M338.8 702.4h.9M331.7 696.5h.9M338.3 704.6h.9M338.9 683.6h.9M337.7 651.9h.9M335.5 659.7h.9M335.6 669.7h.9M338.4 666.9h.9M333.9 656.5h.9M337.5 674.1h.9M337.0 662.5h.9M337.8 666.8h.9M334.0 705.3h.9M335.9 675.5h.9M330.7 646.6h.9M330.6 675.6h.9M330.9 671.5h.9M336.7 614.5h.9M333.2 619.5h.9M338.3 721.2h.9M330.6 728.6h.9M331.5 743.5h.9" stroke="#000" stroke-width="1.15" fill="none"/>
<rect x="357.00" y="615.78" width="30.40" height="16.12" fill="#828282" stroke="#444" stroke-width="0.8"/>
<line x1="357.00" y1="623.22" x2="387.40" y2="623.22" stroke="#111" stroke-width="1.5"/>
<line x1="364.60" y1="593.46" x2="379.80" y2="593.46" stroke="#333" stroke-width="0.8"/>
<line x1="364.60" y1="652.98" x2="379.80" y2="652.98" stroke="#333" stroke-width="0.8"/>
<line x1="357.50" y1="768.30" x2="386.90" y2="768.30" stroke="#111" stroke-width="1.8"/>
<path d="M375.7 638.4h.9M371.9 651.2h.9M373.8 652.9h.9M375.9 633.4h.9M373.3 645.5h.9M369.1 636.2h.9M370.5 644.0h.9M376.1 651.0h.9M368.0 643.0h.9M369.6 649.4h.9M373.3 651.3h.9M375.5 652.6h.9M375.1 644.5h.9M374.3 610.0h.9M374.1 608.3h.9M371.0 594.3h.9M368.2 597.3h.9M373.4 600.0h.9M368.3 610.3h.9M374.9 599.0h.9M368.8 600.2h.9M367.8 604.0h.9M376.8 610.4h.9M369.1 611.1h.9M373.0 606.4h.9M368.2 609.6h.9M376.6 625.4h.9M367.8 617.3h.9M373.9 618.0h.9M375.4 609.2h.9M370.3 628.5h.9M367.7 626.5h.9M367.9 626.7h.9M368.2 601.2h.9M374.5 612.4h.9M372.5 634.8h.9M375.8 627.7h.9M373.4 632.2h.9M373.1 623.6h.9M369.5 621.1h.9M369.7 596.2h.9M376.6 645.6h.9M376.4 611.4h.9M371.6 618.5h.9M374.9 632.1h.9M374.2 625.5h.9M370.2 629.6h.9M369.4 623.1h.9M374.5 611.6h.9M376.5 641.9h.9M376.6 607.9h.9M370.9 628.2h.9M368.2 605.7h.9M370.5 618.7h.9M368.2 608.9h.9M376.7 616.9h.9M370.4 610.7h.9M375.4 623.0h.9M369.9 633.6h.9M376.4 615.6h.9M372.1 615.1h.9M375.3 598.5h.9M373.1 647.7h.9M374.6 626.0h.9M368.3 610.9h.9M368.4 638.7h.9M370.9 626.4h.9M375.7 598.3h.9M376.0 606.7h.9M374.1 634.2h.9M373.1 606.5h.9M368.1 609.4h.9M376.1 614.3h.9M373.7 619.0h.9M373.3 620.8h.9M375.3 634.0h.9M369.8 629.8h.9M373.3 614.8h.9M373.9 621.9h.9M374.6 601.4h.9M368.5 627.6h.9M374.3 652.3h.9M375.9 627.6h.9M373.4 620.3h.9M369.2 619.0h.9M376.1 622.8h.9M368.5 633.4h.9M369.7 605.7h.9M375.5 631.5h.9M373.0 615.0h.9M370.7 627.0h.9M375.0 637.9h.9M373.6 606.6h.9M368.7 653.0h.9M369.7 633.7h.9M375.1 618.4h.9M375.1 627.8h.9M368.3 614.6h.9M372.4 624.7h.9M374.2 628.9h.9M370.6 597.7h.9M368.2 626.1h.9M371.4 625.4h.9M376.2 636.5h.9M374.3 632.4h.9M369.6 615.7h.9M375.4 616.7h.9M373.7 623.5h.9M370.3 631.9h.9M370.1 615.3h.9M369.2 643.8h.9M371.3 627.6h.9M370.9 626.5h.9M370.2 633.6h.9M375.6 621.6h.9M374.6 631.4h.9M372.1 633.0h.9M376.5 601.9h.9M373.8 614.6h.9M376.4 609.1h.9M375.2 622.8h.9M373.4 611.9h.9M374.0 614.1h.9M374.7 608.9h.9M374.6 595.1h.9M375.6 626.1h.9M370.7 620.3h.9M370.9 624.0h.9M369.9 653.0h.9M376.1 640.0h.9M375.9 623.1h.9M371.7 615.8h.9M371.3 630.2h.9M368.8 609.7h.9M376.6 608.0h.9M373.8 628.2h.9M376.5 606.3h.9M373.4 602.4h.9M372.3 617.7h.9M374.5 635.0h.9M375.8 605.7h.9M375.4 625.2h.9M370.8 627.8h.9M372.3 621.9h.9M376.3 629.7h.9M372.3 610.4h.9M375.0 614.0h.9M372.4 608.7h.9M375.3 616.3h.9M368.2 632.7h.9M367.6 625.1h.9M368.4 612.8h.9M371.6 628.1h.9M371.0 593.5h.9M376.4 626.1h.9M376.8 630.2h.9M368.8 609.5h.9M375.3 614.3h.9M372.3 623.6h.9M375.3 626.0h.9M371.0 618.1h.9M374.7 613.2h.9M367.6 614.1h.9M371.9 626.8h.9M370.7 618.1h.9M369.9 613.1h.9M370.4 614.1h.9M371.5 653.0h.9M372.2 633.9h.9M372.4 632.5h.9M374.4 626.0h.9M375.2 621.1h.9M376.4 612.2h.9M373.8 615.8h.9M370.0 624.7h.9M372.9 622.9h.9M371.6 602.2h.9M369.8 630.5h.9M370.7 619.6h.9M369.7 604.5h.9M372.6 619.1h.9M368.2 647.6h.9M372.6 618.7h.9M371.4 627.8h.9M367.7 624.6h.9M370.1 610.7h.9M376.5 617.6h.9M372.9 626.4h.9M368.2 612.6h.9M372.9 618.0h.9M374.1 622.0h.9M368.8 619.6h.9M371.3 620.2h.9M369.6 627.3h.9M372.6 628.7h.9M375.2 622.9h.9M369.8 634.6h.9M368.9 638.3h.9M368.9 607.7h.9M373.3 626.1h.9M368.2 623.5h.9M372.4 624.8h.9M375.1 622.9h.9M374.7 622.9h.9M373.8 622.4h.9M367.7 632.8h.9M371.6 612.1h.9M369.8 631.5h.9M372.3 610.9h.9M369.0 646.1h.9M368.8 635.9h.9M376.4 611.4h.9M375.7 625.0h.9M368.5 631.2h.9M375.2 618.7h.9M368.2 635.7h.9M370.7 622.3h.9M376.7 649.7h.9M376.3 628.6h.9M371.9 631.0h.9M374.1 616.8h.9M371.1 612.8h.9M375.4 633.4h.9M370.5 604.0h.9M369.5 630.3h.9M368.9 647.8h.9M373.4 651.7h.9M372.7 604.8h.9M375.9 624.3h.9M369.0 631.0h.9M375.0 632.2h.9M376.3 636.3h.9M374.5 607.1h.9M368.7 624.2h.9M369.0 601.8h.9M368.4 625.6h.9M370.7 651.3h.9M374.6 613.1h.9M368.9 627.6h.9M371.7 626.1h.9M368.0 604.5h.9M373.8 626.4h.9M368.5 609.3h.9M374.9 623.3h.9M373.2 632.2h.9M369.4 617.2h.9M374.0 630.4h.9M370.8 608.5h.9M372.4 611.7h.9M372.7 622.5h.9M370.1 615.9h.9M371.4 616.5h.9M374.8 626.5h.9M375.6 612.5h.9M375.4 625.9h.9M372.8 615.9h.9M375.6 634.6h.9M368.9 622.0h.9M376.7 618.2h.9M368.0 632.6h.9M375.9 628.2h.9M374.9 629.6h.9M371.2 614.5h.9M374.9 631.8h.9M376.4 617.9h.9M369.1 605.0h.9M373.6 618.9h.9M367.6 642.4h.9M373.7 621.7h.9M368.2 610.7h.9M373.7 626.6h.9M367.8 609.9h.9M371.3 615.8h.9M375.6 618.1h.9M370.4 626.3h.9M376.5 629.2h.9M371.9 626.2h.9M369.3 622.4h.9M376.2 616.9h.9M369.0 618.1h.9M373.1 626.7h.9M376.3 622.3h.9M376.3 618.5h.9M372.7 642.5h.9M369.6 632.3h.9M372.2 632.6h.9M370.3 625.5h.9M370.5 626.4h.9M370.5 626.2h.9M369.5 633.5h.9M368.0 615.0h.9M374.5 619.7h.9M367.7 642.7h.9M372.9 622.9h.9M371.0 636.5h.9M373.6 602.7h.9M372.9 628.5h.9M372.0 627.7h.9M374.8 622.0h.9M372.9 625.4h.9M375.9 623.7h.9M373.0 604.5h.9M375.7 620.3h.9M375.5 613.0h.9M374.1 609.6h.9M370.6 634.7h.9M372.1 602.8h.9M368.3 614.8h.9M374.3 611.6h.9M373.5 633.3h.9M375.1 613.2h.9M368.4 618.1h.9M368.8 629.4h.9M373.5 595.7h.9M374.3 616.2h.9M368.3 625.9h.9M367.9 620.7h.9M370.6 612.1h.9M370.7 609.5h.9M368.1 616.0h.9M368.5 608.4h.9M369.5 605.4h.9M367.7 637.7h.9M369.0 628.8h.9M367.8 634.2h.9M371.0 621.8h.9M374.5 605.7h.9M373.7 615.2h.9M373.2 635.5h.9M371.9 626.5h.9M369.3 582.3h.9M368.0 587.3h.9M369.3 661.7h.9M376.3 669.1h.9M375.1 691.4h.9" stroke="#000" stroke-width="1.15" fill="none"/>
<rect x="433.10" y="669.10" width="30.70" height="29.76" fill="#f86161" stroke="#444" stroke-width="0.8"/>
<line x1="433.10" y1="685.22" x2="463.80" y2="685.22" stroke="#111" stroke-width="1.5"/>
<line x1="440.77" y1="625.70" x2="456.12" y2="625.70" stroke="#333" stroke-width="0.8"/>
<line x1="440.77" y1="742.26" x2="456.12" y2="742.26" stroke="#333" stroke-width="0.8"/>
<path d="M449.8 702.7h.9M450.9 735.2h.9M452.4 704.9h.9M447.5 716.8h.9M450.8 703.0h.9M446.6 701.2h.9M448.3 723.7h.9M451.9 701.4h.9M452.8 734.4h.9M452.6 723.0h.9M450.8 723.0h.9M451.7 731.6h.9M452.0 721.3h.9M449.5 709.6h.9M446.1 737.6h.9M444.0 721.4h.9M450.9 719.5h.9M450.8 733.7h.9M450.6 641.2h.9M449.2 658.1h.9M449.9 644.3h.9M450.5 644.3h.9M448.7 636.6h.9M449.9 628.5h.9M445.9 628.9h.9M448.8 647.3h.9M449.6 657.7h.9M449.1 658.6h.9M446.2 635.0h.9M445.0 636.1h.9M449.9 634.6h.9M444.9 632.9h.9M451.2 644.6h.9M445.5 630.1h.9M451.0 640.6h.9M447.1 641.7h.9M452.1 632.8h.9M445.9 693.7h.9M445.3 698.3h.9M450.1 678.4h.9M451.0 727.8h.9M447.1 669.3h.9M448.2 668.8h.9M449.9 688.9h.9M446.6 715.7h.9M447.4 685.1h.9M449.1 697.1h.9M446.6 672.7h.9M445.2 687.1h.9M452.2 669.2h.9M445.0 694.8h.9M452.9 653.4h.9M451.6 736.1h.9M448.0 707.6h.9M451.8 674.4h.9M444.4 718.6h.9M449.0 669.0h.9M447.1 712.1h.9M446.6 683.2h.9M452.1 705.4h.9M444.2 695.0h.9M451.8 681.4h.9M444.6 687.5h.9M450.1 693.6h.9M446.5 637.7h.9M448.7 685.0h.9M452.4 706.6h.9M451.2 664.8h.9M444.8 667.1h.9M446.7 658.2h.9M448.3 645.8h.9M450.4 705.9h.9M443.9 661.8h.9M451.8 660.1h.9M451.6 685.2h.9M452.6 679.8h.9M445.7 742.3h.9M445.8 697.9h.9M451.5 645.8h.9M448.6 724.6h.9M446.1 697.0h.9M444.0 678.9h.9M445.8 672.5h.9M450.1 649.2h.9M450.6 724.1h.9M447.1 684.3h.9M452.3 666.3h.9M448.5 714.2h.9M448.6 686.1h.9M447.5 643.6h.9M447.6 656.2h.9M447.2 673.3h.9M451.4 742.3h.9M447.9 688.1h.9M446.0 676.7h.9M447.9 692.0h.9M452.4 686.7h.9M449.7 625.7h.9M444.8 690.0h.9M447.7 706.6h.9M448.1 679.9h.9M444.0 692.2h.9M452.7 692.1h.9M452.3 687.1h.9M444.8 668.1h.9M448.9 680.0h.9M446.7 711.7h.9M445.8 688.1h.9M446.4 674.8h.9M444.3 695.5h.9M450.2 659.9h.9M447.2 668.1h.9M450.3 707.1h.9M451.4 678.2h.9M449.1 641.5h.9M447.0 650.8h.9M445.1 686.5h.9M449.8 665.4h.9M450.1 700.1h.9M451.0 717.2h.9M445.1 673.0h.9M444.3 679.8h.9M451.9 673.9h.9M449.4 685.8h.9M444.7 678.0h.9M450.4 696.5h.9M444.4 674.8h.9M449.7 666.8h.9M449.0 686.5h.9M450.4 667.3h.9M444.7 724.3h.9M452.2 702.6h.9M452.5 653.4h.9M452.9 646.4h.9M450.9 679.7h.9M446.7 687.5h.9M452.9 713.2h.9M449.5 677.2h.9M450.5 668.0h.9M449.9 717.9h.9M445.8 672.9h.9M451.7 674.4h.9M449.8 675.5h.9M445.9 710.1h.9M447.3 673.3h.9M445.2 718.3h.9M447.8 652.4h.9M453.0 682.2h.9M447.4 710.9h.9M447.5 655.5h.9M451.2 659.8h.9M444.6 699.6h.9M445.0 636.6h.9M450.7 707.4h.9M445.0 678.3h.9M449.5 659.1h.9M451.4 735.3h.9M449.0 663.1h.9M444.6 686.6h.9M445.7 685.6h.9M448.8 709.0h.9M452.6 677.9h.9M449.9 709.7h.9M450.3 706.6h.9M449.3 695.1h.9M446.8 712.3h.9M449.4 650.5h.9M443.9 714.5h.9M447.7 701.9h.9M451.3 692.2h.9M445.7 685.1h.9M449.8 667.7h.9M450.5 667.2h.9M445.3 691.9h.9M451.7 693.7h.9M446.1 684.4h.9M452.7 667.1h.9M447.0 669.8h.9M449.5 696.6h.9M452.6 730.6h.9M451.4 637.9h.9M448.3 664.2h.9M445.6 679.4h.9M449.5 677.7h.9M449.3 696.7h.9M444.4 707.3h.9M447.4 692.6h.9M452.3 690.1h.9M448.7 699.0h.9M445.5 717.4h.9M449.8 692.1h.9M448.0 672.5h.9M452.3 696.1h.9M448.4 684.7h.9M444.1 730.9h.9M445.3 689.8h.9M445.5 687.9h.9M452.6 712.3h.9M447.2 723.4h.9M447.1 676.1h.9M452.8 703.1h.9M445.7 674.4h.9M449.6 694.5h.9M452.6 671.5h.9M452.2 692.7h.9M445.3 718.5h.9M448.2 687.1h.9M446.2 692.5h.9M450.3 670.7h.9M446.1 695.2h.9M445.5 693.9h.9M446.4 666.3h.9M445.1 659.5h.9M450.4 668.5h.9M446.4 662.3h.9M447.5 675.2h.9M446.4 668.2h.9M447.3 665.8h.9M446.7 676.3h.9M447.1 683.8h.9M450.4 682.1h.9M445.4 632.2h.9M450.2 684.9h.9M447.0 690.4h.9M444.7 693.3h.9M445.0 686.0h.9M452.1 679.8h.9M444.2 710.2h.9M446.4 728.9h.9M451.8 678.7h.9M444.6 720.7h.9M445.8 679.5h.9M446.3 682.1h.9M451.5 659.8h.9M444.9 648.4h.9M452.5 677.1h.9M445.0 697.4h.9M449.1 711.1h.9M451.0 702.7h.9M449.0 684.3h.9M448.5 730.9h.9M447.9 683.6h.9M446.2 685.5h.9M453.0 671.0h.9M447.6 692.6h.9M449.7 683.0h.9M449.2 701.5h.9M452.7 695.5h.9M446.1 724.3h.9M445.3 682.5h.9M452.1 651.1h.9M448.5 681.6h.9M449.7 677.1h.9M449.6 706.9h.9M451.0 653.6h.9M451.6 702.1h.9M450.3 667.5h.9M443.9 682.9h.9M451.6 706.4h.9M444.2 662.6h.9M451.7 684.9h.9M443.9 681.3h.9M451.0 675.2h.9M449.7 685.7h.9M444.1 693.6h.9M450.8 674.9h.9M449.2 694.1h.9M445.0 683.8h.9M451.9 699.9h.9M449.3 718.1h.9M448.1 700.1h.9M452.5 696.1h.9M445.7 684.9h.9M445.5 659.1h.9M452.1 722.5h.9M445.3 682.4h.9M451.4 734.0h.9M445.8 708.3h.9M451.3 696.4h.9M447.6 734.9h.9M449.5 726.2h.9M449.4 681.8h.9M447.5 683.5h.9M448.6 687.7h.9M449.8 703.0h.9M445.1 637.7h.9M452.3 688.8h.9M451.4 704.2h.9M445.8 648.2h.9M445.9 671.7h.9M447.5 693.4h.9M450.9 658.9h.9M448.6 681.8h.9M446.7 671.0h.9M450.9 680.0h.9M445.6 707.9h.9M450.4 663.8h.9M450.8 681.7h.9M444.8 707.5h.9M449.1 702.1h.9M449.3 664.1h.9M452.8 693.4h.9M446.6 684.2h.9M448.1 670.8h.9M452.5 682.4h.9M445.1 718.9h.9M452.1 671.2h.9M447.2 664.5h.9M447.0 666.1h.9M453.0 649.6h.9M447.4 677.2h.9M446.1 668.1h.9M445.8 650.2h.9M450.2 691.6h.9M449.7 646.9h.9M446.0 647.0h.9M448.4 667.9h.9M446.5 644.6h.9M451.6 666.4h.9M447.1 704.6h.9M449.5 660.1h.9M452.3 678.0h.9M446.0 676.1h.9M452.6 681.8h.9M448.3 655.2h.9M449.7 673.0h.9M446.4 700.6h.9M450.2 674.5h.9M450.5 669.1h.9M449.3 701.2h.9M451.8 694.8h.9M448.2 693.7h.9M444.0 698.6h.9M452.3 677.5h.9M449.1 662.8h.9M449.5 643.5h.9M449.4 658.9h.9M444.2 662.7h.9M446.5 660.0h.9M444.7 655.8h.9M449.8 693.5h.9M451.7 669.9h.9M449.9 678.1h.9M451.3 688.1h.9M446.9 695.3h.9M444.1 696.4h.9M447.6 691.1h.9M445.4 712.5h.9M446.7 673.7h.9M446.0 685.7h.9M445.5 682.9h.9M450.2 677.7h.9M449.3 669.2h.9M451.4 698.3h.9M452.9 687.6h.9M446.0 720.7h.9M452.5 734.2h.9M450.9 728.0h.9M449.0 651.3h.9M452.8 725.5h.9M448.6 674.8h.9M444.1 652.6h.9M445.0 695.3h.9M446.7 649.3h.9M450.3 644.5h.9M449.1 664.4h.9M450.1 632.9h.9M444.0 671.5h.9M446.1 701.3h.9M449.0 673.7h.9M449.9 694.9h.9M447.8 713.9h.9M445.9 713.3h.9M446.7 634.1h.9M450.9 697.0h.9M450.5 685.6h.9M446.1 699.7h.9M452.6 682.0h.9M444.3 690.3h.9M446.0 694.1h.9M447.9 711.7h.9M451.3 716.2h.9M449.1 701.4h.9M450.1 678.5h.9M452.6 639.1h.9M447.2 661.7h.9M445.5 644.7h.9M447.6 674.2h.9M449.0 686.8h.9M445.1 714.1h.9M444.2 684.8h.9M450.5 732.2h.9M452.9 691.5h.9M452.4 648.9h.9M447.3 677.6h.9M448.0 659.9h.9M451.5 693.2h.9M452.9 715.2h.9M447.1 695.3h.9M452.6 693.5h.9M450.3 658.2h.9M445.2 641.2h.9M448.0 701.1h.9M443.9 692.7h.9M447.6 687.9h.9M448.7 692.4h.9M451.2 712.1h.9M446.9 682.6h.9M449.8 676.7h.9M450.0 676.2h.9M448.7 711.3h.9M449.5 687.2h.9M448.1 723.0h.9M449.5 664.5h.9M448.1 707.1h.9M452.2 690.7h.9M444.9 694.5h.9M451.8 697.5h.9M450.7 708.0h.9M444.0 723.6h.9M450.5 646.4h.9M447.2 678.9h.9M448.5 678.7h.9M448.6 638.3h.9M450.6 686.8h.9M448.3 672.4h.9M449.7 684.1h.9M445.9 658.4h.9M444.5 673.5h.9M450.0 677.6h.9M452.9 690.2h.9M444.6 678.4h.9M452.2 658.9h.9M447.4 730.3h.9M449.9 687.4h.9M446.3 693.7h.9M450.2 691.1h.9M447.9 728.1h.9M451.2 668.4h.9M446.4 703.2h.9M446.9 689.5h.9M449.6 695.6h.9M444.8 721.3h.9M452.8 694.3h.9M449.4 725.1h.9M452.8 705.3h.9M445.5 691.5h.9M450.4 684.6h.9M445.7 683.3h.9M444.6 687.5h.9M447.9 637.3h.9M448.2 674.9h.9M449.0 711.4h.9M448.1 698.0h.9M445.6 699.0h.9M450.1 688.4h.9M446.3 697.8h.9M446.5 703.4h.9M451.0 648.1h.9M450.1 683.5h.9M450.5 691.9h.9M452.3 690.1h.9M451.7 689.3h.9M445.9 653.8h.9M452.8 673.9h.9M448.6 659.7h.9M449.0 742.3h.9M446.4 677.3h.9M447.4 661.1h.9M449.0 640.9h.9M444.2 614.5h.9M450.5 746.0h.9" stroke="#000" stroke-width="1.15" fill="none"/>
<rect x="471.00" y="615.78" width="30.30" height="16.12" fill="#828282" stroke="#444" stroke-width="0.8"/>
<line x1="471.00" y1="623.22" x2="501.30" y2="623.22" stroke="#111" stroke-width="1.5"/>
<line x1="478.57" y1="593.46" x2="493.72" y2="593.46" stroke="#333" stroke-width="0.8"/>
<line x1="478.57" y1="654.22" x2="493.72" y2="654.22" stroke="#333" stroke-width="0.8"/>
<path d="M484.4 650.9h.9M486.4 652.4h.9M485.2 639.9h.9M482.0 642.3h.9M482.9 648.7h.9M481.7 650.5h.9M481.9 646.4h.9M484.3 647.8h.9M487.4 646.3h.9M483.0 646.4h.9M489.7 637.4h.9M490.6 643.9h.9M487.2 635.3h.9M482.0 604.6h.9M483.2 609.3h.9M486.3 595.2h.9M490.2 601.2h.9M490.6 597.0h.9M488.3 610.6h.9M489.7 594.1h.9M482.4 601.6h.9M486.2 607.4h.9M486.0 610.2h.9M483.5 613.6h.9M486.7 615.0h.9M486.7 611.4h.9M490.5 612.4h.9M482.2 622.8h.9M484.3 631.5h.9M483.1 629.1h.9M483.6 636.1h.9M484.5 635.1h.9M484.9 630.5h.9M490.4 629.6h.9M484.6 610.6h.9M486.0 638.4h.9M483.1 624.4h.9M483.6 630.8h.9M483.5 606.1h.9M486.8 620.7h.9M484.3 628.3h.9M484.1 614.1h.9M486.4 623.0h.9M481.7 629.5h.9M489.5 605.6h.9M482.0 615.4h.9M485.3 603.3h.9M490.6 610.1h.9M483.1 614.6h.9M482.0 622.2h.9M486.0 636.7h.9M487.4 615.4h.9M485.1 622.9h.9M483.6 615.7h.9M487.9 623.9h.9M487.0 632.0h.9M484.7 635.7h.9M487.2 615.5h.9M489.3 608.4h.9M486.3 627.2h.9M485.1 618.4h.9M487.2 607.3h.9M486.2 633.7h.9M482.5 627.8h.9M489.9 637.0h.9M482.7 609.7h.9M488.4 620.6h.9M485.5 629.2h.9M488.8 643.4h.9M486.4 625.9h.9M489.1 611.9h.9M485.9 627.2h.9M483.8 628.8h.9M488.6 616.1h.9M489.2 638.3h.9M486.2 623.1h.9M490.1 616.6h.9M488.1 633.0h.9M490.1 633.5h.9M483.3 620.8h.9M490.2 624.9h.9M488.6 626.5h.9M490.2 621.2h.9M484.8 621.0h.9M486.7 634.7h.9M489.8 631.6h.9M487.7 618.4h.9M484.2 610.4h.9M484.2 607.6h.9M490.3 633.7h.9M487.7 610.7h.9M482.0 614.7h.9M483.9 624.0h.9M486.7 617.9h.9M483.3 613.8h.9M485.8 602.4h.9M487.7 636.2h.9M482.3 616.5h.9M483.9 625.3h.9M489.7 626.1h.9M481.9 610.0h.9M482.6 613.9h.9M489.1 635.7h.9M487.8 627.0h.9M485.9 620.9h.9M489.5 640.4h.9M483.5 613.4h.9M481.6 624.5h.9M489.0 621.7h.9M487.4 619.6h.9M484.6 602.2h.9M486.9 623.2h.9M482.3 627.8h.9M484.4 603.0h.9M486.8 629.5h.9M489.3 629.8h.9M484.5 640.0h.9M482.1 610.8h.9M482.4 620.4h.9M484.4 618.0h.9M487.3 621.6h.9M488.0 625.2h.9M487.9 632.9h.9M489.6 632.8h.9M487.8 618.5h.9M487.7 622.1h.9M487.0 604.3h.9M487.7 632.6h.9M488.3 629.3h.9M490.5 635.6h.9M483.2 607.3h.9M487.5 638.1h.9M482.7 614.4h.9M483.4 606.6h.9M490.1 625.2h.9M485.3 615.0h.9M486.8 648.7h.9M483.5 628.1h.9M486.2 643.2h.9M481.8 621.5h.9M486.9 623.4h.9M490.3 632.6h.9M487.9 612.4h.9M487.7 619.3h.9M486.7 629.7h.9M484.5 629.6h.9M488.7 640.9h.9M485.1 625.7h.9M484.6 598.5h.9M486.6 631.9h.9M490.5 618.6h.9M488.3 630.0h.9M487.8 614.0h.9M482.7 618.3h.9M489.0 626.3h.9M485.4 644.6h.9M487.3 629.6h.9M486.7 609.3h.9M488.8 626.4h.9M481.8 616.1h.9M482.4 629.2h.9M484.1 645.6h.9M483.4 618.5h.9M487.8 619.7h.9M482.6 630.3h.9M482.4 627.9h.9M486.4 620.1h.9M482.2 630.5h.9M488.9 619.4h.9M484.6 625.9h.9M484.3 651.4h.9M487.0 625.2h.9M490.5 630.6h.9M484.2 633.4h.9M483.6 618.8h.9M484.9 629.3h.9M488.7 617.1h.9M490.1 610.6h.9M483.0 621.8h.9M481.8 641.8h.9M484.4 632.1h.9M484.5 612.7h.9M488.4 626.5h.9M487.8 633.0h.9M488.4 624.6h.9M485.2 617.5h.9M485.5 620.4h.9M490.2 615.9h.9M482.0 633.2h.9M481.7 626.7h.9M481.7 626.5h.9M489.1 623.7h.9M486.3 648.2h.9M487.9 626.3h.9M487.6 639.3h.9M489.0 607.0h.9M486.4 605.1h.9M484.6 603.6h.9M482.6 613.9h.9M485.3 629.2h.9M483.3 612.1h.9M490.1 625.8h.9M488.6 616.2h.9M484.2 634.1h.9M486.3 630.4h.9M485.9 618.0h.9M487.1 602.5h.9M490.3 623.7h.9M484.1 596.8h.9M487.2 593.5h.9M486.2 638.6h.9M490.3 623.8h.9M483.6 634.7h.9M487.5 625.1h.9M482.4 629.7h.9M486.6 624.2h.9M490.4 612.0h.9M488.2 612.3h.9M481.8 620.3h.9M490.6 623.4h.9M486.5 622.0h.9M486.9 621.9h.9M490.2 616.6h.9M486.9 623.3h.9M483.6 617.5h.9M485.5 638.9h.9M488.4 614.0h.9M485.2 602.8h.9M483.1 621.2h.9M485.1 640.1h.9M482.5 607.4h.9M482.5 627.3h.9M482.7 654.2h.9M486.2 626.0h.9M484.5 616.2h.9M483.2 618.9h.9M488.3 608.7h.9M487.2 616.0h.9M489.1 621.9h.9M483.0 646.7h.9M487.3 636.5h.9M484.0 621.3h.9M486.1 615.4h.9M485.7 635.5h.9M486.9 630.6h.9M486.8 617.8h.9M490.0 646.0h.9M487.3 646.4h.9M484.8 626.1h.9M488.9 620.4h.9M483.0 629.0h.9M488.7 650.5h.9M486.9 623.1h.9M483.9 639.1h.9M488.5 615.6h.9M482.6 624.6h.9M481.9 620.2h.9M484.1 615.8h.9M486.2 629.6h.9M487.4 613.6h.9M484.4 608.7h.9M486.9 618.7h.9M490.6 607.6h.9M490.7 630.8h.9M488.2 612.5h.9M484.3 620.2h.9M485.9 635.0h.9M489.0 624.3h.9M489.7 629.6h.9M490.3 629.9h.9M485.1 622.3h.9M484.7 610.8h.9M484.6 627.1h.9M488.8 621.9h.9M490.4 640.7h.9M486.7 622.1h.9M485.6 609.7h.9M487.7 613.8h.9M485.4 617.7h.9M486.8 629.6h.9M483.3 634.9h.9M482.5 624.5h.9M485.3 639.2h.9M484.0 638.0h.9M482.9 612.2h.9M490.4 634.2h.9M488.0 602.1h.9M485.1 640.3h.9M490.7 618.3h.9M482.5 637.2h.9M484.8 621.3h.9M489.7 635.7h.9M490.5 622.9h.9M488.8 625.2h.9M483.3 628.7h.9M486.8 617.3h.9M482.2 605.5h.9M482.1 630.4h.9M489.5 612.9h.9M481.6 622.4h.9M482.4 623.7h.9M482.5 597.4h.9M488.1 649.0h.9M487.3 631.4h.9M483.5 644.8h.9M485.3 627.1h.9M490.3 626.1h.9M483.5 593.5h.9M482.2 619.3h.9M487.5 602.1h.9M482.5 608.0h.9M486.7 628.6h.9M483.9 617.7h.9M481.8 603.6h.9M487.6 621.3h.9M488.5 620.9h.9M484.4 617.4h.9M483.0 641.2h.9M490.5 633.0h.9M483.8 619.4h.9M483.8 616.9h.9M484.9 634.2h.9M483.8 627.2h.9M483.8 624.8h.9M490.1 625.2h.9M482.3 615.2h.9M489.2 622.1h.9M486.5 621.4h.9M481.9 640.1h.9M482.9 635.8h.9M487.6 582.3h.9M486.7 587.3h.9M483.8 661.7h.9M484.2 669.1h.9M490.1 691.4h.9M488.3 768.3h.9" stroke="#000" stroke-width="1.15" fill="none"/>
<path d="M333.7 608.0V572.9H348.8M356.0 572.9H372.4V580.0" stroke="#8c8c8c" stroke-width="1.2" fill="none"/>
<path d="M352.45 570.70L352.45 575.30M350.46 571.85L354.44 574.15M354.44 571.85L350.46 574.15" stroke="#f01010" stroke-width="0.95" fill="none"/>
<path d="M448.5 608.0V572.9H463.2M470.4 572.9H486.3V580.0" stroke="#8c8c8c" stroke-width="1.2" fill="none"/>
<path d="M466.80 570.70L466.80 575.30M464.81 571.85L468.79 574.15M468.79 571.85L464.81 574.15" stroke="#f01010" stroke-width="0.95" fill="none"/>
<line x1="353.40" y1="776.20" x2="353.40" y2="779.70" stroke="#555" stroke-width="0.8"/>
<text x="353.40" y="791.50" font-size="6.4" fill="#222" font-family='"Liberation Sans", sans-serif' text-anchor="middle" stroke="#222" stroke-width="0.22">LUAD</text>
<text x="353.40" y="800.30" font-size="6.4" fill="#222" font-family='"Liberation Sans", sans-serif' text-anchor="middle" textLength="84.0" lengthAdjust="spacingAndGlyphs" stroke="#222" stroke-width="0.22">(num(T)=483; num(N)=347)</text>
<line x1="467.40" y1="776.20" x2="467.40" y2="779.70" stroke="#555" stroke-width="0.8"/>
<text x="467.40" y="791.50" font-size="6.4" fill="#222" font-family='"Liberation Sans", sans-serif' text-anchor="middle" stroke="#222" stroke-width="0.22">LUSC</text>
<text x="467.40" y="800.30" font-size="6.4" fill="#222" font-family='"Liberation Sans", sans-serif' text-anchor="middle" textLength="84.0" lengthAdjust="spacingAndGlyphs" stroke="#222" stroke-width="0.22">(num(T)=486; num(N)=338)</text>
<text x="664.00" y="554.60" font-size="19.8" fill="#000" font-family='"Liberation Serif", serif' font-weight="bold" text-anchor="middle" textLength="82.0" lengthAdjust="spacingAndGlyphs">FERMT3</text>
<rect x="552.60" y="564.80" width="246.40" height="211.20" fill="none" stroke="#555" stroke-width="0.9"/>
<line x1="548.40" y1="768.00" x2="552.60" y2="768.00" stroke="#777" stroke-width="0.8"/>
<text transform="translate(542.60,768.00) rotate(-90)" font-size="6.8" font-family='"Liberation Sans", sans-serif' fill="#222" stroke="#222" stroke-width="0.2" text-anchor="middle">0</text>
<line x1="548.40" y1="720.80" x2="552.60" y2="720.80" stroke="#777" stroke-width="0.8"/>
<text transform="translate(542.60,720.80) rotate(-90)" font-size="6.8" font-family='"Liberation Sans", sans-serif' fill="#222" stroke="#222" stroke-width="0.2" text-anchor="middle">2</text>
<line x1="548.40" y1="673.60" x2="552.60" y2="673.60" stroke="#777" stroke-width="0.8"/>
<text transform="translate(542.60,673.60) rotate(-90)" font-size="6.8" font-family='"Liberation Sans", sans-serif' fill="#222" stroke="#222" stroke-width="0.2" text-anchor="middle">4</text>
<line x1="548.40" y1="626.40" x2="552.60" y2="626.40" stroke="#777" stroke-width="0.8"/>
<text transform="translate(542.60,626.40) rotate(-90)" font-size="6.8" font-family='"Liberation Sans", sans-serif' fill="#222" stroke="#222" stroke-width="0.2" text-anchor="middle">6</text>
<line x1="548.40" y1="579.20" x2="552.60" y2="579.20" stroke="#777" stroke-width="0.8"/>
<text transform="translate(542.60,579.20) rotate(-90)" font-size="6.8" font-family='"Liberation Sans", sans-serif' fill="#222" stroke="#222" stroke-width="0.2" text-anchor="middle">8</text>
<rect x="584.00" y="646.46" width="31.20" height="29.50" fill="#f86161" stroke="#444" stroke-width="0.8"/>
<line x1="584.00" y1="660.62" x2="615.20" y2="660.62" stroke="#111" stroke-width="1.5"/>
<line x1="591.80" y1="602.80" x2="607.40" y2="602.80" stroke="#333" stroke-width="0.8"/>
<line x1="591.80" y1="713.72" x2="607.40" y2="713.72" stroke="#333" stroke-width="0.8"/>
<line x1="584.50" y1="768.00" x2="614.70" y2="768.00" stroke="#111" stroke-width="1.8"/>
<path d="M597.4 704.4h.9M598.5 678.3h.9M598.5 690.7h.9M598.6 700.3h.9M595.1 711.4h.9M597.5 681.4h.9M597.7 709.6h.9M601.0 684.4h.9M601.4 693.8h.9M601.9 696.5h.9M600.9 710.7h.9M603.2 697.9h.9M600.1 713.1h.9M597.9 684.9h.9M595.4 687.0h.9M601.7 708.6h.9M600.2 694.5h.9M596.5 707.0h.9M599.7 615.4h.9M603.7 638.2h.9M600.6 638.9h.9M597.8 634.0h.9M602.4 604.0h.9M598.6 610.7h.9M595.1 628.9h.9M595.7 611.8h.9M603.8 630.7h.9M595.9 638.3h.9M602.2 607.3h.9M595.3 644.9h.9M598.9 611.8h.9M597.6 604.6h.9M598.2 642.8h.9M595.8 608.9h.9M598.7 612.4h.9M602.0 644.6h.9M599.8 627.1h.9M596.2 646.7h.9M602.4 653.7h.9M603.0 689.3h.9M599.2 659.1h.9M598.3 645.7h.9M595.2 663.6h.9M595.6 644.4h.9M598.5 645.0h.9M596.0 693.1h.9M603.9 667.8h.9M600.9 650.8h.9M597.9 641.5h.9M600.4 630.9h.9M596.5 702.7h.9M603.4 662.7h.9M599.6 645.8h.9M601.4 634.9h.9M596.7 624.9h.9M599.4 681.5h.9M601.6 669.3h.9M598.6 684.0h.9M595.6 643.6h.9M599.3 689.9h.9M602.6 635.7h.9M599.3 641.1h.9M604.0 650.8h.9M600.1 708.2h.9M603.1 675.9h.9M595.3 645.1h.9M600.8 691.9h.9M599.7 666.5h.9M598.3 663.5h.9M603.3 642.1h.9M595.8 655.2h.9M599.5 655.4h.9M597.8 670.8h.9M603.8 661.2h.9M602.2 664.2h.9M596.8 645.6h.9M596.2 665.2h.9M595.2 639.0h.9M596.7 698.0h.9M603.5 635.4h.9M603.0 665.0h.9M602.4 636.9h.9M598.7 659.5h.9M599.4 642.8h.9M600.3 629.0h.9M602.5 673.3h.9M595.0 659.6h.9M596.7 665.0h.9M600.3 656.8h.9M596.3 696.3h.9M603.6 665.0h.9M595.4 666.7h.9M604.0 678.3h.9M597.0 665.5h.9M596.8 694.6h.9M598.9 631.1h.9M600.9 651.7h.9M604.0 620.6h.9M599.4 680.2h.9M603.3 686.5h.9M603.2 655.2h.9M604.1 697.4h.9M598.3 656.5h.9M599.4 676.5h.9M595.2 668.6h.9M598.5 655.9h.9M598.3 660.4h.9M596.1 621.1h.9M602.7 647.7h.9M597.6 689.3h.9M596.2 640.2h.9M596.1 690.3h.9M595.2 659.5h.9M601.9 688.3h.9M599.9 679.3h.9M599.8 633.0h.9M598.8 673.4h.9M603.9 675.3h.9M598.5 673.5h.9M599.4 668.2h.9M601.3 630.3h.9M603.5 686.9h.9M602.9 688.1h.9M603.1 648.9h.9M596.7 695.9h.9M603.7 669.3h.9M602.6 637.0h.9M598.0 661.4h.9M602.4 671.8h.9M603.8 676.8h.9M601.8 681.3h.9M601.8 674.3h.9M602.7 658.6h.9M603.1 634.6h.9M602.2 640.7h.9M595.7 673.8h.9M596.9 677.4h.9M596.1 646.5h.9M599.3 700.8h.9M595.6 671.1h.9M600.1 668.6h.9M603.5 685.6h.9M604.0 683.1h.9M595.3 654.1h.9M601.3 697.4h.9M596.3 681.4h.9M602.9 675.7h.9M595.3 660.0h.9M595.9 691.4h.9M598.0 638.3h.9M595.0 668.4h.9M601.1 667.4h.9M596.9 669.7h.9M601.6 676.4h.9M603.7 683.0h.9M599.3 637.1h.9M599.3 657.5h.9M604.2 664.3h.9M597.9 640.5h.9M603.1 677.3h.9M601.6 648.4h.9M595.1 661.5h.9M597.7 681.2h.9M601.6 645.6h.9M595.4 694.3h.9M602.9 648.0h.9M603.4 681.1h.9M602.0 653.3h.9M602.5 632.3h.9M600.5 649.9h.9M602.4 675.1h.9M599.3 662.8h.9M598.8 670.1h.9M601.5 687.5h.9M599.3 686.1h.9M597.9 661.3h.9M597.4 650.7h.9M599.0 700.3h.9M598.5 663.8h.9M601.9 651.4h.9M602.2 660.0h.9M602.3 683.9h.9M602.8 640.1h.9M598.3 688.5h.9M598.4 648.4h.9M602.7 628.0h.9M596.7 706.3h.9M601.5 656.9h.9M599.8 655.7h.9M601.1 657.6h.9M601.4 679.0h.9M601.2 669.2h.9M597.2 692.6h.9M595.2 659.7h.9M603.8 651.0h.9M603.3 676.9h.9M599.6 682.5h.9M601.1 672.7h.9M595.8 662.8h.9M599.2 661.3h.9M600.4 664.8h.9M601.4 661.1h.9M597.0 690.8h.9M595.9 713.7h.9M603.8 649.4h.9M602.8 632.1h.9M596.6 693.1h.9M602.6 677.0h.9M602.5 656.2h.9M596.7 642.2h.9M602.4 648.8h.9M598.5 635.3h.9M598.1 663.9h.9M596.5 653.8h.9M600.4 653.9h.9M600.6 672.0h.9M599.7 636.9h.9M595.9 649.4h.9M602.3 641.7h.9M597.9 671.1h.9M597.4 640.6h.9M600.9 685.3h.9M596.7 654.3h.9M603.4 713.7h.9M601.0 684.4h.9M602.3 647.0h.9M598.1 672.4h.9M598.9 659.1h.9M597.3 697.5h.9M597.3 629.6h.9M598.8 650.0h.9M602.2 663.3h.9M599.6 653.9h.9M602.7 655.8h.9M596.0 632.5h.9M597.7 658.2h.9M595.3 694.3h.9M603.4 668.3h.9M595.6 635.3h.9M600.0 650.6h.9M601.2 671.8h.9M596.9 649.7h.9M604.0 660.3h.9M604.0 649.8h.9M597.2 696.7h.9M596.3 682.0h.9M601.0 648.5h.9M599.7 667.6h.9M600.6 655.3h.9M600.7 620.9h.9M603.8 669.5h.9M602.1 657.6h.9M597.9 674.7h.9M601.9 676.2h.9M599.1 664.4h.9M604.0 693.9h.9M599.4 707.8h.9M595.1 633.6h.9M603.4 665.0h.9M597.5 638.8h.9M602.6 660.2h.9M600.6 659.6h.9M601.8 648.5h.9M601.8 647.4h.9M603.3 688.5h.9M602.7 637.0h.9M600.9 683.5h.9M598.0 658.4h.9M599.5 608.2h.9M597.6 661.1h.9M598.1 627.2h.9M599.2 670.2h.9M598.9 649.7h.9M597.7 661.7h.9M597.8 653.9h.9M597.9 681.0h.9M596.8 682.4h.9M600.4 655.6h.9M595.9 696.2h.9M597.3 680.8h.9M596.6 649.1h.9M601.5 675.9h.9M597.6 681.8h.9M595.9 686.4h.9M602.6 659.6h.9M599.0 670.5h.9M602.4 659.6h.9M598.0 666.8h.9M598.2 623.2h.9M600.1 672.1h.9M595.6 704.6h.9M604.0 660.3h.9M596.2 662.7h.9M603.4 659.4h.9M601.1 697.0h.9M602.0 638.6h.9M596.9 663.4h.9M603.2 663.7h.9M599.9 696.5h.9M598.8 652.7h.9M596.8 664.2h.9M596.6 634.0h.9M602.9 671.6h.9M603.9 689.1h.9M598.8 660.0h.9M601.7 682.2h.9M601.4 653.9h.9M599.5 685.8h.9M599.4 665.5h.9M600.1 667.6h.9M598.2 663.5h.9M601.9 673.7h.9M598.8 680.0h.9M599.6 664.0h.9M596.7 675.1h.9M604.0 659.5h.9M595.7 668.5h.9M601.6 710.5h.9M601.1 664.1h.9M598.2 633.2h.9M604.0 656.3h.9M595.3 650.0h.9M597.5 653.1h.9M598.1 672.7h.9M600.9 691.1h.9M600.4 645.6h.9M601.5 640.4h.9M602.9 650.7h.9M595.2 653.8h.9M600.2 654.4h.9M598.7 663.3h.9M601.3 657.0h.9M599.8 662.5h.9M598.2 655.8h.9M595.1 682.8h.9M597.9 676.1h.9M599.1 650.7h.9M598.1 669.9h.9M598.5 713.7h.9M601.0 660.1h.9M598.1 711.0h.9M602.8 622.4h.9M598.3 647.5h.9M599.0 648.5h.9M599.0 676.7h.9M603.3 686.5h.9M600.6 667.2h.9M603.9 662.3h.9M595.0 678.9h.9M603.8 659.4h.9M596.8 648.2h.9M603.3 650.1h.9M595.4 684.5h.9M602.9 708.2h.9M600.8 662.6h.9M601.3 676.5h.9M598.6 653.3h.9M598.6 628.1h.9M596.4 628.2h.9M596.3 656.6h.9M600.7 639.3h.9M598.1 628.1h.9M595.3 661.6h.9M596.6 656.9h.9M596.6 644.7h.9M596.8 663.3h.9M599.2 673.0h.9M603.4 678.3h.9M600.4 662.4h.9M601.8 675.5h.9M596.0 645.8h.9M601.4 669.5h.9M603.0 631.8h.9M604.2 637.1h.9M601.6 688.4h.9M600.6 639.8h.9M603.9 670.8h.9M596.2 633.7h.9M602.3 651.7h.9M601.6 663.3h.9M601.7 648.3h.9M598.3 674.0h.9M595.7 655.5h.9M596.3 654.3h.9M601.2 665.4h.9M597.9 654.2h.9M603.7 683.1h.9M596.1 650.6h.9M602.5 687.5h.9M599.4 649.2h.9M597.7 652.4h.9M597.3 647.4h.9M598.3 673.8h.9M598.4 602.8h.9M597.1 666.9h.9M597.0 659.0h.9M603.9 677.8h.9M598.9 632.3h.9M600.7 671.9h.9M601.5 641.4h.9M598.1 681.7h.9M603.6 655.5h.9M597.7 669.7h.9M596.8 642.6h.9M595.4 668.0h.9M597.4 679.9h.9M595.6 652.5h.9M600.8 686.7h.9M600.3 681.8h.9M595.2 645.9h.9M603.7 700.7h.9M601.7 646.1h.9M600.1 670.1h.9M603.7 680.8h.9M599.9 656.7h.9M596.6 648.6h.9M602.2 673.9h.9M603.8 665.4h.9M595.6 645.1h.9M599.6 646.1h.9M597.1 662.7h.9M603.3 677.6h.9M595.9 681.2h.9M602.4 673.9h.9M596.9 647.5h.9M600.9 649.6h.9M601.4 655.3h.9M602.0 632.7h.9M595.5 667.7h.9M599.4 669.4h.9M596.2 669.4h.9M596.2 621.9h.9M596.5 704.0h.9M596.4 655.4h.9M603.6 652.2h.9M600.2 660.1h.9M597.3 613.1h.9M599.5 637.2h.9M595.5 645.4h.9M597.0 679.9h.9M600.8 651.0h.9M601.4 669.0h.9M600.7 660.3h.9M604.1 657.1h.9M604.0 671.2h.9M602.7 648.2h.9M599.3 627.6h.9M602.0 639.8h.9M597.3 656.7h.9M603.0 701.0h.9M597.2 638.7h.9M604.1 638.9h.9M595.1 665.1h.9M602.3 670.9h.9M599.6 647.5h.9M602.5 677.7h.9M599.8 644.6h.9M602.7 683.2h.9M601.5 679.9h.9M600.9 660.6h.9M603.8 690.9h.9M596.1 660.9h.9M603.5 650.0h.9M599.8 688.0h.9M601.5 641.9h.9M601.1 672.4h.9M598.6 649.6h.9M599.8 656.5h.9M603.9 670.2h.9M599.5 671.6h.9M603.4 723.2h.9M595.1 725.5h.9M600.3 727.9h.9" stroke="#000" stroke-width="1.15" fill="none"/>
<rect x="622.20" y="622.86" width="30.80" height="17.70" fill="#828282" stroke="#444" stroke-width="0.8"/>
<line x1="622.20" y1="632.30" x2="653.00" y2="632.30" stroke="#111" stroke-width="1.5"/>
<line x1="629.90" y1="596.90" x2="645.30" y2="596.90" stroke="#333" stroke-width="0.8"/>
<line x1="629.90" y1="666.52" x2="645.30" y2="666.52" stroke="#333" stroke-width="0.8"/>
<line x1="622.70" y1="768.00" x2="652.50" y2="768.00" stroke="#111" stroke-width="1.8"/>
<path d="M634.9 666.5h.9M633.2 650.0h.9M641.1 642.5h.9M636.2 652.5h.9M633.1 652.6h.9M638.7 651.3h.9M637.4 652.2h.9M639.3 651.4h.9M636.3 648.9h.9M634.3 641.7h.9M638.9 664.4h.9M636.7 660.4h.9M641.1 666.4h.9M636.0 621.1h.9M635.0 617.6h.9M634.7 599.4h.9M635.4 614.7h.9M635.2 607.3h.9M637.8 614.7h.9M636.4 597.2h.9M641.9 617.9h.9M634.9 612.6h.9M641.7 613.3h.9M636.1 617.3h.9M637.4 620.9h.9M641.8 612.7h.9M640.2 631.0h.9M641.7 644.0h.9M638.0 632.7h.9M635.9 602.3h.9M639.2 627.0h.9M639.3 636.8h.9M633.4 609.9h.9M634.0 642.0h.9M641.7 633.8h.9M639.6 638.9h.9M640.6 634.9h.9M634.7 622.5h.9M642.0 624.4h.9M635.8 641.2h.9M634.3 633.5h.9M636.3 630.8h.9M636.2 637.1h.9M633.5 632.3h.9M640.8 641.1h.9M641.0 641.3h.9M634.8 631.3h.9M638.1 645.1h.9M641.0 626.5h.9M636.5 634.3h.9M637.7 643.7h.9M635.2 639.7h.9M637.3 638.0h.9M635.9 633.9h.9M640.6 630.4h.9M634.5 634.6h.9M633.3 643.0h.9M641.3 613.6h.9M634.6 620.3h.9M638.1 630.5h.9M639.5 619.7h.9M636.0 627.7h.9M641.5 635.2h.9M636.1 630.8h.9M634.8 597.9h.9M633.6 619.2h.9M641.3 618.6h.9M635.0 636.9h.9M641.3 624.3h.9M637.2 603.1h.9M641.6 626.5h.9M633.8 618.2h.9M640.9 615.9h.9M642.0 623.7h.9M639.5 611.8h.9M634.2 629.0h.9M642.2 625.6h.9M640.4 639.9h.9M634.9 598.3h.9M641.9 628.0h.9M633.8 630.5h.9M634.2 614.2h.9M633.1 638.1h.9M638.4 632.0h.9M636.7 641.9h.9M633.8 631.6h.9M637.5 636.9h.9M641.1 625.0h.9M633.8 633.5h.9M638.9 639.5h.9M634.6 635.7h.9M637.7 633.4h.9M636.2 638.4h.9M635.5 620.0h.9M633.1 623.4h.9M638.3 630.1h.9M637.1 647.0h.9M639.4 625.4h.9M634.7 648.2h.9M642.0 629.6h.9M633.2 631.3h.9M634.8 639.4h.9M638.9 642.5h.9M634.2 640.8h.9M635.4 605.9h.9M637.6 635.3h.9M640.0 634.6h.9M641.0 619.8h.9M635.9 626.6h.9M639.1 618.5h.9M633.2 647.5h.9M641.2 645.7h.9M639.2 596.9h.9M641.3 632.5h.9M634.9 635.6h.9M637.6 629.9h.9M639.8 619.4h.9M633.2 647.0h.9M640.7 628.4h.9M639.5 632.3h.9M640.3 623.4h.9M634.5 629.8h.9M640.1 638.7h.9M638.2 642.9h.9M634.4 662.8h.9M634.2 619.6h.9M640.9 650.5h.9M636.7 637.1h.9M635.5 610.9h.9M636.4 637.2h.9M639.3 624.2h.9M634.3 634.6h.9M634.5 623.1h.9M639.0 631.6h.9M641.2 638.4h.9M639.2 614.9h.9M641.7 635.3h.9M635.6 648.9h.9M636.3 636.1h.9M636.4 625.2h.9M636.3 646.0h.9M635.5 622.0h.9M640.3 622.3h.9M635.6 605.2h.9M636.8 640.1h.9M637.3 623.6h.9M642.2 653.0h.9M636.0 637.2h.9M639.4 630.6h.9M636.0 626.8h.9M640.4 632.7h.9M636.6 633.1h.9M633.2 639.7h.9M637.8 637.6h.9M636.1 628.1h.9M635.4 624.9h.9M635.7 623.9h.9M633.0 619.4h.9M639.7 617.0h.9M638.0 654.7h.9M638.9 638.5h.9M638.2 634.0h.9M636.5 640.1h.9M637.2 618.8h.9M637.4 622.5h.9M641.4 633.3h.9M636.2 630.4h.9M634.4 616.1h.9M633.8 636.3h.9M636.1 635.9h.9M638.3 620.6h.9M638.4 626.1h.9M639.7 614.1h.9M639.1 627.3h.9M633.8 622.5h.9M636.6 638.8h.9M636.4 643.8h.9M634.0 632.1h.9M638.4 665.3h.9M640.1 626.8h.9M633.4 619.8h.9M637.9 631.0h.9M634.1 634.7h.9M640.1 618.3h.9M638.1 632.5h.9M633.6 619.6h.9M637.7 604.4h.9M635.2 622.9h.9M634.9 620.2h.9M639.1 625.8h.9M636.7 628.8h.9M641.5 628.5h.9M641.4 631.1h.9M640.8 618.3h.9M636.8 652.2h.9M641.3 635.3h.9M633.7 623.7h.9M640.1 642.5h.9M636.3 633.3h.9M641.0 640.7h.9M633.3 626.4h.9M638.3 621.1h.9M633.6 613.7h.9M635.7 625.6h.9M638.2 641.0h.9M634.3 628.8h.9M639.4 624.8h.9M637.7 614.3h.9M635.1 658.9h.9M637.9 627.3h.9M637.1 654.9h.9M633.3 623.0h.9M639.5 626.4h.9M639.6 625.7h.9M641.4 620.9h.9M641.7 627.1h.9M636.4 640.1h.9M638.9 627.5h.9M638.6 616.9h.9M633.5 633.4h.9M639.7 631.6h.9M635.5 647.2h.9M636.9 617.4h.9M638.7 638.3h.9M637.6 641.3h.9M635.6 637.6h.9M641.0 642.7h.9M633.9 635.1h.9M638.5 616.0h.9M634.7 622.0h.9M641.5 614.1h.9M641.6 613.3h.9M639.6 643.2h.9M641.1 625.9h.9M640.1 613.2h.9M639.0 603.2h.9M639.9 649.7h.9M641.4 649.8h.9M635.0 626.1h.9M639.7 636.2h.9M634.7 644.4h.9M637.2 627.2h.9M636.1 641.8h.9M638.8 660.4h.9M638.9 632.3h.9M641.3 630.4h.9M640.7 624.0h.9M633.6 620.2h.9M634.6 629.7h.9M633.4 634.9h.9M639.5 640.3h.9M636.2 652.6h.9M642.0 637.5h.9M635.0 619.5h.9M641.8 623.8h.9M640.0 606.3h.9M640.0 633.9h.9M638.6 654.4h.9M641.1 621.6h.9M635.2 619.0h.9M641.0 646.6h.9M641.1 652.2h.9M638.6 630.1h.9M639.1 623.1h.9M635.1 646.1h.9M637.5 636.3h.9M638.4 641.8h.9M635.9 646.8h.9M633.4 648.5h.9M641.7 630.3h.9M640.4 636.7h.9M636.4 640.4h.9M637.9 664.7h.9M638.4 610.2h.9M641.8 643.9h.9M638.1 633.8h.9M639.7 646.3h.9M640.4 627.3h.9M633.9 651.0h.9M638.4 630.9h.9M641.6 634.4h.9M640.6 620.6h.9M641.5 645.8h.9M634.5 640.2h.9M640.2 635.0h.9M635.6 605.9h.9M641.1 650.6h.9M640.2 628.5h.9M636.5 640.3h.9M638.3 628.2h.9M637.3 623.9h.9M641.7 630.4h.9M638.1 628.8h.9M633.7 628.6h.9M637.9 639.5h.9M633.2 634.9h.9M634.3 652.9h.9M637.5 636.6h.9M637.2 641.8h.9M633.6 635.4h.9M636.1 622.9h.9M635.6 627.4h.9M635.6 626.3h.9M637.1 618.4h.9M633.3 662.0h.9M633.3 626.8h.9M635.2 632.5h.9M639.6 633.4h.9M641.6 648.6h.9M639.9 625.3h.9M633.7 617.8h.9M640.6 619.3h.9M640.5 633.3h.9M640.8 624.2h.9M639.7 620.7h.9M635.4 609.4h.9M637.6 616.9h.9M637.0 630.4h.9M633.3 631.0h.9M638.0 630.1h.9M635.4 629.4h.9M641.8 638.4h.9M639.1 622.6h.9M640.5 640.9h.9M633.3 642.3h.9M639.6 627.8h.9M640.4 639.4h.9M637.2 635.3h.9M635.3 658.2h.9M637.5 622.3h.9M638.1 722.0h.9M637.0 725.5h.9" stroke="#000" stroke-width="1.15" fill="none"/>
<rect x="698.50" y="659.44" width="30.80" height="27.14" fill="#f86161" stroke="#444" stroke-width="0.8"/>
<line x1="698.50" y1="672.42" x2="729.30" y2="672.42" stroke="#111" stroke-width="1.5"/>
<line x1="706.20" y1="620.50" x2="721.60" y2="620.50" stroke="#333" stroke-width="0.8"/>
<line x1="706.20" y1="724.34" x2="721.60" y2="724.34" stroke="#333" stroke-width="0.8"/>
<path d="M714.7 722.4h.9M715.8 690.0h.9M711.5 711.3h.9M709.7 688.9h.9M715.8 719.2h.9M712.7 699.4h.9M714.8 701.6h.9M711.8 699.4h.9M712.5 694.3h.9M711.7 721.5h.9M713.8 696.4h.9M715.3 723.4h.9M711.5 713.0h.9M712.2 692.3h.9M713.6 702.8h.9M715.7 689.2h.9M712.7 691.8h.9M709.9 708.4h.9M714.1 648.5h.9M713.5 651.5h.9M718.5 657.8h.9M714.6 631.5h.9M709.7 628.1h.9M715.2 657.6h.9M710.1 640.3h.9M712.7 627.1h.9M709.6 634.5h.9M714.8 643.2h.9M710.9 622.5h.9M718.0 643.0h.9M711.1 647.3h.9M718.2 640.1h.9M717.7 645.9h.9M714.1 644.2h.9M713.6 640.1h.9M712.9 656.4h.9M716.2 635.9h.9M711.0 666.1h.9M712.6 661.8h.9M709.8 674.0h.9M713.2 687.5h.9M711.1 667.8h.9M717.8 642.4h.9M713.4 669.2h.9M711.4 655.1h.9M711.8 677.6h.9M710.9 622.3h.9M710.1 706.2h.9M709.8 661.2h.9M715.9 662.1h.9M710.3 667.7h.9M717.0 695.5h.9M718.2 695.9h.9M717.7 677.8h.9M710.9 671.0h.9M716.6 697.5h.9M714.8 694.5h.9M718.0 661.8h.9M712.0 652.3h.9M714.9 684.4h.9M715.0 687.1h.9M711.0 687.7h.9M714.8 623.2h.9M716.0 663.3h.9M716.7 674.4h.9M717.2 652.9h.9M709.5 626.9h.9M716.3 649.6h.9M712.3 701.9h.9M716.3 674.9h.9M710.7 681.3h.9M712.8 680.1h.9M713.0 697.7h.9M715.7 681.0h.9M715.0 695.0h.9M716.8 666.3h.9M709.4 672.3h.9M711.9 701.7h.9M716.1 707.6h.9M711.5 682.9h.9M717.1 660.1h.9M712.2 663.2h.9M715.4 674.5h.9M709.8 724.3h.9M717.7 683.2h.9M710.3 688.1h.9M713.1 680.0h.9M712.9 697.8h.9M712.1 681.9h.9M714.2 686.6h.9M714.1 620.5h.9M716.6 659.0h.9M718.2 677.1h.9M716.7 674.2h.9M716.0 675.6h.9M711.1 669.4h.9M711.3 681.4h.9M709.4 673.6h.9M710.2 652.5h.9M716.5 656.5h.9M709.8 667.0h.9M711.8 646.4h.9M712.8 668.7h.9M710.7 693.0h.9M712.4 708.5h.9M711.6 687.3h.9M713.1 674.5h.9M710.9 665.2h.9M709.5 651.5h.9M717.7 684.8h.9M716.1 689.5h.9M716.4 657.7h.9M711.6 649.5h.9M717.9 682.9h.9M717.0 666.4h.9M713.1 645.5h.9M712.0 666.8h.9M716.6 674.3h.9M709.5 715.2h.9M714.6 646.5h.9M717.3 660.2h.9M717.7 670.7h.9M717.8 682.6h.9M713.2 698.4h.9M709.4 675.2h.9M712.5 675.4h.9M711.8 651.1h.9M714.6 697.7h.9M716.0 644.1h.9M718.3 672.5h.9M712.2 649.3h.9M712.6 692.8h.9M710.1 666.2h.9M717.0 648.6h.9M713.9 670.9h.9M711.4 702.9h.9M713.9 679.9h.9M713.8 662.4h.9M716.8 701.4h.9M711.4 702.4h.9M714.0 668.5h.9M713.4 692.4h.9M710.2 659.5h.9M710.6 696.9h.9M711.5 710.2h.9M713.3 688.9h.9M714.4 643.1h.9M716.2 690.6h.9M717.7 673.3h.9M710.1 668.2h.9M718.3 692.4h.9M713.1 651.2h.9M716.5 669.6h.9M712.4 664.2h.9M716.0 707.1h.9M715.6 708.5h.9M709.5 724.3h.9M717.3 677.0h.9M709.7 677.8h.9M713.8 658.6h.9M711.3 643.3h.9M714.7 678.3h.9M711.0 678.6h.9M714.9 664.1h.9M716.4 642.4h.9M714.8 689.8h.9M717.0 660.6h.9M712.8 678.2h.9M715.5 679.9h.9M713.4 656.8h.9M717.7 689.1h.9M710.2 694.7h.9M717.3 659.8h.9M709.4 673.7h.9M717.2 678.5h.9M710.1 675.8h.9M715.7 663.2h.9M710.2 680.6h.9M716.5 657.7h.9M711.3 664.8h.9M709.9 643.3h.9M717.3 647.7h.9M714.6 655.9h.9M717.1 677.2h.9M716.6 670.8h.9M710.2 685.1h.9M710.2 620.5h.9M715.9 677.6h.9M717.1 661.9h.9M711.0 645.8h.9M717.5 700.6h.9M709.5 689.7h.9M716.4 681.1h.9M715.1 693.1h.9M712.8 698.6h.9M712.8 683.5h.9M712.1 647.1h.9M713.7 658.5h.9M713.9 672.4h.9M710.8 672.5h.9M709.4 706.5h.9M714.1 659.1h.9M711.1 664.5h.9M710.2 694.9h.9M711.6 668.9h.9M710.6 676.9h.9M717.3 683.5h.9M712.0 693.0h.9M715.3 686.7h.9M709.4 692.0h.9M715.4 663.8h.9M718.1 665.7h.9M716.2 666.6h.9M716.3 676.7h.9M713.1 681.2h.9M713.7 631.9h.9M717.6 710.5h.9M711.5 649.0h.9M714.0 665.9h.9M716.0 671.6h.9M712.4 683.3h.9M713.6 677.4h.9M709.6 696.9h.9M715.6 700.9h.9M710.8 675.3h.9M711.7 706.3h.9M711.4 656.1h.9M715.9 650.6h.9M713.0 724.3h.9M718.4 704.3h.9M716.7 667.5h.9M717.8 668.7h.9M715.6 670.8h.9M711.4 664.5h.9M712.3 658.0h.9M712.6 655.6h.9M711.2 637.0h.9M713.6 672.4h.9M716.6 655.6h.9M714.1 705.6h.9M710.8 675.6h.9M716.0 697.5h.9M718.2 644.9h.9M713.7 626.0h.9M710.6 662.1h.9M716.0 699.1h.9M714.3 675.2h.9M716.7 672.4h.9M714.9 668.9h.9M717.3 651.0h.9M709.4 653.7h.9M715.3 724.3h.9M714.8 645.4h.9M716.5 682.9h.9M711.3 684.2h.9M714.7 644.4h.9M711.8 678.3h.9M716.2 700.5h.9M710.0 699.6h.9M710.8 671.7h.9M718.0 654.6h.9M716.1 642.7h.9M711.6 676.3h.9M712.2 682.3h.9M713.3 640.2h.9M711.4 682.1h.9M710.6 643.6h.9M718.2 668.2h.9M711.2 668.1h.9M716.2 677.6h.9M715.9 666.9h.9M716.1 682.2h.9M712.1 686.5h.9M711.3 675.6h.9M715.0 686.0h.9M718.5 666.8h.9M712.9 671.2h.9M711.3 678.2h.9M714.0 676.9h.9M711.0 677.5h.9M712.5 637.9h.9M716.1 673.1h.9M711.5 684.8h.9M713.4 678.8h.9M715.2 659.6h.9M710.8 676.9h.9M710.6 675.9h.9M718.2 678.0h.9M717.3 669.6h.9M717.4 665.0h.9M714.6 664.0h.9M713.9 705.8h.9M710.3 694.4h.9M711.5 724.3h.9M710.3 656.8h.9M714.2 650.6h.9M713.3 646.7h.9M710.9 670.0h.9M710.2 649.8h.9M714.6 673.6h.9M710.6 675.3h.9M709.4 703.9h.9M711.4 688.6h.9M716.7 684.8h.9M715.4 654.4h.9M714.1 639.6h.9M711.4 682.3h.9M713.6 665.4h.9M709.4 667.4h.9M712.3 688.5h.9M713.7 707.5h.9M710.1 688.0h.9M714.6 701.8h.9M713.4 679.3h.9M709.8 675.8h.9M710.7 676.6h.9M713.8 676.3h.9M717.6 663.2h.9M709.8 691.7h.9M714.5 655.1h.9M711.9 706.5h.9M712.9 671.7h.9M717.8 665.1h.9M715.1 688.9h.9M711.9 705.0h.9M713.5 660.1h.9M718.3 686.5h.9M717.3 657.3h.9M713.2 657.5h.9M714.2 673.1h.9M713.5 673.0h.9M710.7 653.1h.9M718.2 665.4h.9M711.4 691.7h.9M711.3 669.6h.9M710.3 661.9h.9M718.0 668.9h.9M717.7 669.2h.9M715.2 675.9h.9M714.2 675.3h.9M714.6 691.7h.9M712.7 701.7h.9M717.5 650.4h.9M714.4 685.7h.9M717.2 668.5h.9M715.7 703.1h.9M715.5 669.8h.9M715.5 689.6h.9M716.4 620.5h.9M716.8 693.4h.9M715.6 692.3h.9M712.3 654.1h.9M711.7 650.2h.9M711.1 715.2h.9M717.2 667.9h.9M713.8 655.4h.9M709.3 697.5h.9M714.8 659.3h.9M717.2 683.5h.9M717.8 693.0h.9M717.9 680.0h.9M717.3 682.2h.9M710.9 700.8h.9M714.0 628.2h.9M715.8 682.1h.9M715.2 687.9h.9M712.6 655.9h.9M709.6 674.4h.9M717.5 646.3h.9M716.5 678.3h.9M717.3 666.0h.9M712.8 671.1h.9M711.6 669.7h.9M717.1 677.2h.9M715.3 675.1h.9M715.4 639.5h.9M709.6 686.6h.9M710.3 683.9h.9M716.4 679.9h.9M717.4 661.6h.9M712.6 665.0h.9M717.3 654.3h.9M710.9 699.8h.9M714.6 667.8h.9M712.5 676.5h.9M714.2 678.7h.9M711.1 669.7h.9M712.8 712.3h.9M713.5 667.6h.9M714.6 670.1h.9M711.2 701.5h.9M714.9 674.9h.9M711.2 642.1h.9M718.3 680.7h.9M711.5 661.2h.9M710.3 677.5h.9M711.8 689.2h.9M714.5 691.4h.9M713.4 680.9h.9M715.4 647.1h.9M710.3 656.7h.9M713.1 687.1h.9M714.4 653.1h.9M718.3 675.5h.9M717.5 686.8h.9M714.6 664.4h.9M712.1 691.2h.9M710.4 704.3h.9M715.1 647.2h.9M714.5 709.4h.9M713.7 662.2h.9M715.9 703.4h.9M713.6 673.6h.9M716.5 676.9h.9M712.0 681.7h.9M712.3 716.5h.9M717.7 675.1h.9M714.6 673.7h.9M718.1 690.8h.9M709.9 674.3h.9M717.8 653.2h.9M709.8 687.3h.9M716.2 667.9h.9M714.6 695.8h.9M710.4 665.4h.9M712.1 660.2h.9M713.7 623.6h.9M714.4 655.0h.9M713.8 664.3h.9M709.6 644.9h.9M718.5 692.7h.9M712.5 651.6h.9M715.9 683.8h.9M717.8 685.2h.9M718.3 651.2h.9M711.0 668.3h.9M717.5 646.6h.9M714.0 701.7h.9M715.3 667.5h.9M711.6 683.3h.9M710.6 678.3h.9M714.6 710.7h.9M717.6 654.3h.9M713.2 668.7h.9M718.1 692.4h.9M715.8 699.5h.9M709.5 690.1h.9M717.9 645.1h.9M710.3 674.8h.9M711.3 679.4h.9M714.5 663.0h.9M717.9 672.6h.9M710.5 668.2h.9M712.0 658.1h.9M709.7 666.2h.9M710.1 655.4h.9M713.3 696.4h.9M714.6 671.5h.9M714.0 679.7h.9M709.7 670.6h.9M713.2 673.5h.9M713.4 685.3h.9M717.9 679.6h.9M712.3 653.9h.9M715.1 683.6h.9M713.8 697.2h.9M716.5 660.9h.9M714.9 653.4h.9M718.4 677.9h.9M715.2 670.1h.9M712.4 582.7h.9M713.2 612.2h.9M717.2 614.6h.9M712.7 730.2h.9" stroke="#000" stroke-width="1.15" fill="none"/>
<rect x="736.30" y="622.86" width="30.80" height="16.52" fill="#828282" stroke="#444" stroke-width="0.8"/>
<line x1="736.30" y1="632.30" x2="767.10" y2="632.30" stroke="#111" stroke-width="1.5"/>
<line x1="744.00" y1="600.44" x2="759.40" y2="600.44" stroke="#333" stroke-width="0.8"/>
<line x1="744.00" y1="662.98" x2="759.40" y2="662.98" stroke="#333" stroke-width="0.8"/>
<path d="M748.7 658.6h.9M749.5 661.1h.9M756.0 658.1h.9M753.3 652.6h.9M755.3 648.2h.9M750.1 661.1h.9M756.2 659.4h.9M751.1 662.4h.9M754.5 653.6h.9M755.5 639.4h.9M751.9 644.5h.9M750.9 642.9h.9M751.7 641.4h.9M748.3 617.9h.9M747.8 608.3h.9M755.8 613.5h.9M753.1 614.7h.9M747.9 605.9h.9M752.5 610.3h.9M749.4 608.9h.9M754.8 616.8h.9M750.4 601.8h.9M747.3 608.2h.9M753.2 608.7h.9M756.2 605.8h.9M753.9 602.4h.9M755.9 626.5h.9M748.0 641.6h.9M749.8 647.8h.9M754.2 644.4h.9M751.4 609.1h.9M748.7 650.6h.9M750.3 638.8h.9M749.7 616.9h.9M753.6 623.0h.9M754.2 652.2h.9M753.9 632.5h.9M753.2 637.5h.9M754.0 633.6h.9M755.6 621.9h.9M749.5 638.3h.9M749.7 635.1h.9M756.1 613.2h.9M755.2 653.9h.9M753.2 635.8h.9M754.4 625.4h.9M753.0 646.5h.9M749.9 638.9h.9M752.3 647.4h.9M749.3 629.3h.9M748.0 638.9h.9M750.2 621.5h.9M754.5 618.6h.9M748.4 630.6h.9M747.5 635.9h.9M749.3 628.0h.9M754.3 630.5h.9M755.2 646.2h.9M749.6 618.0h.9M755.9 628.4h.9M751.5 621.5h.9M753.4 648.0h.9M753.2 620.4h.9M751.2 605.2h.9M754.8 623.6h.9M755.4 649.1h.9M751.4 630.7h.9M749.9 631.9h.9M755.7 628.5h.9M753.5 634.1h.9M750.4 625.1h.9M748.6 636.9h.9M750.7 628.4h.9M751.2 639.7h.9M754.6 630.0h.9M753.6 618.9h.9M751.8 637.3h.9M755.5 623.0h.9M752.5 642.2h.9M755.0 635.8h.9M747.7 634.1h.9M747.8 615.8h.9M755.0 640.7h.9M753.9 616.2h.9M749.5 649.3h.9M748.2 633.2h.9M747.8 620.0h.9M750.0 622.6h.9M755.2 643.7h.9M748.9 646.4h.9M749.4 620.4h.9M754.7 646.8h.9M748.8 624.1h.9M749.3 637.7h.9M754.0 631.4h.9M755.0 602.6h.9M755.8 612.1h.9M747.5 620.9h.9M750.1 648.3h.9M752.7 627.3h.9M750.2 630.6h.9M753.9 632.5h.9M749.2 614.7h.9M752.7 652.5h.9M748.6 627.3h.9M748.5 629.7h.9M754.4 640.6h.9M752.9 609.9h.9M752.3 647.0h.9M750.6 630.9h.9M753.3 630.3h.9M755.9 658.4h.9M750.5 649.0h.9M747.5 643.3h.9M749.5 621.5h.9M754.3 619.6h.9M749.8 623.9h.9M754.0 628.3h.9M749.0 658.5h.9M752.6 628.6h.9M750.5 637.7h.9M752.0 616.8h.9M750.5 614.6h.9M752.6 603.6h.9M753.9 622.5h.9M753.5 621.2h.9M751.1 644.1h.9M747.4 630.3h.9M754.7 646.6h.9M748.1 620.2h.9M750.6 646.1h.9M754.4 634.0h.9M756.1 641.5h.9M753.8 637.2h.9M748.1 625.7h.9M756.0 638.3h.9M747.5 628.6h.9M747.4 643.8h.9M753.9 614.0h.9M755.6 639.3h.9M753.0 618.8h.9M755.2 604.8h.9M753.1 661.6h.9M747.9 643.7h.9M752.8 633.9h.9M754.1 616.8h.9M751.6 637.4h.9M753.6 626.7h.9M751.4 640.4h.9M748.0 624.4h.9M755.0 646.5h.9M749.0 621.0h.9M749.0 663.0h.9M748.3 654.9h.9M750.3 608.8h.9M750.8 629.2h.9M748.9 642.5h.9M748.6 604.0h.9M751.3 618.3h.9M747.2 617.4h.9M751.6 636.7h.9M748.1 623.7h.9M748.3 625.1h.9M748.2 652.1h.9M754.9 624.0h.9M754.6 633.7h.9M756.2 615.4h.9M754.5 615.1h.9M751.8 639.4h.9M750.7 639.0h.9M752.5 629.0h.9M752.9 623.3h.9M756.2 636.6h.9M750.2 632.9h.9M755.4 623.8h.9M755.8 626.2h.9M755.9 616.9h.9M752.9 628.5h.9M752.8 642.5h.9M756.3 653.5h.9M750.9 621.3h.9M754.2 635.6h.9M747.8 635.8h.9M749.3 635.1h.9M751.7 651.1h.9M753.9 636.3h.9M748.7 663.0h.9M754.6 636.5h.9M752.4 642.7h.9M748.3 608.5h.9M747.5 625.9h.9M750.8 634.1h.9M754.7 629.4h.9M756.1 622.3h.9M754.1 641.0h.9M749.2 634.4h.9M755.4 635.9h.9M748.5 600.4h.9M750.8 630.6h.9M753.3 656.1h.9M750.2 621.5h.9M750.1 600.4h.9M751.1 643.5h.9M755.4 600.4h.9M751.4 632.3h.9M747.9 618.9h.9M750.4 638.6h.9M752.5 634.9h.9M752.1 647.0h.9M755.9 644.8h.9M751.8 658.5h.9M754.4 617.1h.9M754.0 646.0h.9M751.4 626.9h.9M751.0 627.4h.9M751.3 639.7h.9M748.2 630.9h.9M747.9 632.7h.9M748.2 637.8h.9M748.3 630.9h.9M747.9 630.9h.9M750.7 644.4h.9M748.5 647.9h.9M756.1 642.2h.9M750.8 630.0h.9M747.1 614.1h.9M753.2 613.0h.9M753.7 627.6h.9M755.8 619.6h.9M749.4 630.0h.9M750.0 617.6h.9M754.0 629.9h.9M752.9 626.6h.9M752.8 635.2h.9M755.7 631.6h.9M756.3 607.6h.9M747.2 646.7h.9M750.7 631.5h.9M755.8 639.0h.9M747.3 619.4h.9M750.2 608.6h.9M754.1 635.5h.9M747.8 663.0h.9M752.5 623.8h.9M755.6 623.8h.9M752.0 652.9h.9M747.1 634.7h.9M748.1 632.4h.9M750.9 660.9h.9M747.2 623.1h.9M753.2 626.0h.9M749.6 628.6h.9M750.3 645.0h.9M754.3 640.6h.9M753.9 639.6h.9M754.5 625.6h.9M748.8 644.1h.9M750.3 613.1h.9M753.0 626.8h.9M751.7 659.3h.9M754.5 610.3h.9M750.9 629.6h.9M755.5 638.6h.9M749.1 630.4h.9M753.1 654.8h.9M754.5 629.3h.9M756.2 662.9h.9M750.6 644.7h.9M755.2 614.5h.9M752.6 615.6h.9M753.0 636.0h.9M749.5 644.0h.9M755.2 619.8h.9M747.7 632.3h.9M756.2 629.0h.9M752.3 623.7h.9M752.5 645.4h.9M748.7 621.6h.9M753.3 658.6h.9M748.5 613.1h.9M754.8 651.7h.9M754.0 639.7h.9M748.7 640.3h.9M754.4 622.5h.9M752.9 622.2h.9M749.8 627.2h.9M753.2 624.8h.9M753.5 625.8h.9M751.7 632.7h.9M753.5 656.1h.9M754.4 661.2h.9M755.3 661.1h.9M754.7 632.4h.9M748.1 634.7h.9M755.0 633.6h.9M755.8 628.9h.9M751.5 634.8h.9M755.4 644.6h.9M749.2 651.0h.9M747.5 656.0h.9M751.2 616.3h.9M748.2 620.2h.9M748.3 649.1h.9M751.2 635.3h.9M756.1 626.2h.9M751.9 611.5h.9M756.2 639.5h.9M751.8 629.6h.9M751.4 617.1h.9M747.3 654.1h.9M747.9 641.2h.9M755.1 632.4h.9M753.4 641.1h.9M752.3 604.9h.9M755.3 620.8h.9M753.1 629.4h.9M749.7 644.2h.9M755.1 620.8h.9M753.8 623.8h.9M747.8 638.5h.9M754.7 637.5h.9M750.5 650.6h.9M754.9 632.9h.9M754.7 620.8h.9M755.5 619.1h.9M748.1 624.5h.9M753.9 621.4h.9M750.0 639.5h.9M755.0 637.9h.9M748.2 616.5h.9M755.2 595.7h.9M756.0 666.5h.9M751.9 720.8h.9M752.1 725.5h.9M752.7 768.0h.9" stroke="#000" stroke-width="1.15" fill="none"/>
<path d="M599.8 599.8V587.5H614.3M621.5 587.5H637.3V597.7" stroke="#8c8c8c" stroke-width="1.2" fill="none"/>
<path d="M617.95 585.30L617.95 589.90M615.96 586.45L619.94 588.75M619.94 586.45L615.96 588.75" stroke="#f01010" stroke-width="0.95" fill="none"/>
<path d="M713.6 577.8V572.5H728.6M735.8 572.5H752.0V597.7" stroke="#8c8c8c" stroke-width="1.2" fill="none"/>
<path d="M732.20 570.30L732.20 574.90M730.21 571.45L734.19 573.75M734.19 571.45L730.21 573.75" stroke="#f01010" stroke-width="0.95" fill="none"/>
<line x1="618.60" y1="776.00" x2="618.60" y2="779.50" stroke="#555" stroke-width="0.8"/>
<text x="618.60" y="791.50" font-size="6.4" fill="#222" font-family='"Liberation Sans", sans-serif' text-anchor="middle" stroke="#222" stroke-width="0.22">LUAD</text>
<text x="618.60" y="800.30" font-size="6.4" fill="#222" font-family='"Liberation Sans", sans-serif' text-anchor="middle" textLength="84.0" lengthAdjust="spacingAndGlyphs" stroke="#222" stroke-width="0.22">(num(T)=483; num(N)=347)</text>
<line x1="732.80" y1="776.00" x2="732.80" y2="779.50" stroke="#555" stroke-width="0.8"/>
<text x="732.80" y="791.50" font-size="6.4" fill="#222" font-family='"Liberation Sans", sans-serif' text-anchor="middle" stroke="#222" stroke-width="0.22">LUSC</text>
<text x="732.80" y="800.30" font-size="6.4" fill="#222" font-family='"Liberation Sans", sans-serif' text-anchor="middle" textLength="84.0" lengthAdjust="spacingAndGlyphs" stroke="#222" stroke-width="0.22">(num(T)=486; num(N)=338)</text>
<text x="132.45" y="838.80" font-size="8.8" fill="#222" font-family='"Liberation Sans", sans-serif' text-anchor="middle" textLength="214.3" lengthAdjust="spacingAndGlyphs" stroke="#222" stroke-width="0.22">Expression of FERMT1 in LUSC based on Sample types</text>
<line x1="28.20" y1="852.10" x2="28.20" y2="1000.70" stroke="#777" stroke-width="1.0"/>
<line x1="28.20" y1="1000.70" x2="259.90" y2="1000.70" stroke="#777" stroke-width="1.0"/>
<line x1="24.00" y1="1000.70" x2="28.20" y2="1000.70" stroke="#777" stroke-width="0.9"/>
<text x="21.40" y="1003.00" font-size="6.6" fill="#8a8a8a" font-family='"Liberation Sans", sans-serif' text-anchor="end" stroke="#8a8a8a" stroke-width="0.22">0</text>
<line x1="24.00" y1="971.08" x2="28.20" y2="971.08" stroke="#777" stroke-width="0.9"/>
<text x="21.40" y="973.38" font-size="6.6" fill="#8a8a8a" font-family='"Liberation Sans", sans-serif' text-anchor="end" stroke="#8a8a8a" stroke-width="0.22">25</text>
<line x1="24.00" y1="941.46" x2="28.20" y2="941.46" stroke="#777" stroke-width="0.9"/>
<text x="21.40" y="943.76" font-size="6.6" fill="#8a8a8a" font-family='"Liberation Sans", sans-serif' text-anchor="end" stroke="#8a8a8a" stroke-width="0.22">50</text>
<line x1="24.00" y1="911.84" x2="28.20" y2="911.84" stroke="#777" stroke-width="0.9"/>
<text x="21.40" y="914.14" font-size="6.6" fill="#8a8a8a" font-family='"Liberation Sans", sans-serif' text-anchor="end" stroke="#8a8a8a" stroke-width="0.22">75</text>
<line x1="24.00" y1="882.22" x2="28.20" y2="882.22" stroke="#777" stroke-width="0.9"/>
<text x="21.40" y="884.52" font-size="6.6" fill="#8a8a8a" font-family='"Liberation Sans", sans-serif' text-anchor="end" stroke="#8a8a8a" stroke-width="0.22">100</text>
<line x1="24.00" y1="852.60" x2="28.20" y2="852.60" stroke="#777" stroke-width="0.9"/>
<text x="21.40" y="854.90" font-size="6.6" fill="#8a8a8a" font-family='"Liberation Sans", sans-serif' text-anchor="end" stroke="#8a8a8a" stroke-width="0.22">125</text>
<path d="M87.80 996.67V997.86M87.80 999.99V1000.46" stroke="#222" stroke-width="0.9" stroke-dasharray="1.6 1.2" fill="none"/>
<line x1="73.60" y1="996.67" x2="102.00" y2="996.67" stroke="#2a2a2a" stroke-width="1.1"/>
<line x1="73.60" y1="1000.46" x2="102.00" y2="1000.46" stroke="#2a2a2a" stroke-width="1.1"/>
<rect x="59.20" y="997.86" width="57.20" height="2.13" fill="#1c2266"/>
<path d="M206.55 886.96V945.01M206.55 980.56V1000.11" stroke="#222" stroke-width="0.9" stroke-dasharray="1.6 1.2" fill="none"/>
<line x1="192.25" y1="886.96" x2="220.85" y2="886.96" stroke="#2a2a2a" stroke-width="1.1"/>
<line x1="192.25" y1="1000.11" x2="220.85" y2="1000.11" stroke="#2a2a2a" stroke-width="1.1"/>
<rect x="177.90" y="945.01" width="57.30" height="35.54" fill="#ef3b12"/>
<line x1="177.90" y1="966.34" x2="235.20" y2="966.34" stroke="#4a1208" stroke-width="1.3"/>
<line x1="92.80" y1="879.00" x2="209.20" y2="879.00" stroke="#222" stroke-width="1.3"/>
<path d="M141.65 866.10L141.65 871.90M139.14 867.55L144.16 870.45M144.16 867.55L139.14 870.45" stroke="#333" stroke-width="1.2" fill="none"/>
<path d="M149.35 866.10L149.35 871.90M146.84 867.55L151.86 870.45M151.86 867.55L146.84 870.45" stroke="#333" stroke-width="1.2" fill="none"/>
<path d="M157.05 866.10L157.05 871.90M154.54 867.55L159.56 870.45M159.56 867.55L154.54 870.45" stroke="#333" stroke-width="1.2" fill="none"/>
<text x="87.60" y="1009.40" font-size="5.3" fill="#888" font-family='"Liberation Sans", sans-serif' text-anchor="middle" stroke="#888" stroke-width="0.12">Normal</text>
<text x="87.60" y="1015.50" font-size="5.3" fill="#888" font-family='"Liberation Sans", sans-serif' text-anchor="middle" stroke="#888" stroke-width="0.12">(n=52)</text>
<text x="206.50" y="1009.40" font-size="5.3" fill="#888" font-family='"Liberation Sans", sans-serif' text-anchor="middle" stroke="#888" stroke-width="0.12">Primary tumor</text>
<text x="206.50" y="1015.50" font-size="5.3" fill="#888" font-family='"Liberation Sans", sans-serif' text-anchor="middle" stroke="#888" stroke-width="0.12">(n=503)</text>
<text transform="translate(6.20,926.50) rotate(-90)" font-size="6.8" font-weight="bold" font-family='"Liberation Sans", sans-serif' text-anchor="middle" fill="#111" textLength="67.8" lengthAdjust="spacingAndGlyphs">Transcript per million</text>
<text x="146.80" y="1027.10" font-size="6.6" fill="#111" font-family='"Liberation Sans", sans-serif' font-weight="bold" text-anchor="middle" textLength="47.0" lengthAdjust="spacingAndGlyphs">TCGA samples</text>
<text x="399.05" y="839.40" font-size="8.8" fill="#222" font-family='"Liberation Sans", sans-serif' text-anchor="middle" textLength="214.3" lengthAdjust="spacingAndGlyphs" stroke="#222" stroke-width="0.22">Expression of FERMT2 in LUSC based on Sample types</text>
<line x1="294.60" y1="852.70" x2="294.60" y2="1001.40" stroke="#777" stroke-width="1.0"/>
<line x1="294.60" y1="1001.40" x2="526.50" y2="1001.40" stroke="#777" stroke-width="1.0"/>
<line x1="290.40" y1="1001.40" x2="294.60" y2="1001.40" stroke="#777" stroke-width="0.9"/>
<text x="287.80" y="1003.70" font-size="6.6" fill="#8a8a8a" font-family='"Liberation Sans", sans-serif' text-anchor="end" stroke="#8a8a8a" stroke-width="0.22">0</text>
<line x1="290.40" y1="971.76" x2="294.60" y2="971.76" stroke="#777" stroke-width="0.9"/>
<text x="287.80" y="974.06" font-size="6.6" fill="#8a8a8a" font-family='"Liberation Sans", sans-serif' text-anchor="end" stroke="#8a8a8a" stroke-width="0.22">25</text>
<line x1="290.40" y1="942.12" x2="294.60" y2="942.12" stroke="#777" stroke-width="0.9"/>
<text x="287.80" y="944.42" font-size="6.6" fill="#8a8a8a" font-family='"Liberation Sans", sans-serif' text-anchor="end" stroke="#8a8a8a" stroke-width="0.22">50</text>
<line x1="290.40" y1="912.48" x2="294.60" y2="912.48" stroke="#777" stroke-width="0.9"/>
<text x="287.80" y="914.78" font-size="6.6" fill="#8a8a8a" font-family='"Liberation Sans", sans-serif' text-anchor="end" stroke="#8a8a8a" stroke-width="0.22">75</text>
<line x1="290.40" y1="882.84" x2="294.60" y2="882.84" stroke="#777" stroke-width="0.9"/>
<text x="287.80" y="885.14" font-size="6.6" fill="#8a8a8a" font-family='"Liberation Sans", sans-serif' text-anchor="end" stroke="#8a8a8a" stroke-width="0.22">100</text>
<line x1="290.40" y1="853.20" x2="294.60" y2="853.20" stroke="#777" stroke-width="0.9"/>
<text x="287.80" y="855.50" font-size="6.6" fill="#8a8a8a" font-family='"Liberation Sans", sans-serif' text-anchor="end" stroke="#8a8a8a" stroke-width="0.22">125</text>
<path d="M354.50 869.80V912.48M354.50 946.86V969.39" stroke="#222" stroke-width="0.9" stroke-dasharray="1.6 1.2" fill="none"/>
<line x1="339.85" y1="869.80" x2="369.15" y2="869.80" stroke="#2a2a2a" stroke-width="1.1"/>
<line x1="339.85" y1="969.39" x2="369.15" y2="969.39" stroke="#2a2a2a" stroke-width="1.1"/>
<rect x="325.80" y="912.48" width="57.40" height="34.38" fill="#5567e0"/>
<line x1="325.80" y1="931.45" x2="383.20" y2="931.45" stroke="#0c0c40" stroke-width="1.3"/>
<path d="M473.55 955.16V977.69M473.55 991.92V1000.21" stroke="#222" stroke-width="0.9" stroke-dasharray="1.6 1.2" fill="none"/>
<line x1="459.15" y1="955.16" x2="487.95" y2="955.16" stroke="#2a2a2a" stroke-width="1.1"/>
<line x1="459.15" y1="1000.21" x2="487.95" y2="1000.21" stroke="#2a2a2a" stroke-width="1.1"/>
<rect x="444.80" y="977.69" width="57.50" height="14.23" fill="#ef3b12"/>
<line x1="444.80" y1="985.99" x2="502.30" y2="985.99" stroke="#4a1208" stroke-width="1.3"/>
<line x1="361.10" y1="861.80" x2="477.60" y2="861.80" stroke="#222" stroke-width="1.3"/>
<path d="M415.00 849.40L415.00 855.20M412.49 850.85L417.51 853.75M417.51 850.85L412.49 853.75" stroke="#333" stroke-width="1.2" fill="none"/>
<path d="M422.70 849.40L422.70 855.20M420.19 850.85L425.21 853.75M425.21 850.85L420.19 853.75" stroke="#333" stroke-width="1.2" fill="none"/>
<path d="M430.40 849.40L430.40 855.20M427.89 850.85L432.91 853.75M432.91 850.85L427.89 853.75" stroke="#333" stroke-width="1.2" fill="none"/>
<text x="354.40" y="1010.10" font-size="5.3" fill="#888" font-family='"Liberation Sans", sans-serif' text-anchor="middle" stroke="#888" stroke-width="0.12">Normal</text>
<text x="354.40" y="1016.20" font-size="5.3" fill="#888" font-family='"Liberation Sans", sans-serif' text-anchor="middle" stroke="#888" stroke-width="0.12">(n=52)</text>
<text x="473.50" y="1010.10" font-size="5.3" fill="#888" font-family='"Liberation Sans", sans-serif' text-anchor="middle" stroke="#888" stroke-width="0.12">Primary tumor</text>
<text x="473.50" y="1016.20" font-size="5.3" fill="#888" font-family='"Liberation Sans", sans-serif' text-anchor="middle" stroke="#888" stroke-width="0.12">(n=503)</text>
<text transform="translate(272.10,927.30) rotate(-90)" font-size="6.8" font-weight="bold" font-family='"Liberation Sans", sans-serif' text-anchor="middle" fill="#111" textLength="67.8" lengthAdjust="spacingAndGlyphs">Transcript per million</text>
<text x="414.60" y="1027.70" font-size="6.6" fill="#111" font-family='"Liberation Sans", sans-serif' font-weight="bold" text-anchor="middle" textLength="47.0" lengthAdjust="spacingAndGlyphs">TCGA samples</text>
<text x="665.00" y="839.40" font-size="8.8" fill="#222" font-family='"Liberation Sans", sans-serif' text-anchor="middle" textLength="214.6" lengthAdjust="spacingAndGlyphs" stroke="#222" stroke-width="0.22">Expression of FERMT3 in LUSC based on Sample types</text>
<line x1="560.90" y1="852.30" x2="560.90" y2="1001.10" stroke="#777" stroke-width="1.0"/>
<line x1="560.90" y1="1001.10" x2="798.30" y2="1001.10" stroke="#777" stroke-width="1.0"/>
<line x1="556.70" y1="1001.10" x2="560.90" y2="1001.10" stroke="#777" stroke-width="0.9"/>
<text x="554.10" y="1003.40" font-size="6.6" fill="#8a8a8a" font-family='"Liberation Sans", sans-serif' text-anchor="end" stroke="#8a8a8a" stroke-width="0.22">0</text>
<line x1="556.70" y1="971.44" x2="560.90" y2="971.44" stroke="#777" stroke-width="0.9"/>
<text x="554.10" y="973.74" font-size="6.6" fill="#8a8a8a" font-family='"Liberation Sans", sans-serif' text-anchor="end" stroke="#8a8a8a" stroke-width="0.22">20</text>
<line x1="556.70" y1="941.78" x2="560.90" y2="941.78" stroke="#777" stroke-width="0.9"/>
<text x="554.10" y="944.08" font-size="6.6" fill="#8a8a8a" font-family='"Liberation Sans", sans-serif' text-anchor="end" stroke="#8a8a8a" stroke-width="0.22">40</text>
<line x1="556.70" y1="912.12" x2="560.90" y2="912.12" stroke="#777" stroke-width="0.9"/>
<text x="554.10" y="914.42" font-size="6.6" fill="#8a8a8a" font-family='"Liberation Sans", sans-serif' text-anchor="end" stroke="#8a8a8a" stroke-width="0.22">60</text>
<line x1="556.70" y1="882.46" x2="560.90" y2="882.46" stroke="#777" stroke-width="0.9"/>
<text x="554.10" y="884.76" font-size="6.6" fill="#8a8a8a" font-family='"Liberation Sans", sans-serif' text-anchor="end" stroke="#8a8a8a" stroke-width="0.22">80</text>
<line x1="556.70" y1="852.80" x2="560.90" y2="852.80" stroke="#777" stroke-width="0.9"/>
<text x="554.10" y="855.10" font-size="6.6" fill="#8a8a8a" font-family='"Liberation Sans", sans-serif' text-anchor="end" stroke="#8a8a8a" stroke-width="0.22">100</text>
<path d="M620.10 878.75V917.31M620.10 944.00V971.44" stroke="#222" stroke-width="0.9" stroke-dasharray="1.6 1.2" fill="none"/>
<line x1="606.05" y1="878.75" x2="634.15" y2="878.75" stroke="#2a2a2a" stroke-width="1.1"/>
<line x1="606.05" y1="971.44" x2="634.15" y2="971.44" stroke="#2a2a2a" stroke-width="1.1"/>
<rect x="591.40" y="917.31" width="57.40" height="26.69" fill="#5567e0"/>
<line x1="591.40" y1="926.95" x2="648.80" y2="926.95" stroke="#0c0c40" stroke-width="1.3"/>
<path d="M739.25 931.40V968.47M739.25 989.24V999.62" stroke="#222" stroke-width="0.9" stroke-dasharray="1.6 1.2" fill="none"/>
<line x1="725.05" y1="931.40" x2="753.45" y2="931.40" stroke="#2a2a2a" stroke-width="1.1"/>
<line x1="725.05" y1="999.62" x2="753.45" y2="999.62" stroke="#2a2a2a" stroke-width="1.1"/>
<rect x="710.60" y="968.47" width="57.30" height="20.76" fill="#ef3b12"/>
<line x1="710.60" y1="980.34" x2="767.90" y2="980.34" stroke="#4a1208" stroke-width="1.3"/>
<line x1="639.70" y1="868.50" x2="755.40" y2="868.50" stroke="#222" stroke-width="1.3"/>
<path d="M693.55 856.80L693.55 862.60M691.04 858.25L696.06 861.15M696.06 858.25L691.04 861.15" stroke="#333" stroke-width="1.2" fill="none"/>
<path d="M701.25 856.80L701.25 862.60M698.74 858.25L703.76 861.15M703.76 858.25L698.74 861.15" stroke="#333" stroke-width="1.2" fill="none"/>
<path d="M708.95 856.80L708.95 862.60M706.44 858.25L711.46 861.15M711.46 858.25L706.44 861.15" stroke="#333" stroke-width="1.2" fill="none"/>
<text x="620.10" y="1009.80" font-size="5.3" fill="#888" font-family='"Liberation Sans", sans-serif' text-anchor="middle" stroke="#888" stroke-width="0.12">Normal</text>
<text x="620.10" y="1015.90" font-size="5.3" fill="#888" font-family='"Liberation Sans", sans-serif' text-anchor="middle" stroke="#888" stroke-width="0.12">(n=52)</text>
<text x="739.20" y="1009.80" font-size="5.3" fill="#888" font-family='"Liberation Sans", sans-serif' text-anchor="middle" stroke="#888" stroke-width="0.12">Primary tumor</text>
<text x="739.20" y="1015.90" font-size="5.3" fill="#888" font-family='"Liberation Sans", sans-serif' text-anchor="middle" stroke="#888" stroke-width="0.12">(n=503)</text>
<text transform="translate(537.60,926.80) rotate(-90)" font-size="6.8" font-weight="bold" font-family='"Liberation Sans", sans-serif' text-anchor="middle" fill="#111" textLength="67.8" lengthAdjust="spacingAndGlyphs">Transcript per million</text>
<text x="679.90" y="1027.70" font-size="6.6" fill="#111" font-family='"Liberation Sans", sans-serif' font-weight="bold" text-anchor="middle" textLength="47.0" lengthAdjust="spacingAndGlyphs">TCGA samples</text>
<text x="135.70" y="1049.00" font-size="8.8" fill="#222" font-family='"Liberation Sans", sans-serif' text-anchor="middle" textLength="216.0" lengthAdjust="spacingAndGlyphs" stroke="#222" stroke-width="0.22">Expression of FERMT1 in LUAD based on Sample types</text>
<line x1="28.40" y1="1062.00" x2="28.40" y2="1211.00" stroke="#777" stroke-width="1.0"/>
<line x1="28.40" y1="1211.00" x2="259.90" y2="1211.00" stroke="#777" stroke-width="1.0"/>
<line x1="24.20" y1="1211.00" x2="28.40" y2="1211.00" stroke="#777" stroke-width="0.9"/>
<text x="21.60" y="1213.30" font-size="6.6" fill="#8a8a8a" font-family='"Liberation Sans", sans-serif' text-anchor="end" stroke="#8a8a8a" stroke-width="0.22">0</text>
<line x1="24.20" y1="1189.79" x2="28.40" y2="1189.79" stroke="#777" stroke-width="0.9"/>
<text x="21.60" y="1192.09" font-size="6.6" fill="#8a8a8a" font-family='"Liberation Sans", sans-serif' text-anchor="end" stroke="#8a8a8a" stroke-width="0.22">5</text>
<line x1="24.20" y1="1168.57" x2="28.40" y2="1168.57" stroke="#777" stroke-width="0.9"/>
<text x="21.60" y="1170.87" font-size="6.6" fill="#8a8a8a" font-family='"Liberation Sans", sans-serif' text-anchor="end" stroke="#8a8a8a" stroke-width="0.22">10</text>
<line x1="24.20" y1="1147.36" x2="28.40" y2="1147.36" stroke="#777" stroke-width="0.9"/>
<text x="21.60" y="1149.66" font-size="6.6" fill="#8a8a8a" font-family='"Liberation Sans", sans-serif' text-anchor="end" stroke="#8a8a8a" stroke-width="0.22">15</text>
<line x1="24.20" y1="1126.14" x2="28.40" y2="1126.14" stroke="#777" stroke-width="0.9"/>
<text x="21.60" y="1128.44" font-size="6.6" fill="#8a8a8a" font-family='"Liberation Sans", sans-serif' text-anchor="end" stroke="#8a8a8a" stroke-width="0.22">20</text>
<line x1="24.20" y1="1104.93" x2="28.40" y2="1104.93" stroke="#777" stroke-width="0.9"/>
<text x="21.60" y="1107.23" font-size="6.6" fill="#8a8a8a" font-family='"Liberation Sans", sans-serif' text-anchor="end" stroke="#8a8a8a" stroke-width="0.22">25</text>
<line x1="24.20" y1="1083.71" x2="28.40" y2="1083.71" stroke="#777" stroke-width="0.9"/>
<text x="21.60" y="1086.01" font-size="6.6" fill="#8a8a8a" font-family='"Liberation Sans", sans-serif' text-anchor="end" stroke="#8a8a8a" stroke-width="0.22">30</text>
<line x1="24.20" y1="1062.50" x2="28.40" y2="1062.50" stroke="#777" stroke-width="0.9"/>
<text x="21.60" y="1064.80" font-size="6.6" fill="#8a8a8a" font-family='"Liberation Sans", sans-serif' text-anchor="end" stroke="#8a8a8a" stroke-width="0.22">35</text>
<path d="M89.05 1201.67V1205.27M89.05 1207.39V1209.30" stroke="#222" stroke-width="0.9" stroke-dasharray="1.6 1.2" fill="none"/>
<line x1="74.85" y1="1201.67" x2="103.25" y2="1201.67" stroke="#2a2a2a" stroke-width="1.1"/>
<line x1="74.85" y1="1209.30" x2="103.25" y2="1209.30" stroke="#2a2a2a" stroke-width="1.1"/>
<rect x="60.00" y="1205.27" width="58.10" height="2.12" fill="#1c2266"/>
<path d="M209.80 1079.47V1154.57M209.80 1192.33V1210.15" stroke="#222" stroke-width="0.9" stroke-dasharray="1.6 1.2" fill="none"/>
<line x1="195.60" y1="1079.47" x2="224.00" y2="1079.47" stroke="#2a2a2a" stroke-width="1.1"/>
<line x1="195.60" y1="1210.15" x2="224.00" y2="1210.15" stroke="#2a2a2a" stroke-width="1.1"/>
<rect x="180.60" y="1154.57" width="58.40" height="37.76" fill="#ef3b12"/>
<line x1="180.60" y1="1175.36" x2="239.00" y2="1175.36" stroke="#4a1208" stroke-width="1.3"/>
<line x1="92.10" y1="1069.60" x2="209.20" y2="1069.60" stroke="#222" stroke-width="1.3"/>
<path d="M146.70 1057.30L146.70 1063.10M144.19 1058.75L149.21 1061.65M149.21 1058.75L144.19 1061.65" stroke="#333" stroke-width="1.2" fill="none"/>
<path d="M154.40 1057.30L154.40 1063.10M151.89 1058.75L156.91 1061.65M156.91 1058.75L151.89 1061.65" stroke="#333" stroke-width="1.2" fill="none"/>
<path d="M162.10 1057.30L162.10 1063.10M159.59 1058.75L164.61 1061.65M164.61 1058.75L159.59 1061.65" stroke="#333" stroke-width="1.2" fill="none"/>
<text x="87.60" y="1219.70" font-size="5.3" fill="#888" font-family='"Liberation Sans", sans-serif' text-anchor="middle" stroke="#888" stroke-width="0.12">Normal</text>
<text x="87.60" y="1225.80" font-size="5.3" fill="#888" font-family='"Liberation Sans", sans-serif' text-anchor="middle" stroke="#888" stroke-width="0.12">(n=59)</text>
<text x="209.80" y="1219.70" font-size="5.3" fill="#888" font-family='"Liberation Sans", sans-serif' text-anchor="middle" stroke="#888" stroke-width="0.12">Primary tumor</text>
<text x="209.80" y="1225.80" font-size="5.3" fill="#888" font-family='"Liberation Sans", sans-serif' text-anchor="middle" stroke="#888" stroke-width="0.12">(n=515)</text>
<text transform="translate(8.60,1136.70) rotate(-90)" font-size="6.8" font-weight="bold" font-family='"Liberation Sans", sans-serif' text-anchor="middle" fill="#111" textLength="67.8" lengthAdjust="spacingAndGlyphs">Transcript per million</text>
<text x="148.00" y="1237.30" font-size="6.6" fill="#111" font-family='"Liberation Sans", sans-serif' font-weight="bold" text-anchor="middle" textLength="47.0" lengthAdjust="spacingAndGlyphs">TCGA samples</text>
<text x="399.40" y="1049.30" font-size="8.8" fill="#222" font-family='"Liberation Sans", sans-serif' text-anchor="middle" textLength="217.0" lengthAdjust="spacingAndGlyphs" stroke="#222" stroke-width="0.22">Expression of FERMT2 in LUAD based on Sample types</text>
<line x1="294.60" y1="1062.40" x2="294.60" y2="1211.00" stroke="#777" stroke-width="1.0"/>
<line x1="294.60" y1="1211.00" x2="526.50" y2="1211.00" stroke="#777" stroke-width="1.0"/>
<line x1="290.40" y1="1211.00" x2="294.60" y2="1211.00" stroke="#777" stroke-width="0.9"/>
<text x="287.80" y="1213.30" font-size="6.6" fill="#8a8a8a" font-family='"Liberation Sans", sans-serif' text-anchor="end" stroke="#8a8a8a" stroke-width="0.22">0</text>
<line x1="290.40" y1="1181.38" x2="294.60" y2="1181.38" stroke="#777" stroke-width="0.9"/>
<text x="287.80" y="1183.68" font-size="6.6" fill="#8a8a8a" font-family='"Liberation Sans", sans-serif' text-anchor="end" stroke="#8a8a8a" stroke-width="0.22">25</text>
<line x1="290.40" y1="1151.76" x2="294.60" y2="1151.76" stroke="#777" stroke-width="0.9"/>
<text x="287.80" y="1154.06" font-size="6.6" fill="#8a8a8a" font-family='"Liberation Sans", sans-serif' text-anchor="end" stroke="#8a8a8a" stroke-width="0.22">50</text>
<line x1="290.40" y1="1122.14" x2="294.60" y2="1122.14" stroke="#777" stroke-width="0.9"/>
<text x="287.80" y="1124.44" font-size="6.6" fill="#8a8a8a" font-family='"Liberation Sans", sans-serif' text-anchor="end" stroke="#8a8a8a" stroke-width="0.22">75</text>
<line x1="290.40" y1="1092.52" x2="294.60" y2="1092.52" stroke="#777" stroke-width="0.9"/>
<text x="287.80" y="1094.82" font-size="6.6" fill="#8a8a8a" font-family='"Liberation Sans", sans-serif' text-anchor="end" stroke="#8a8a8a" stroke-width="0.22">100</text>
<line x1="290.40" y1="1062.90" x2="294.60" y2="1062.90" stroke="#777" stroke-width="0.9"/>
<text x="287.80" y="1065.20" font-size="6.6" fill="#8a8a8a" font-family='"Liberation Sans", sans-serif' text-anchor="end" stroke="#8a8a8a" stroke-width="0.22">125</text>
<path d="M354.50 1097.26V1126.88M354.50 1156.50V1186.12" stroke="#222" stroke-width="0.9" stroke-dasharray="1.6 1.2" fill="none"/>
<line x1="339.85" y1="1097.26" x2="369.15" y2="1097.26" stroke="#2a2a2a" stroke-width="1.1"/>
<line x1="339.85" y1="1186.12" x2="369.15" y2="1186.12" stroke="#2a2a2a" stroke-width="1.1"/>
<rect x="325.80" y="1126.88" width="57.40" height="29.62" fill="#5567e0"/>
<line x1="325.80" y1="1139.91" x2="383.20" y2="1139.91" stroke="#0c0c40" stroke-width="1.3"/>
<path d="M473.55 1149.98V1176.64M473.55 1193.23V1207.45" stroke="#222" stroke-width="0.9" stroke-dasharray="1.6 1.2" fill="none"/>
<line x1="459.15" y1="1149.98" x2="487.95" y2="1149.98" stroke="#2a2a2a" stroke-width="1.1"/>
<line x1="459.15" y1="1207.45" x2="487.95" y2="1207.45" stroke="#2a2a2a" stroke-width="1.1"/>
<rect x="444.80" y="1176.64" width="57.50" height="16.59" fill="#ef3b12"/>
<line x1="444.80" y1="1186.12" x2="502.30" y2="1186.12" stroke="#4a1208" stroke-width="1.3"/>
<line x1="364.50" y1="1087.80" x2="480.90" y2="1087.80" stroke="#222" stroke-width="1.3"/>
<path d="M417.85 1075.10L417.85 1080.90M415.34 1076.55L420.36 1079.45M420.36 1076.55L415.34 1079.45" stroke="#333" stroke-width="1.2" fill="none"/>
<path d="M425.55 1075.10L425.55 1080.90M423.04 1076.55L428.06 1079.45M428.06 1076.55L423.04 1079.45" stroke="#333" stroke-width="1.2" fill="none"/>
<path d="M433.25 1075.10L433.25 1080.90M430.74 1076.55L435.76 1079.45M435.76 1076.55L430.74 1079.45" stroke="#333" stroke-width="1.2" fill="none"/>
<text x="354.40" y="1219.70" font-size="5.3" fill="#888" font-family='"Liberation Sans", sans-serif' text-anchor="middle" stroke="#888" stroke-width="0.12">Normal</text>
<text x="354.40" y="1225.80" font-size="5.3" fill="#888" font-family='"Liberation Sans", sans-serif' text-anchor="middle" stroke="#888" stroke-width="0.12">(n=59)</text>
<text x="473.50" y="1219.70" font-size="5.3" fill="#888" font-family='"Liberation Sans", sans-serif' text-anchor="middle" stroke="#888" stroke-width="0.12">Primary tumor</text>
<text x="473.50" y="1225.80" font-size="5.3" fill="#888" font-family='"Liberation Sans", sans-serif' text-anchor="middle" stroke="#888" stroke-width="0.12">(n=515)</text>
<text transform="translate(272.10,1137.00) rotate(-90)" font-size="6.8" font-weight="bold" font-family='"Liberation Sans", sans-serif' text-anchor="middle" fill="#111" textLength="67.8" lengthAdjust="spacingAndGlyphs">Transcript per million</text>
<text x="414.60" y="1237.30" font-size="6.6" fill="#111" font-family='"Liberation Sans", sans-serif' font-weight="bold" text-anchor="middle" textLength="47.0" lengthAdjust="spacingAndGlyphs">TCGA samples</text>
<text x="665.00" y="1048.60" font-size="8.8" fill="#222" font-family='"Liberation Sans", sans-serif' text-anchor="middle" textLength="217.4" lengthAdjust="spacingAndGlyphs" stroke="#222" stroke-width="0.22">Expression of FERMT3 in LUAD based on Sample types</text>
<line x1="560.90" y1="1061.00" x2="560.90" y2="1210.00" stroke="#777" stroke-width="1.0"/>
<line x1="560.90" y1="1210.00" x2="798.30" y2="1210.00" stroke="#777" stroke-width="1.0"/>
<line x1="556.70" y1="1210.00" x2="560.90" y2="1210.00" stroke="#777" stroke-width="0.9"/>
<text x="554.10" y="1212.30" font-size="6.6" fill="#8a8a8a" font-family='"Liberation Sans", sans-serif' text-anchor="end" stroke="#8a8a8a" stroke-width="0.22">0</text>
<line x1="556.70" y1="1180.30" x2="560.90" y2="1180.30" stroke="#777" stroke-width="0.9"/>
<text x="554.10" y="1182.60" font-size="6.6" fill="#8a8a8a" font-family='"Liberation Sans", sans-serif' text-anchor="end" stroke="#8a8a8a" stroke-width="0.22">20</text>
<line x1="556.70" y1="1150.60" x2="560.90" y2="1150.60" stroke="#777" stroke-width="0.9"/>
<text x="554.10" y="1152.90" font-size="6.6" fill="#8a8a8a" font-family='"Liberation Sans", sans-serif' text-anchor="end" stroke="#8a8a8a" stroke-width="0.22">40</text>
<line x1="556.70" y1="1120.90" x2="560.90" y2="1120.90" stroke="#777" stroke-width="0.9"/>
<text x="554.10" y="1123.20" font-size="6.6" fill="#8a8a8a" font-family='"Liberation Sans", sans-serif' text-anchor="end" stroke="#8a8a8a" stroke-width="0.22">60</text>
<line x1="556.70" y1="1091.20" x2="560.90" y2="1091.20" stroke="#777" stroke-width="0.9"/>
<text x="554.10" y="1093.50" font-size="6.6" fill="#8a8a8a" font-family='"Liberation Sans", sans-serif' text-anchor="end" stroke="#8a8a8a" stroke-width="0.22">80</text>
<line x1="556.70" y1="1061.50" x2="560.90" y2="1061.50" stroke="#777" stroke-width="0.9"/>
<text x="554.10" y="1063.80" font-size="6.6" fill="#8a8a8a" font-family='"Liberation Sans", sans-serif' text-anchor="end" stroke="#8a8a8a" stroke-width="0.22">100</text>
<path d="M620.10 1094.91V1134.27M620.10 1159.51V1181.04" stroke="#222" stroke-width="0.9" stroke-dasharray="1.6 1.2" fill="none"/>
<line x1="606.05" y1="1094.91" x2="634.15" y2="1094.91" stroke="#2a2a2a" stroke-width="1.1"/>
<line x1="606.05" y1="1181.04" x2="634.15" y2="1181.04" stroke="#2a2a2a" stroke-width="1.1"/>
<rect x="591.40" y="1134.27" width="57.40" height="25.24" fill="#5567e0"/>
<line x1="591.40" y1="1146.14" x2="648.80" y2="1146.14" stroke="#0c0c40" stroke-width="1.3"/>
<path d="M739.25 1113.47V1162.48M739.25 1190.69V1207.03" stroke="#222" stroke-width="0.9" stroke-dasharray="1.6 1.2" fill="none"/>
<line x1="725.05" y1="1113.47" x2="753.45" y2="1113.47" stroke="#2a2a2a" stroke-width="1.1"/>
<line x1="725.05" y1="1207.03" x2="753.45" y2="1207.03" stroke="#2a2a2a" stroke-width="1.1"/>
<rect x="710.60" y="1162.48" width="57.30" height="28.21" fill="#ef3b12"/>
<line x1="710.60" y1="1178.07" x2="767.90" y2="1178.07" stroke="#4a1208" stroke-width="1.3"/>
<line x1="639.70" y1="1086.10" x2="755.40" y2="1086.10" stroke="#222" stroke-width="1.3"/>
<path d="M693.55 1073.80L693.55 1079.60M691.04 1075.25L696.06 1078.15M696.06 1075.25L691.04 1078.15" stroke="#333" stroke-width="1.2" fill="none"/>
<path d="M701.25 1073.80L701.25 1079.60M698.74 1075.25L703.76 1078.15M703.76 1075.25L698.74 1078.15" stroke="#333" stroke-width="1.2" fill="none"/>
<path d="M708.95 1073.80L708.95 1079.60M706.44 1075.25L711.46 1078.15M711.46 1075.25L706.44 1078.15" stroke="#333" stroke-width="1.2" fill="none"/>
<text x="620.10" y="1218.70" font-size="5.3" fill="#888" font-family='"Liberation Sans", sans-serif' text-anchor="middle" stroke="#888" stroke-width="0.12">Normal</text>
<text x="620.10" y="1224.80" font-size="5.3" fill="#888" font-family='"Liberation Sans", sans-serif' text-anchor="middle" stroke="#888" stroke-width="0.12">(n=59)</text>
<text x="739.20" y="1218.70" font-size="5.3" fill="#888" font-family='"Liberation Sans", sans-serif' text-anchor="middle" stroke="#888" stroke-width="0.12">Primary tumor</text>
<text x="739.20" y="1224.80" font-size="5.3" fill="#888" font-family='"Liberation Sans", sans-serif' text-anchor="middle" stroke="#888" stroke-width="0.12">(n=515)</text>
<text transform="translate(537.60,1137.00) rotate(-90)" font-size="6.8" font-weight="bold" font-family='"Liberation Sans", sans-serif' text-anchor="middle" fill="#111" textLength="67.8" lengthAdjust="spacingAndGlyphs">Transcript per million</text>
<text x="679.90" y="1235.90" font-size="6.6" fill="#111" font-family='"Liberation Sans", sans-serif' font-weight="bold" text-anchor="middle" textLength="47.0" lengthAdjust="spacingAndGlyphs">TCGA samples</text>
</svg>
</body></html>
